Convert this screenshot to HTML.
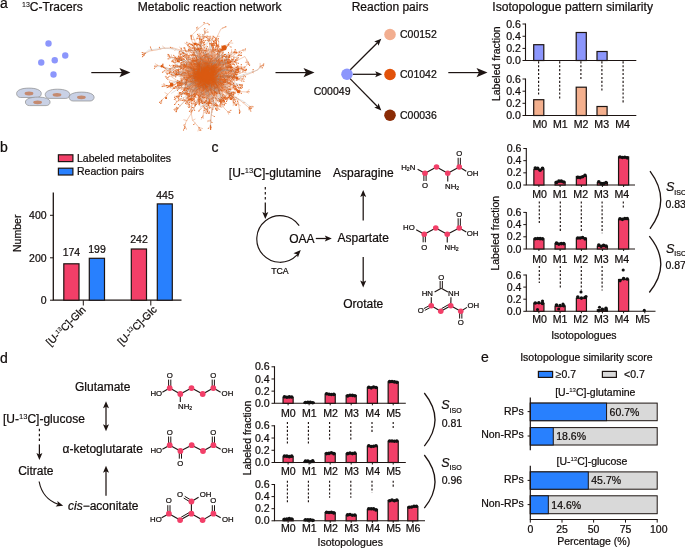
<!DOCTYPE html>
<html lang="en"><head><meta charset="utf-8"><title>Isotopologue similarity networking</title>
<style>html,body{margin:0;padding:0;background:#fff}svg{display:block}text{font-family:"Liberation Sans",Arial,Helvetica,sans-serif;fill:#120d0c;stroke:#120d0c;stroke-width:0.22px}</style></head><body>
<svg width="685" height="549" viewBox="0 0 685 549" fill="none" stroke="#1d1412" stroke-linecap="butt">
<rect x="0" y="0" width="685" height="549" fill="#fff" stroke="none"/>
<g id="panel-a">
<text x="0" y="8.2" font-size="14">a</text>
<text x="22" y="11" font-size="12"><tspan dy="-3.8" font-size="7" stroke-width="0.1">13</tspan><tspan dy="3.8">C-Tracers</tspan></text>
<text x="137.8" y="11" font-size="12.1">Metabolic reaction network</text>
<text x="351.7" y="10.5" font-size="12">Reaction pairs</text>
<text x="492.3" y="10.5" font-size="12.1">Isotopologue pattern similarity</text>
<circle cx="48.5" cy="43.5" r="3.2" fill="#8C96FC" stroke="none"/>
<circle cx="65.25" cy="55.5" r="3.2" fill="#8C96FC" stroke="none"/>
<circle cx="41.25" cy="62.5" r="3.2" fill="#8C96FC" stroke="none"/>
<circle cx="54.75" cy="60.25" r="3.2" fill="#8C96FC" stroke="none"/>
<circle cx="53.5" cy="74.5" r="3.2" fill="#8C96FC" stroke="none"/>
<path d="M16.6,93.55 C16.6,89.98 22.03,88.1 28.95,88.1 C35.87,88.1 41.3,89.98 41.3,93.55 C41.3,95.81 39.57,97.5 37.35,97.5 L20.55,97.5 C18.33,97.5 16.6,95.81 16.6,93.55 Z" fill="#C9D1E5" stroke="#8C8C8C" stroke-width="0.7"/>
<ellipse cx="29" cy="93.5" rx="4.4" ry="1.9" fill="#C48A70" stroke="none"/>
<path d="M45.2,94.54 C45.2,91.04 50.61,89.2 57.5,89.2 C64.39,89.2 69.8,91.04 69.8,94.54 C69.8,96.74 68.08,98.4 65.86,98.4 L49.14,98.4 C46.92,98.4 45.2,96.74 45.2,94.54 Z" fill="#C9D1E5" stroke="#8C8C8C" stroke-width="0.7"/>
<ellipse cx="57" cy="94.8" rx="4.4" ry="1.9" fill="#C48A70" stroke="none"/>
<path d="M69.1,97.26 C69.1,93.88 74.6,92.1 81.6,92.1 C88.6,92.1 94.1,93.88 94.1,97.26 C94.1,99.4 92.35,101 90.1,101 L73.1,101 C70.85,101 69.1,99.4 69.1,97.26 Z" fill="#C9D1E5" stroke="#8C8C8C" stroke-width="0.7"/>
<ellipse cx="81.4" cy="97.3" rx="4.4" ry="1.9" fill="#C48A70" stroke="none"/>
<path d="M25.4,102.03 C25.4,98.8 30.83,97.1 37.75,97.1 C44.67,97.1 50.1,98.8 50.1,102.03 C50.1,104.07 48.37,105.6 46.15,105.6 L29.35,105.6 C27.13,105.6 25.4,104.07 25.4,102.03 Z" fill="#C9D1E5" stroke="#8C8C8C" stroke-width="0.7"/>
<ellipse cx="37.6" cy="102.3" rx="4.4" ry="1.9" fill="#C48A70" stroke="none"/>
<line x1="91.3" y1="72.6" x2="122.2" y2="72.6" stroke-width="1.2"/>
<polygon points="130.4,72.6 119.4,77.2 121.9,72.6 119.4,68" fill="#1d1412" stroke="none"/>
<line x1="275.5" y1="72.6" x2="306.3" y2="72.6" stroke-width="1.2"/>
<polygon points="314.5,72.6 303.5,77.2 306,72.6 303.5,68" fill="#1d1412" stroke="none"/>
<line x1="448.3" y1="72.6" x2="479.3" y2="72.6" stroke-width="1.2"/>
<polygon points="487.5,72.6 476.5,77.2 479,72.6 476.5,68" fill="#1d1412" stroke="none"/>
<defs><radialGradient id="core" cx="0.5" cy="0.5" r="0.5"><stop offset="0" stop-color="#DE5C0E" stop-opacity="0.95"/><stop offset="0.45" stop-color="#DC5E12" stop-opacity="0.8"/><stop offset="0.8" stop-color="#D8662A" stop-opacity="0.35"/><stop offset="1" stop-color="#D8662A" stop-opacity="0"/></radialGradient></defs>
<ellipse cx="206" cy="75.5" rx="27" ry="25" fill="url(#core)" stroke="none"/>
<path d="M209.96,71.98L218.67,63.21M211.22,78.92L218.49,80.09M199.25,73.39L195.98,72.81M204.63,86.57L208.31,92.99M213.65,64.97L218.93,53.44M206.04,76.44L202.16,72.6M210.21,68.17L205.2,60.99M209.53,82.73L203.35,93.56M207.04,76.46L211.02,73.76M194.31,69.02L182.15,75.64M204.37,77.02L195.7,73.87M190.99,76.87L186.5,63.29M209.73,73.51L204.03,71.28M210.6,77.34L212.94,66.55M199.55,66.29L203.04,63.12M209.6,76.62L213.14,62.23M218.33,81.9L230.45,87.29M207.52,77.85L206.83,86.17M218.58,72.9L218.91,82.46M194.55,74.72L198.93,62.46M214.37,84.09L220.16,88.58M205,71.45L204.65,66M192.33,79.01L193.88,85.04M205.37,75.28L218.45,75.42M204.18,82.69L207.05,84.83M199.87,80.32L210.69,70.7M202.45,77.29L208.91,64.73M207.02,74.46L200.01,65.14M220.2,78.45L221.55,90.77M202.7,69.25L204.26,64.1M206.18,78.49L202.81,90.14M214.81,86.32L216.59,93.83M207.3,75.53L201.25,81.76M208.8,72.69L205.96,74.48M212.94,71.66L214.62,66.74M205.58,75.02L201.16,83.58M199.45,69.72L199.31,58.63M192.53,68.56L187.03,72.77M199.81,75.84L206.72,65.03M197.4,79.77L195.14,85.76M201.68,79.44L206.94,73.41M206.73,70.03L202.05,73.23M210.47,79.49L209.53,73.6M203.16,72.5L202.75,68.53M209.49,70.36L207.81,55.5M206.21,76.77L191.45,77.53M198.9,62.08L205.62,74.08M195.83,70.08L206.59,78.38M213.07,72.08L213.18,83.88M204.41,77.57L210.71,79.55M206.96,68.57L218.53,69.03M207.04,87.78L205.27,90.76M201.65,68.95L187.17,71.76M211.57,77.47L204.98,85.1M214.31,63.43L205.83,53.91M207.8,78.14L200.91,66.98M211.37,81.72L202.9,87.49M214.08,69.82L206.78,66.16M207.05,66.96L199.4,67.45M205.84,76.22L197.09,83.23M199.45,77.8L204.68,77.89M196.9,62.58L203.52,59.4M212.69,77.5L223.43,70.28M195.52,64.76L198.7,64.99M204.24,76.68L208.22,73.94M205,73.98L198.14,86.39M195.62,74.63L187.32,62.5M208.76,81.55L209.29,78.15M206.77,75.04L214.86,82.79M205.32,73.37L210.31,75M192.43,78.06L192.06,92.24M204.72,76.78L210.64,86.94M200.69,70.28L194.65,75.55M203.14,77.14L194.13,70.45M209.32,66.96L222.49,70.55M197.01,71.18L200.74,66.12M205.66,74.45L212.92,78.91M196.21,73.94L199.39,74.62M207.75,74.27L212.87,63.19M202.25,73.86L189.26,77.35M205.32,74.21L210.53,75.41M205.83,76.62L215.34,66.06M202.1,81.9L212.53,91M205.05,83.53L201.48,87.61M205.78,74.36L209.61,68.48M215.73,83.98L220.43,73.4M203.34,79.17L194.87,87M204.53,75.61L200.64,73.07M204.88,75.25L209.83,61.33M202.83,69.87L196.77,68.22M202.56,87.24L198.37,101.48M196.35,82.51L197.94,75.84M216.17,69.59L204.25,66.65M197.56,80.28L188.86,75.91M203.46,72.98L197.27,81.14M200.73,69.89L197.75,71.74M199.42,74.2L189.65,65.8M206.71,77.02L211.74,80.65M205.54,83.15L208.74,81.66M209.74,66.08L204.42,62.08M204.87,76.49L191.43,77.81M204,75.97L206.7,78.62M209.69,68.44L205.44,70.03M207.33,70.28L204.37,74.2M202.7,87.56L209.29,83.31M212.31,80.29L215.41,92.4M203.23,78.63L191.03,74.82M198.22,70.19L199.08,61.7M208.17,80.78L214.2,71.99M205.3,74.56L200.65,76.29M199.74,85.68L208.13,84.15M197.33,64.94L193.68,70.43M192.08,83.1L188.48,84.54M212.59,68.2L221.06,63.36M200,82.87L194.86,71.85M204.98,74.63L200.98,73.37M206.48,75.47L207.94,82.27M190.58,69.47L199.1,60.66M197.81,83.3L199.6,77.18M217.62,70.45L213.9,80.98M219.23,80.07L216.1,86.39M218.17,81.45L213.67,78.96M200.64,80.66L189.57,86.01M205.28,71.32L203.81,65.4M208.7,79.04L208.31,73.93M205.45,75.2L198.5,75.84M213.53,66.39L216.93,62.48M206.12,75.49L220.79,76.36M204.32,76.73L201.38,63.02M210.39,74.42L210.71,77.8M208.68,75.37L202.64,88.98M213.19,71.01L214.75,78.03M202.05,77.34L196.1,80.66M207.6,80.79L210.03,77.13M201.69,83.07L216.35,83.15M213.04,65.82L205.41,60.82M207.29,84.79L206.32,95.09M208.12,69.23L210.87,74.41M198.06,77.1L194.85,79.58M207.59,71.69L204.9,68.59M205.05,74.93L212.34,69.73M194.65,74.25L188.47,62.94M204.26,72.56L205.42,62.98M207.03,76.3L212.02,78.93M201.4,81.48L210.61,81.83M206.91,71.18L197.21,74.03M211.43,79.03L212.31,74.99M201.91,76.97L201.39,87.87M208.15,75.91L219.11,78.85M207.49,76.14L206.87,80.78M209.98,72.88L207.22,70.9M205.61,81.27L210.76,92.01M201.74,69.26L204.14,73.61M205.53,75.47L192.07,75.32M203.39,73.95L198.59,70.68M194.79,81.55L194.92,85.6M202.37,80.18L217.08,79.93M206.08,76.63L212.02,67.97M205.2,64.98L207.38,60.91M219.49,70.42L223.8,69.56M201.06,81.51L206.29,72.83M217.99,71.85L219.18,79.1M205.65,75.27L191.89,79.31M215.59,79.83L205.74,83.44M217.14,67.89L211.26,74.67M200.18,72.42L197.41,74.65M214.89,72.98L216.65,78.92M198.29,77.16L189.8,67.26M205.61,68.93L201.51,73.72M206.37,73.46L200.43,81.25M201.25,77.72L199.78,87.49M205.7,76.13L203.85,72.44M214.21,78.14L206.36,75.32M202.71,79.64L204.68,89.26M207.68,69.77L216.96,71.57M207.66,88.31L221.07,87.95M201.9,77.33L204.1,83.33M202.52,73.9L213.77,71.98M215.69,77.69L212.55,81.72M193.47,77.03L206.13,69.19M208.95,87.21L214.92,88.01M205.85,77.4L207.67,69.91M210.15,74.27L214.59,84.89M211.6,79.43L221.17,71.47M218.2,75.17L205.79,70.62M196.23,86.43L195.71,82.33M194.15,81.91L188,73.61M205.31,73.41L216.04,66.87M205.23,74.46L193.26,80.02M215.92,73.83L225.8,69.35M194.4,72.47L182.49,80.3M215.65,80.93L214.36,86.33M203.2,69.91L202.92,58.63M206.35,74.85L204.7,85.98M206.23,73.75L209.73,69.24M207.05,83.49L210.82,83.84M214.52,83.9L204.98,94.9M205.21,67.66L211.9,60.56M206.57,77.57L196.19,71.58M194.71,74.27L180.35,74.98M215.59,76.36L219.52,82.73M203.16,76.39L195.97,64.78M214.35,71.87L221.83,74.39M206.86,74.66L202.25,77.62M203.25,77.23L204.78,62.76M201.38,70.26L198.41,60.07M207.35,74.86L209.79,76.99M204.61,71.08L206.29,65.58M205.17,80.68L197.26,79.01M202.17,74.73L206.55,72.73M203.71,78.63L201.66,70.15M200.19,80.13L207.7,76.45M211.64,78.39L218.05,82.7M199.6,80.24L200.22,84.52M198.55,79.05L206.62,72.14M205.83,74.14L203.78,59.39M198.09,72.88L193.58,80.05M214.43,68.97L209.98,79.9M197.79,71.46L194.15,69.23M207.63,81.31L204.48,87.13M210.86,75.18L209.39,68.25M208.51,81.28L200.37,84.51M206.75,77.09L205.59,73.39M207.24,77.08L211.64,71.15M210.45,85.13L213.95,82.49M204.02,76.46L199.03,82.26M196.37,72.89L193.25,78.37M215.57,76.28L220.52,78.22M207.24,73.98L193.61,69.47M205.27,75.18L208.15,72.23M206.27,76.54L201.45,67.43M202.78,69.58L199.62,70.84M201.92,77.99L213.2,78.31M206.85,69.57L216.02,69.9M191.15,68.76L181.29,75.13M211.28,71.3L214.24,59.16M212.37,74.63L207.69,84.87M204.64,73.84L200.29,78.44M198.26,76.89L187.39,84.66M203.07,72.39L203.11,79.91M202.63,75.6L200.95,67.14M210.49,71.92L220.68,70.05M211.89,67.36L218.67,72.18M203.91,88.09L196.92,85.62M197.82,83.56L194.63,93.31M204.85,74.72L202.16,76.29M215.42,81.82L213.86,95.92M206.02,74.13L217.37,83.59M204.91,75.63L215.39,72.48M213.98,87.06L209.91,84.53M191.98,81.52L185.3,81.01M206.97,79.05L205.42,75.31M201.88,67.17L191.86,61.81M203.53,77.27L199.29,82.43M204.12,62.79L204.67,68.25M205.08,73.39L213.08,62.21M192.28,79.91L189.13,87.32M199.53,88.64L194.3,94.7M209.1,64.66L208.83,68.91M198,74.54L191.82,80.97M206.8,86.01L194.76,89.32M202.43,69.1L195.34,62.71M198.3,71.79L193,73.79M211.8,64.05L221,64.96M205.15,76.77L216.78,68.9" stroke="#8E8E8E" stroke-width="0.3" opacity="0.9"/>
<path d="M203.65,72.61L199.88,71.74M211.43,77.1L220.27,79.22M201.14,77.07L210.34,86.14M203.9,73.47L191.18,66.78M207.89,72.27L211.88,77.37M205.3,75.49L210.69,87.09M198.14,72.89L201.63,74.26M201.61,67.3L198.42,74.78M208.26,66.07L208.68,77.45M202.5,74.56L200.76,61.17M200.12,77.81L207.1,87.68M206.25,75.17L207.26,64.2M202.92,68.34L194.04,63.46M209.57,69.06L195.42,71.38M194.7,61.75L201.22,48.33M200.09,79.37L211,80.93M208.35,76.02L216.75,84.9M201.32,78.16L213.09,84.69M215.84,54.42L213.46,67.57M200.53,80.65L213.66,77.08M205.92,78.72L198.45,74.03M213.57,75.19L208.1,81.07M187.38,73.36L182.73,64.05M213.28,80.48L223.09,84.53M207.51,82.02L204.86,86.2M205.49,74.99L205.42,79.78M207.93,71.85L193.36,75.02M209.61,77.28L207.29,80.81M208.97,75.47L194.78,72.92M191.29,72.27L185.36,83.1M210.35,105.52L204.68,112.78M204.93,84.15L215.82,81.1M207.12,74.37L221.39,70.23M218.77,67.18L218.78,54.79M195.51,81.6L193.25,67.42M219.5,73.39L213.08,82.18M218.06,87.54L221.18,86.96M179.41,85.67L185.6,73.72M205.44,79.45L205.83,85.96M206.02,75.52L197.57,86.58M190.37,72.92L187.37,74.1M205.66,75L211.56,86.12M217.8,83.96L217.89,93.68M203.59,74.28L213.93,67.94M194.37,66.19L185.33,65.5M208.11,77.32L215.57,80.97M208.59,89.78L197.01,98.39M217.87,93.42L209.73,92.62M206,76.3L204.81,69.58M218.04,76.32L213.07,71.42M212.98,76.76L211.4,89.01M200.23,77.59L206.08,64.95M190.63,68.46L200.28,74.54M204.78,74.89L209.31,78.61M211.67,76.87L209.61,81.89M204.89,75L201.95,79.21M205.47,84.5L205.13,81.33M210.3,73.07L212.09,69.18M192.42,75.38L182.23,83.48M198.09,85.41L194.61,72.9M178.53,92.04L185.29,94.44M211.53,69.1L209.33,79.92M209.76,75.03L202.28,76.23M208.79,84.58L217.84,84.86M215.74,77.54L214.65,80.62M199.74,71.82L199.77,62.47M201.34,78.21L208.22,77.54M204.12,62.49L212.29,72.28M196.22,55.85L197.64,67.08M194.07,64.25L182.93,65M207.35,69.45L195.38,69.22M205.29,72.71L210.67,75.43M193.42,76.48L194.61,65.34M205.21,74.66L207.57,77.81M205.09,74.83L208.01,76M200.52,66.36L195.44,56.27M192,77.68L195.47,74.94M206.93,74.82L221.08,76.38M212.71,101.49L218.99,109.25M208.21,69.7L215.1,63.76M205.73,76.78L192.01,77.98M191.74,79.07L195.94,84.19M208.49,73.62L217.9,66.92M201.8,78.54L209.52,78.49M203.26,84.1L203.32,98.33M205.12,74.62L218.13,69.54M205.42,74.31L205.56,65.9M204.62,78.5L207.84,76.91M202.18,84.93L213.92,83.17M204.4,73.48L198.21,71.15M206.46,78.27L192.59,78.53M210.82,71.71L196.6,76.33M204.45,76.49L204.73,80.57M200.91,73.01L200.88,59.37M196.22,83.39L202.75,86.08M213.14,73.54L208.63,73.45M204.76,80.18L199.92,83.7M211.8,73.26L221,63.82M220.67,64.21L213.26,59.69M212.66,80.42L207.85,79.74M202.96,71.94L207.57,76.73M215.1,82.56L211.3,81.97M194.42,83.7L189.84,80.33M209.75,73.96L217.74,66.8M206.75,87.06L212.53,85.6M204.58,75.01L194.86,80.35M204.29,73.04L206.34,86.99M194.47,74.69L199.83,73.66M197.36,75.2L198.24,80.37M221.89,93.8L225.25,95.13M203.26,55.98L216.87,49.74M211.56,88.09L211.23,73.86M201.14,79.09L204.53,85.19M203.56,84.47L210.5,82.48M200.37,80.99L205.99,69.43M206.66,64.8L210.06,65.56M205.36,67.23L198.04,78.91M209.95,73.88L209.15,84.25M209.55,75.09L219.99,69.04M214.04,72.05L214.38,75.33M183.05,92.98L177.61,95.54M198.13,69.55L195.19,75.83M208.88,72.19L207.49,86.98M202.5,64.25L203.33,72.57M207.25,72.48L201.29,69.82M205.09,69.99L205.18,75.38M184.35,74.1L186.42,68.71M205.82,75.08L210.6,79.52M220.16,68.63L225.14,63.06M205.33,77.57L216.95,73.44M208.37,87.89L213.05,93.66M205.2,84.08L199.29,75.77M200.7,65.81L198.71,70.63M205.72,74.3L214.55,78.01M197.53,66.18L199.65,69.68M195.77,85.38L195.03,80.06M204.54,75.22L209.47,75.68M220.14,83.49L212.94,91.08M209.28,65.25L214.02,79.06M214.03,72.05L199.41,73.64M214.57,69.23L219.29,59.91M206.25,78.42L198.5,77.54M206.22,60.72L208.04,57.78M202.19,72.79L195.49,65.91M192.65,80.99L182.34,84.57M213.32,76.07L202.91,76.76M203.72,75.44L198.64,76.3M220.39,89.4L227.24,93.85M205.27,74.98L201.62,74.89M207.04,69.2L220.02,74.87M205.65,71.52L209.55,68.56M202.73,74.96L206.36,88.52M199.17,74.78L205.82,76.34M224.05,90.16L217.91,83.08M197.74,67.37L200.02,59.98M195.11,86.59L183.72,90.91M205.46,74.1L206.98,70.86M185.85,64.1L181.64,74.23M232.31,80.35L228.73,77.16M223.27,92.97L219.99,88.27M207.6,75.03L213.3,79.53M203.26,73.7L199.38,69.87M216.25,86.25L216.82,100.48M215.58,65.22L205.47,72.38M215.5,75.67L205.58,71.57M215.76,77.69L207.97,82.92M225.58,76.45L234.54,72.96M207.91,81.81L197.63,81.36M205.48,74.61L206.75,82.95M203.57,67.7L197.72,65.65M210.9,54.7L210.01,63.93M211.68,69.63L211.48,72.8M205.43,73.25L205.08,58.92M206.05,82.47L196.59,72.3M198.18,77.82L187.61,72.82M206.9,76.03L198.96,87.73M207.75,75.38L206.52,72.11M225.55,89.8L229.72,93.34M211.11,78.77L211.3,74.6M202.34,81.32L210.35,82.38M202.79,77.74L209.47,76.2M216.97,60.64L227.19,62.66M194.24,89.98L183.11,87.27M210.89,69.14L212.63,65.43M206.14,67.3L220.87,67.7M205.43,75L210.46,86.52M204.61,87.42L201.59,101.43M199.5,58.1L206.42,63.82M199.27,58.27L190.64,49.31M196.84,80.73L202.81,75.81M206.08,76.91L211.09,73.33M204.19,76.15L205.59,89.69M205.88,56.11L199.64,64.87M206.45,69.08L213.44,76.16M214.27,67.85L216.37,73.32M209.42,80.31L209.49,85.18M182.82,72.05L180.5,76.4M221.4,85.95L233.08,94.63M208.6,74.71L207.29,62.24M210.1,78.38L205.91,81.92M192.05,84.17L187.7,72.46M204.13,67.82L206.17,54.42M208.05,71.85L201.03,63.19M211,78.6L212.63,70.73M194.44,64.14L189.11,66.92M201.33,67.4L207.12,80.33M213.53,86.85L225.06,82.33M208.47,77.03L198.9,74.5M189.65,93.8L189.09,97.44M230.34,76.93L223.3,80.77M206.43,80.33L217.49,75.95M207.02,82.09L197.2,90.02M210.91,62.25L200.49,64.3M207.85,89.29L199.05,100.9M196.12,76.76L189.89,74.81M215.93,58.38L220.22,52.52M204.2,81.06L202.3,86.68M195.42,61.09L200.24,64.66M208.56,63.4L212.8,75.76M206.41,83.44L201.74,83.64M202.27,75.63L197.54,75.88M229.48,75.92L216.65,78.54M202.41,70.14L193.16,79.4M202.39,71.65L212.86,73.55M216.91,67.07L216.24,63.73M205,75.75L196.1,85.69M210.64,93.89L203.38,97.74M207.08,72.21L210.14,66.45M205.39,75.19L203.32,81.67M219.45,78.32L228.23,70.63M221.01,79.64L227.61,79.89M197.32,63.38L207.83,56.69M199.51,70L196.03,60.07M203.7,72.1L204.38,63.64M208.43,69.47L196.93,64.74M202.32,83.67L198.96,91M222.64,80.67L232.15,83.07M213.83,55.64L222.47,50.79M195.25,68.81L209.39,67.09M204.57,75.53L201.97,72.2M207.02,75.87L216.28,85.61M203.44,66.81L201.75,53.65M202.61,62.21L205.74,62.5M200.9,75.37L198.4,78.12M216.11,87.65L207.9,97.17M203.36,68.46L196.99,79.71M209.08,75.04L203.64,77.92M196.28,55.39L188.29,66.85M211.92,93.46L222.83,88.47M199.75,70.77L188.88,73.18M194.3,76.54L198.06,85.88M209.71,83.37L202.28,92.03M212.77,84.14L216.3,84.08M212.27,79.94L214.74,69.63M209.87,70.48L201.81,66.86M205.18,86.91L206.22,90.2M207.2,74L204.13,71.82M195.11,57.57L187.79,60.03M212.14,109.24L212.01,112.7M212.22,70.64L219.44,58.81M202.83,71.74L216.75,76.83M206.09,57.39L199.76,44.6M219.35,85L219.04,91.88M194.21,76.23L194.57,81.24M212.58,79.58L220.33,67.74M195.56,77.84L198.69,71.5M206.35,79.35L205.51,75.77M208.55,78.63L207.17,92.01M208.44,70.68L211.91,76.78M193.36,55.07L187.89,55.85M228.62,90.06L233.77,86.13M205.45,74.69L211.91,73.82M208.03,77.84L209.53,75.21M209.67,84.05L216.66,79.73M208.09,80.11L205.17,68.22M208.08,76.3L204.93,73.75M204.54,74.24L208.88,63.6M207.96,82.38L207.55,78.61M201.38,75.17L204.07,73.46M208.15,80.78L199.44,90.4M200.64,79.72L210.78,80.01M227.91,68.84L219.01,68.09M196.3,72.96L199.48,72.3M205.49,77.21L218.07,79.61M203.84,70.37L209.15,70.96M201.57,63.14L204.46,60.04M212.21,76.81L207.73,76.99M209.25,79.6L209.04,69.73M195.21,83.01L199.51,76.21M184.91,89.67L187.31,75.58M209.95,65.48L222.38,69.83M205.63,100.9L200.2,94.93M198.06,73.65L194.56,75.21M212.13,73.82L223.49,69.06M205.82,74.23L216.01,65.21M200.01,70.15L194.05,69.39M202.18,83.48L210.01,90.87M208.49,74.22L207.43,83.32M210.4,79.47L209.16,83.88M205.15,76.34L210.19,79.44M197.26,71.4L200.52,81.7M191.53,78.25L184.26,72.01M206.11,78.13L199.32,84.26M214.07,75.59L218.74,70.08M208.24,78.91L210.86,76.16M194.92,78.89L204.07,86.38M210.02,73.91L216.72,83.7M197.17,68.09L202.88,56.19M204.45,61.24L205.17,49.34M209.15,72.99L212.27,69.71M207.94,64.48L197.42,56.07M200.11,76.54L198.68,68.17M195.47,75.03L198.82,82.65M196.82,70.47L200.37,68.52M212.61,65.1L225.23,61.75M229.87,76.52L226.6,75.1M199.6,62.33L194.8,68.31M204.53,76.22L198.12,63.35M212.33,73.56L204.11,76.81M194.32,73.02L200.43,84.25M205.77,74.97L192.9,73.94M211.93,62.47L223.28,52.85M211.99,84.01L205.53,83.54M212.14,75.15L215.78,69.58M196.72,60.63L191.37,60.7M203.73,74.67L190.38,67.92M218.38,86.41L218.67,81.54M209.63,76.57L210.04,73.45M195.65,69.81L188.81,72.04M184.15,63.7L170.66,69.07M181.09,75.63L181.73,90.01M205.86,82.97L202.66,86.92M196.12,71.46L191.84,70.54M207.5,79.78L208.01,86.16M201.66,69.05L205.61,74.94M211.34,95.03L196.93,94.6M184.58,80.93L183.34,76.53M196.48,84.12L191.85,80.37M212.28,68.51L207.82,68.15M203.45,76.67L193.53,72.18M211.62,79.63L205.34,87.08M200.7,89.63L199.27,93.15M215.9,66.26L224.9,76.11M195.99,60.4L189.83,64.17M204.41,71.96L207.83,67.05M209.56,78.33L208.17,64.45M211.01,76.33L212.84,79.29M209.36,75.9L205.01,70.76M211.62,66L209.58,56.37M203.8,81.76L205.94,78.97M205.49,72.48L204.12,68.68M205.43,75.32L209.28,73.98M214.41,77.93L204.16,82.88M214.34,71.03L214.68,66.51M205.04,81.08L214.42,79.25M184.81,69.57L190.4,71.76M202.87,81.09L201.63,76.62M205.83,79.05L199.96,78.48M202.25,84.37L210.81,94.97M217.6,84.81L213.46,89.79M208.56,83.2L197.74,86.87M203.82,78.08L198.2,84.63M207.15,74.92L217.52,80.97M206.29,74.91L213.86,81.08M198.39,73.17L201.1,71.67M203.25,72.85L195.08,61.2M205.67,75.03L212.23,64.63M210.66,66.36L205.15,76.91M214.15,59.37L209.51,64.4M206.56,89.75L203.37,88.32M213.52,86.3L207.76,83.08M202.72,76.03L201.82,70.82M206.52,73.52L209.57,60.62M201.72,74.68L197.46,81.51M196.5,60.69L207.14,53.36M201.99,73.63L204.4,80.39M227.16,70.09L231.07,60.42M194.28,54.15L191.28,64.01M209.59,75.67L207.31,70.92M194.61,85.47L185.98,90.47M196.95,71.58L202.79,76.69M214.68,82.24L214.39,95.58M195.71,73.22L189.7,73.63M207.3,76.44L199.52,71.6M210.42,78.4L200.33,86.54M207.92,60.84L208.68,56.26M205.83,78.66L213.26,79.38M204.86,72.85L211.07,67.63M208.27,77.2L201.88,64.62M207.99,71.28L215.53,77.81M215.23,82.5L220.22,94.08M202.05,77.97L205.4,74.63M198.7,59.23L210.74,55.21M201.6,74.96L205.81,62.15M207.95,80.01L202.46,68.43M209.55,69.48L214.95,63.96M207.02,77.55L199.84,79.02M204,76.18L211.24,76.46M204.27,75.3L218.51,79.47M204.46,73.22L203.54,79.42M204.3,74.8L218.76,74.09M204.86,74.32L198.02,72.06M205.99,85.92L202.59,90.64M206.88,75.06L194.01,78.96M210.17,82.74L208.96,86.34M204.86,70.96L213.74,67.28M215.99,67.86L215.69,74.16M208.52,79.7L206.76,73.73M200.15,71.26L192.16,60.54M205,70.49L193.28,61.85M200.48,82.2L202.24,86.5M222.24,59.59L231.69,54.61M199.82,67.86L196.42,60.76M222.62,80.99L230.27,83.23M199.5,71.08L193.58,72.46M216.65,69.76L226.39,69M198.33,87.24L200.62,90.66M206.91,62.96L208.51,59.2M190.38,69.96L181.64,63.48M205.75,73.41L191.65,77.68M195.07,73.57L204.73,84.11M208.21,58.6L215.54,58.12M205.61,72.46L209.63,73.17M192.69,70.71L197.5,68.79M205.78,73.56L211.65,72.9M203.82,73.21L206.04,66.43M214.86,81.97L225.68,86.69M185.9,87.86L198.33,92.78M227.62,67.62L229.33,78.01M204.34,88.79L205.3,96.94M205.19,75.91L208.3,90.51M215.34,88.72L224.44,78.94M217.68,93.18L208.53,86.74M207.04,76.98L216.72,83.79M204.22,74.96L198.98,77.41M212.36,82.28L215.88,89.63M211.4,82.31L199.54,82.26M214.09,67.82L212.4,79.48M205.92,75.11L198.29,80.08M202.46,78.29L201.28,75.39M199.98,62.01L210.37,51.49M197.65,79.61L202.37,79.57M199.28,70.37L198.87,84.48M210.9,71.76L209.67,68.38M205.43,73.42L203.65,66.09M188.32,72.35L183.75,63.06M194.4,76.74L182.85,75.13M206.61,74.5L197.37,73.1M213.55,60.91L222.81,50.77M202.28,77.76L207.64,65.93M209.79,77.99L212.18,71.12M200.95,75.58L201.64,63.02M200.08,64.3L192.74,63.34M199.78,79.9L200.76,82.96M213.18,77.7L212.16,72.66M207.97,82.3L210.09,74.5M203.09,75.84L201.36,68.64M203.25,76.36L207.27,66.36M216.43,69.83L221.64,68.88M198.01,82.17L192.75,91.82M217.47,76.8L207.63,79.16M198.73,76.05L186.01,81.1M205.59,71.03L214.78,74.34M204.73,72.14L213.01,75.11M219.81,74.84L228.68,65.62M204.92,76.28L208.75,71.58M195.95,74.39L203.58,76.93M214.8,64.14L216.6,69.95M189.34,71.47L182.05,73.14M208.76,66L213.48,63.38M211.15,76.74L204.52,75.34M204.01,84.23L200.77,96.36M227.91,82.87L222.65,76.57M211.12,68.91L207.94,66.72M209.91,62.62L205.78,54.65M203.42,81.64L206.34,76.94M203.71,80.91L198.67,78.05M211.17,71.75L214.91,65.96M206.31,72.65L194.85,81.95M207.66,86.83L215.6,92.12M203.84,63.84L200.32,56.48M208.16,73.71L222.04,68.16M204.09,80L204.1,72.83M200.56,75.44L189.64,67.73M201.39,80.65L193.45,68.72M201.99,85.4L198.42,84M188.39,64.15L196.74,65.94M211.2,78.7L218.47,86.63M200.79,82.75L209.96,73.39M207.87,72.91L203.47,73.02M208.79,77.77L213.22,85.16M209.33,85.4L211.59,92.91M175.96,77L164.67,71.65M205.87,77.59L212.7,87.46M193.4,73.72L198.42,69.59M205.53,76L215.66,74.91M202.32,72.3L206.79,61.92M210.01,72.73L212.92,71.59M203.78,77.36L205.28,81.8M208.14,61.85L208.27,47.95M195.86,87.41L200.69,86.36M213.9,61.35L203.26,54.56M210.76,65.47L219.31,56.46M205.45,78.44L206.92,91.42M196.7,75.38L191.21,62.61M203.64,76.39L207,64.44M219.81,76.37L221.46,72.37M205.18,74.77L200.84,82.07M194.86,65.83L200.4,69.25M218.7,78.26L223.88,90.05M189.55,86.55L198.2,84.08M222.26,73.88L224.82,69.27M205.5,75.05L211.32,79.33M198.59,81.26L209.7,72.51M197.52,66.94L190.08,65.9M211.9,70.17L211.89,58.42M208.44,74.17L216.86,84.97M206,69.13L199.75,67.35M213.26,74.01L216.9,63.86M199.66,54.1L197.72,65.22M186.12,65.83L189.62,53.41M212.35,68.84L211.99,63.91M201.13,84.87L200.05,88.35M217.46,101.58L223.76,99.25M202.67,80.48L209.09,85.68M205.63,72.39L197.56,69.27M198.61,68.19L199.43,62.13M206.32,75.36L206.54,65.78M197.62,79.46L207.34,87.62M192.21,61.23L193.95,50.06M229.36,66.31L222.87,76.29M207.05,78.37L193.86,75.7M200.25,66.24L209.48,76.52M193.76,74.85L187.23,63.36M208.8,79.27L209.09,68.22M215.78,85.3L212.5,74.33M208.24,67.54L205.95,60.59M211.32,75.12L218.11,83.19M222.84,88.37L218.92,84.24M228.11,78.77L220.06,82.94M193.75,68.57L185.97,67.98M216.24,74.14L212.42,74.67M202.94,75.71L200.05,64.89M198.77,74.36L201.44,82.18M214.24,72.28L211.82,58.45M213.26,75.59L210.92,62.43M205.22,77.99L208.97,84.21M205.69,74.5L212.47,79.57M187.97,77.44L196.88,86.72M204.08,69.85L218.32,68.1M206.01,73.84L214.74,83.6M208.22,85.97L200.96,92.88M195.23,77.21L197.93,74.95M210.35,90.72L215.26,87.42M206.87,75.97L213.95,83.16M195.11,63.89L184.44,68.15M204.79,70.92L201.2,71.59M206.09,83.45L202.24,73.37M216.43,87.52L205.13,79.41M181.2,49.83L192.76,52.67M206.13,78.04L216.15,73.35M210.34,81.45L210.48,78.23M191.19,66.05L202.31,71.95M205.24,74.93L200.06,78.85M205.54,74.93L193.24,78.25M203.89,72.95L198.94,75.31M206.83,73.26L203.99,76.38M205.07,74.69L206.81,60.05M211.74,77.94L210.2,73.86M206.79,77.54L193.43,82.66M205.4,75.13L211.11,79M205.85,55.83L205.86,62.12M207.08,65.75L210.86,52.61M220.33,85.63L215.3,97.52M215.61,72.95L210.77,71.99M205.61,86.04L211.61,87.1M207.88,74.5L198.87,68.69M197.89,70.03L194.13,80.72M204.25,76.37L207.82,79.44M204.68,77.18L201.75,69.84M204.8,70.3L208.57,68.59M204.21,72.81L210.53,73.2M202.25,70.31L196.93,61.78M208.04,77.98L212.18,77.53M205.35,88.07L198.04,87M205.68,90.47L202.92,102.72M205.78,75.71L201.58,79.46M199.95,68.67L205.86,62.34M206.66,86.25L203.56,87.52M185.9,79.67L195.49,86.08M206.42,82L212.52,87.6M204.87,75.7L212.82,72.35M207.9,72.24L211.95,70.74M205.82,74.66L210.63,77.43M212.24,71.78L211.24,63.3M208.38,84.25L201.33,92.63M208.64,74.71L212.38,82.65M213.95,76.21L213.43,67.58M206.72,86.28L199.62,80.77M218.44,70.74L225.86,61.45M220,65.59L220.75,70.72M206.36,78.79L203.18,80.07M220.74,76.12L222.26,90.42M208.66,69.98L214.08,69.96M206.39,80.48L200.05,93.56M220.89,75.01L220.38,85.29M209.9,80.54L205.3,79.89M205.82,77.96L201.51,75.4M207.59,76.48L206.79,79.59M202.54,71.06L209.35,77.18M208.34,67.09L221.74,63.86M217.78,80.89L205.33,75M205.79,78.13L198.47,77.03M213.49,78.68L205.04,70.3M215.95,75.58L212.14,67.76M216.11,67.87L215.57,62.11M213.14,82.3L214.38,87.84M223.18,78.73L219.33,81.31M219.05,70.25L212.94,78.06M198.39,77.74L193.31,78.33M203.3,81.16L205.94,75.7M217.21,60.01L205.76,52.86M203.17,61L208.84,63.67M206.17,76.19L217.52,76.47M224.64,71.62L222.19,75.73M200.04,75.68L205.78,77.74M211.6,84.22L208.69,81.34M205.26,73.36L198.17,73.72M225.28,66.24L234.51,69.31M215.01,80.92L218.63,90.28M206.36,81.73L204.23,78.2M218.89,89.65L214.28,87.02M212.25,76.23L214.37,87.73M196.37,67.57L200.25,80.84M197.84,63.43L201.21,68.55M204.85,72.19L208.84,58.24M196.28,94.57L207.23,98.56M203.47,75.46L207.39,79.13M203.05,64.42L204.53,55.19M206.92,75.62L199.32,76.41M201.37,76.09L199.47,86.56M209.44,74.57L219.03,84.65M212.48,77.97L214.04,66.06M206.59,66.06L210.21,68.93M207.17,77.57L211.85,69.44M196.79,79.06L201.83,83.99M184.89,78.3L173.4,69.49M188.98,78.4L187.82,66.86M213.99,81.26L207.23,92.08M204.55,102.17L213.16,101.66M208.61,80.47L202.12,90.48M197.95,78.93L206.34,69.18M189,62.91L202.17,58.82M206.3,73.96L205.01,86.72M216.25,51.19L212.88,46.18M202.05,74.2L205.07,67.84M208.63,70.67L218.16,61.59M206.63,79.55L206.66,86.64M194.05,95.13L195.01,91.96M205.27,71.12L200.04,72.39M206.15,73.25L200.84,86.69M193.22,81.59L186.36,69.89M204.42,76.17L211.54,74.28M224.52,78.92L215.33,83.08M205.99,77.57L209.8,66.26M213.9,67.98L200.28,74.03M216.22,98.67L206.66,98.65M224.84,75L227.57,65.65M201.13,70.63L189.91,76.45M205.35,77.35L199.82,80.38M205.59,76L199.55,75.36M208.92,73.84L216.03,78.13M206.04,73.36L213.02,82.03M191.2,97.05L191.58,109.25M222.98,100.95L217.15,95.59M209.45,77.16L207.31,82.03M176.19,79.92L171.69,76.99M197,79L194.37,72.27M209.31,80.01L197.31,74.13M198.34,83.61L207.6,78.54M190.68,81.19L184.48,78.99M209.3,75.6L202.47,76.47M195.37,87.93L203.85,83.9M185.75,77.67L180.45,82.22M215.19,86.86L220.56,88.89M222.17,84.74L209.26,90.42M185.36,61.98L199.66,65.47M205.02,73.34L213.06,80.19M185.23,83.2L185.07,90.89M231.68,71.1L227.59,56.73M203.7,77.27L214.74,81.56M214.39,67.4L209.09,76.12M211.34,72.99L222.79,66.2M214.63,72.57L204.03,63.2M206.22,76.02L192.96,76.96M194.35,69.87L182.46,62.69M220.97,68.63L221.65,64.64M206.2,74.32L204.97,66.11M204.76,69.47L213.58,75.68M213.46,72.25L200.04,78.9M186.25,78.08L186.22,73.66M207.26,74.88L206.69,65.41M217.34,81.66L227.69,73.44M211.81,88.57L213.64,84.31M214.92,95.49L210.27,103.2M208.34,63.51L213.46,60.38M209.34,65.23L208.97,54.06M227.36,70.07L234.87,81.98M200.52,73.37L204.41,80.2M203.22,73.67L206.96,70.43M227.12,99.3L236.89,97.24M197.11,72.61L203.76,73.82M200.54,70.14L209.78,67.02M200.87,80.03L191.29,69.29M206.01,88.01L219.5,93.78M197.54,74.65L199.84,70.88M204.39,72.66L218.49,71.96M205.66,75.05L213.63,73.48M216.19,72.88L213.64,65.44M212.46,74.74L206.49,66.13M204.01,76.69L203.57,90.48M198.48,71.72L190.18,76.79M217.84,76.09L214.57,77.82M205.68,74.67L210.61,77.91M198.48,80.55L199.14,73.56M194.65,78.08L202.66,73.91M214.19,92.35L217.52,94.24M205.84,83.81L204.18,88.37M190.71,81.57L195.5,82.97M211.49,67.1L217.46,76.07M198.46,85.97L198.26,81.75M200.21,74.67L197.79,70.28M207.86,73.47L208.38,76.47M203.12,70.96L198.52,74.27M197.87,78.29L202.27,80.37M228.05,90.15L219.05,90.8M204.71,73.67L207.93,65.32M184.93,78.2L180.26,78.68M211.44,58.39L209.53,62.31M200.71,72.45L193.97,81.99M203.29,86.98L189.66,92.58M217.72,82.33L225.45,73.53M202.58,62.22L199.38,65.21M214.64,69.55L222.87,60.23M205.74,74.96L215.9,71.5M200.58,75.49L195.63,80.51M193.43,68.1L192.46,73.69M198.86,64.72L193.74,63.69M205.54,74.71L207.76,63.48M205.32,74.99L203.43,82.25M198.55,67.68L196.94,78.89M195.64,85.95L198.93,85.15M210.72,61.43L207.73,66.34M213.53,49.79L201.72,50.71M204.93,77.69L213.39,66.45M209.47,70.06L197.18,76.1M206.75,76.08L193.91,81.21M195.66,68.78L201.67,69.55M204.57,75.9L198.53,86.42M204.6,74.17L209.81,74.84M207.94,82L219.11,74.84M199.8,71.83L195.47,80.73M198.97,70.49L205.53,76.83M207.14,100.1L207.68,113.37M202.94,75.31L216.92,80.29M202.08,76.24L214.62,84.31M205.66,75.1L202.88,78.1M204.71,74.96L202.79,68.79M205.72,75.77L197.24,86.32M202.96,85.86L206.81,84.75M213.45,81.44L202.79,79.27M199.5,83.92L207.22,81.78M188.25,86.3L185.67,82.08M202.54,77.75L214.15,79.87M197.29,59.92L188.46,61.47M207.64,78.78L203.93,68.7M202.37,72.5L197.32,72.2M200.47,73.46L195.88,73.95M200.65,68.59L197.39,65.82M201.33,47.12L204.85,42M197.3,56.35L203.4,49.2M212.42,70.26L219.39,71.41M202.37,72.14L204.77,75.89M227.65,75.87L229.12,79.75M233.65,75.61L236.68,77.69M233.65,75.61L235.56,74.25M233.65,75.61L235.5,77.73M218.87,90.03L219.41,93.27M218.87,90.03L218.67,92.53M218.87,90.03L221.24,90.81M218.87,90.03L219.51,93.08M190.88,84.07L188.41,85.77L186.35,87.95M186.35,87.95L183.53,90.19M186.35,87.95L185.65,90.35M186.35,87.95L186.35,90.32M187.41,63.88L185.06,62.02L182.32,60.8L179.64,59.46M179.64,59.46L178.38,57.44M179.64,59.46L178.38,56.33M179.64,59.46L177.29,56.96M179.64,59.46L176.67,58.43M220.75,69.88L223.03,70.52M218.17,71.41L220.75,69.88L222.93,67.82M222.93,67.82L223.33,64.87M222.93,67.82L223.54,64.79M179,73.43L178.19,70.34M193.46,75.97L190.5,75.52L187.52,75.9L184.54,75.54L181.61,74.92L179,73.43M179,73.43L178.81,71.33M179,73.43L176.71,73.13M214.83,54.14L216.82,53.17M216.03,51.39L218.58,51.58M213.6,56.88L214.83,54.14L216.03,51.39M216.03,51.39L218.74,49.6M216.03,51.39L215.24,49.28M223.08,77.34L226,76.79M220.55,75.72L223.08,77.34L225.42,79.21M225.42,79.21L227.28,79.78M225.42,79.21L225.43,82.03M190.17,80.55L187.71,82.27L184.88,83.27L181.96,83.94L179.05,84.69M179.05,84.69L176.97,82.8M179.05,84.69L177.38,87.39M220.62,63.71L219.11,61.01M222.74,61.59L225.47,60.1M222.74,61.59L224.38,60.75M188.81,81.35L185.57,80.43M185.91,82.1L185.86,84.85M179.93,82.03L177.31,81.8M179.93,82.03L177.7,83.8M179.93,82.03L176.38,83.19M179.93,82.03L177.28,82.43M209.25,102.38L211.72,103.37M208.87,105.35L206.32,106.23M208.71,96.42L208.75,99.42L209.25,102.38L208.87,105.35M208.87,105.35L208.16,107.38M208.87,105.35L210.14,107.32M216.58,61.45L217.35,58.14M216.58,61.45L218.66,59.56M214.31,57.04L213.86,54.07L213.69,51.08L213.64,48.08M213.64,48.08L211.31,45.54M213.64,48.08L213.22,45.81M206.73,95.04L206.69,98.04L206.44,101.03M206.44,101.03L206.63,103.97M206.44,101.03L208.08,104.1M219.36,58.44L222.59,57.89M219.66,52.46L222.21,50.43M218.22,61.22L219.36,58.44L219.68,55.46L219.66,52.46M219.66,52.46L218.79,50.34M219.66,52.46L221.73,50.53M219.66,52.46L220.21,49.51M219.66,52.46L218.32,50.15M180.23,80.82L177.88,84.25M177.81,82.6L177.52,85.01M175.22,84.1L173.82,87.43M182.99,79.64L180.23,80.82L177.81,82.6L175.22,84.1L172.59,85.56L169.67,86.24M169.67,86.24L167.28,87.39M169.67,86.24L166.84,87.71M169.67,86.24L166.67,85.47M182.26,82.18L178.46,84.3M182.26,82.18L181.68,79.92M182.26,82.18L181.11,79.69M182.26,82.18L179.77,81.71M210.69,50.02L208.45,49.28M208.9,41.24L207.15,40.21M212.07,55.83L211.67,52.85L210.69,50.02L209.81,47.15L209.58,44.16L208.9,41.24M208.9,41.24L206.96,39.31M208.9,41.24L207.86,38.36M208.9,41.24L209.57,39.37M220.59,70.01L223.33,68.78L225.61,66.83M225.61,66.83L228.08,67.41M225.61,66.83L229.05,67.78M223.02,94.82L221.68,97.5M220.95,89.23L222.29,91.91L223.02,94.82M223.02,94.82L226.32,96.64M223.02,94.82L222.02,97.79M195.09,93.71L190.83,94.44M195.09,93.71L195.43,96.04M195.09,93.71L194.54,96.5M195.09,93.71L194.45,96.37M195.09,93.71L193.44,96.96M200.18,60.81L197.76,59.35M200.59,63.78L200.18,60.81L200.72,57.86M200.72,57.86L200.99,55.99M200.72,57.86L203.31,55.61M200.72,57.86L198.98,55.81M218.69,79.66L220.59,76.76M221.68,79.51L223.2,81.03M224.61,80.17L227.85,77.05M227.61,80.2L231.19,78.2M215.71,79.25L218.69,79.66L221.68,79.51L224.61,80.17L227.61,80.2L230.51,80.97M230.51,80.97L233.47,83.24M230.51,80.97L232.28,83.35M230.51,80.97L232.18,81.71M190.88,88.19L187.52,87.23M187.67,93.2L188.4,96.68M187.67,93.2L185.65,94.41M187.67,93.2L184.21,93.3M216.58,67.06L219.05,65.37L221.32,63.4L224.06,62.19L227.04,61.81M227.04,61.81L228.35,59.42M227.04,61.81L230.29,61.73M227.04,61.81L229.14,64.01M227.04,61.81L230.06,61.28M183.2,70.08L179.62,70.66M180.68,68.45L181.35,64.64M174.26,62.22L171.47,61.76M174.26,62.22L172,61.16M210.57,60.68L212.23,59.07M212,58.04L211.43,55.94M214.49,52.58L212.36,50.25M209.8,63.58L210.57,60.68L212,58.04L213.21,55.29L214.49,52.58M214.49,52.58L215.89,49.4M214.49,52.58L213.38,49.18M222.45,98.43L220.88,102.24M222.45,98.43L224.8,100.9M222.45,98.43L223.39,100.38M222.45,98.43L223.5,100.74M222.45,98.43L225.56,99.11M233.31,76.75L234.87,75.49M233.31,76.75L236.71,75.7M233.31,76.75L234.83,75.54M233.31,76.75L235.04,77.71M196.69,60.3L193.61,60.56M199.63,65.43L198.58,62.62L196.69,60.3M196.69,60.3L196.36,57.45M196.69,60.3L196.11,58.33M196.69,60.3L194.8,58.84M199.52,99.18L202.04,101.03M199.52,99.18L198.99,101.78M199.52,99.18L198.75,101.65M199.52,99.18L200.23,102.3M199.52,99.18L197.94,101.52M211.86,92.98L214.93,94.17M209.45,84.39L210.06,87.32L210.55,90.28L211.86,92.98L213.56,95.45L215.32,97.88M215.32,97.88L217.63,100.81M215.32,97.88L218.87,98.69M215.32,97.88L216.52,101.22M215.32,97.88L218.03,100.52M238.94,79.01L240.91,77.46M227.02,78.16L229.98,78.62L232.96,79.01L235.95,78.77L238.94,79.01L241.94,78.99M241.94,78.99L243.89,81.35M241.94,78.99L243.88,78.43M241.94,78.99L243.77,76.82M241.94,78.99L244.6,79.41M230.53,73.01L231.76,74.7M221.56,73.35L224.56,73.35L227.56,73.44L230.53,73.01M230.53,73.01L232.74,72.97M230.53,73.01L231.61,71.19M230.53,73.01L233.55,71.54M218.53,64.95L219.23,62.53M220.31,62.54L222.63,62.19M222.52,57.02L225.21,54.28M216.14,66.77L218.53,64.95L220.31,62.54L221.78,59.92L222.52,57.02M222.52,57.02L224.16,55.08M222.52,57.02L224.71,56.21M222.52,57.02L222.91,54.93M222.52,57.02L225.1,54.38M225.17,63.11L227.08,66.26M222.27,63.86L225.17,63.11L228.1,62.43M228.1,62.43L230.65,62.13M228.1,62.43L230.53,62.46M231.15,75.4L233.52,77.55M225.22,76.09L228.21,76.04L231.15,75.4L234,74.48M234,74.48L235.45,71.26M234,74.48L237.26,73.94M234,74.48L237.16,74.04M190.72,59.53L186.52,59.1M187.11,54.76L184,54.81M192.4,62.02L190.72,59.53L188.75,57.27L187.11,54.76M187.11,54.76L185.98,51.45M187.11,54.76L184.75,53.27M187.11,54.76L183.72,53.48M187.11,54.76L188.11,52.36M222.98,76.51L224.32,78.47M225.72,75.31L229.74,76.56M228.71,74.99L232.32,77.45M231.64,75.62L234.1,78.7M234.38,76.85L236.79,80.15M234.38,76.85L237.2,76.8M234.38,76.85L234.87,78.86M234.38,76.85L237.42,77.31M193.75,90.48L193.5,94.77M188.61,93.58L187.77,96.08M188.61,93.58L187.82,97.14M188.61,93.58L186.79,93.16M188.61,93.58L186.36,93.92M188.61,93.58L185.53,95.18M191.87,95.97L194.16,98.32M190.73,98.75L191.98,101.53M190.73,98.75L188.89,99.67M190.73,98.75L191.32,102.03M190.73,98.75L189.55,102.22M194.44,88.92L194.27,92.07M191.47,89.34L190.01,91.21M185.76,91.14L183.94,94.56M183.24,92.77L180.51,92.67M183.24,92.77L181.97,94.91M183.24,92.77L179.78,92.58M214.4,90.69L215.84,93.61M214.4,90.69L215.51,92.14M214.4,90.69L214.45,93.37M214.4,90.69L216.54,93.36M205.43,90.95L207.81,93.64M205.67,93.94L202.7,97.14M208.94,98.89L210.95,101.08M208.94,98.89L209.09,102.43M187.43,86.19L187.24,89.8M184.96,87.89L183.09,88.98M184.96,87.89L183.2,89M184.96,87.89L184.61,90.12M184.96,87.89L184.17,89.61M210.75,88.08L208.38,91.09M210.52,85.09L210.75,88.08L211.58,90.97L212.21,93.9M212.21,93.9L214.85,95.14M212.21,93.9L213.98,95.62M230.32,60.6L233.24,60.04M230.32,60.6L233.21,58.97M191.61,68.59L190.35,66.25M185.87,66.84L183.2,68.45M194.3,69.91L191.61,68.59L188.76,67.65L185.87,66.84M185.87,66.84L184.22,67.71M185.87,66.84L183.94,66.01M185.87,66.84L183.26,68.72M185.87,66.84L184.21,64.17M224.55,63.78L227.34,62.69L230.33,62.43M230.33,62.43L233.09,60.46M230.33,62.43L233.15,64.53M222.13,87.57L226.13,87.13M228.5,93.77L231.12,93.98M219.42,86.27L222.13,87.57L224.67,89.16L226.68,91.39L228.5,93.77L229.54,96.59M229.54,96.59L230.02,99.22M229.54,96.59L232.39,98.76M228.52,89.16L230.62,87.22M231.52,88.97L233.63,87.19M221.3,84.32L223.15,86.68L225.63,88.37L228.52,89.16L231.52,88.97L234.51,89.03M234.51,89.03L237.79,87.47M234.51,89.03L237.01,90.05M234.51,89.03L236.64,90.11M234.51,89.03L236.54,89.94M183.86,59.2L185.15,56.43M191.18,64.29L188.68,62.63L185.98,61.32L183.86,59.2M183.86,59.2L180.25,58.14M183.86,59.2L181.74,56.85M183.86,59.2L181.86,57.98M183.86,59.2L180.29,59M192.04,92.07L189.36,94.74M191.33,94.99L189.68,96.55M192.89,89.2L192.04,92.07L191.33,94.99L191.03,97.97M191.03,97.97L191.97,100.16M191.03,97.97L191.87,100.32M191.03,97.97L188.91,100.6M191.03,97.97L189.34,101.12M194.67,61.06L192.83,58.83M194.67,61.06L194.52,58.35M226.46,56.17L228.4,57.24M214.07,63.87L216.12,61.69L218.25,59.58L220.72,57.87L223.52,56.81L226.46,56.17M226.46,56.17L227.75,53.96M226.46,56.17L229.56,55.97M195.61,88.16L195.8,90.23M197.87,86.18L195.61,88.16L193.55,90.34L192.1,92.96L190.8,95.67M190.8,95.67L192.36,98.76M190.8,95.67L192,97.79M224.85,97.49L227.55,97.66M224.85,97.49L226.63,98.71M224.85,97.49L226.82,98.13M195.67,91.29L196.45,94.73M194.27,93.95L192.38,95.16M199.26,86.51L197.67,89.06L195.67,91.29L194.27,93.95M194.27,93.95L191.62,96.06M194.27,93.95L191.13,95.63M199.59,88.63L195.99,90.44M199.22,91.6L202.7,93.97M200.29,85.71L199.59,88.63L199.22,91.6L199.16,94.6L199.29,97.6M199.29,97.6L199.13,100.12M199.29,97.6L201,100.74M199.29,97.6L198.02,99.65M199.29,97.6L200.98,99M222.46,71.8L224.24,70.28M216.52,72.67L219.48,72.17L222.46,71.8L225.46,71.79L228.39,72.42M228.39,72.42L229.8,71.26M228.39,72.42L231.59,71.37M220.27,99.43L221.02,102.72M220.27,99.43L219.37,101.07M220.27,99.43L221.2,101.26M196.6,66.91L194.46,64.8L193.13,62.11L191.89,59.38L189.81,57.22M189.81,57.22L186.57,55.25M189.81,57.22L188.95,55.54M189.81,57.22L187.86,57.13M191.95,69.1L189.28,67.74L186.67,66.26M186.67,66.26L184.25,64.7M186.67,66.26L183.58,64.63M186.67,66.26L186.48,64.03M185.01,82.58L183.9,84.31M182.35,83.96L178.79,83M190.84,81.3L187.86,81.64L185.01,82.58L182.35,83.96M182.35,83.96L179.86,86.06M182.35,83.96L179.41,83.83M182.35,83.96L180.26,84.42M182.35,83.96L179.39,85.86M193.1,83.02L191.07,81.44M188.12,86.36L185.81,84.49M182.35,87.79L181.16,85.75M182.35,87.79L178.9,87.55M182.35,87.79L180.75,90.19M204.9,47.71L204.65,44.38M208.97,39.76L212.83,40.26M208.97,39.76L210.07,36.24M208.97,39.76L208.92,37.22M208.97,39.76L210.32,37.93M199.41,54.99L195.56,55.29M200.52,57.78L199.41,54.99L198.86,52.04M198.86,52.04L200.34,48.61M198.86,52.04L200.65,49.8M198.86,52.04L197.19,49.75M236.21,67.79L239.19,68.25M225.62,72.81L228.6,72.42L231.43,71.41L233.77,69.54L236.21,67.79M236.21,67.79L237.33,65.92M236.21,67.79L239.54,66.92M236.21,67.79L237.98,66.75M236.21,67.79L238.42,65.79M195.48,55.56L192.96,54.94M192.49,50.39L190.09,49.5M196.88,58.21L195.48,55.56L194.25,52.82L192.49,50.39L190.62,48.04M190.62,48.04L187.91,45.4M190.62,48.04L191.3,44.72M190.62,48.04L189.22,46.46M190.67,90.78L188.47,90.93M193.36,85.5L191.62,87.94L190.67,90.78L189.38,93.49M189.38,93.49L188.97,95.52M189.38,93.49L186.81,94.57M189.38,93.49L187.09,94.12M233.33,92.9L235.82,93.05M233.33,92.9L233.22,94.82M197.63,91.98L198.4,95.2M193.97,96.65L189.59,96.3M199.63,89.75L197.63,91.98L196.16,94.6L193.97,96.65L192,98.91M192,98.91L189.79,98.88M192,98.91L188.32,99.08M192,98.91L188.71,98.71M192,98.91L190.1,99.21M199.97,66.22L198.56,63.57L197.8,60.67L196.76,57.85L194.84,55.55M194.84,55.55L194.24,53.55M194.84,55.55L191.38,55.73M194.84,55.55L193.8,52.67M194.84,55.55L192.8,54.42M225.4,63.14L228.38,61.27M225.4,63.14L228.16,63.05M218.09,59.15L221.75,59.82M222.87,55.66L225.8,57.29M222.87,55.66L226.32,57.07M225.53,86.45L224.8,89.62M227.17,88.96L225.88,92.66M227.17,88.96L226.35,91.01M227.17,88.96L229.48,91.81M227.17,88.96L228.86,89.78M196.52,90.37L199.15,93.59M197.12,87.43L196.52,90.37L196.77,93.36M196.77,93.36L198.8,95.89M196.77,93.36L195.14,95.92M207.74,97.53L204.59,97.83M206.42,100.22L208.21,104.11M206.42,100.22L204.33,102.32M206.42,100.22L203.92,101.71M206.42,100.22L204.18,102.61M206.42,100.22L204.75,103.02M229.41,86.02L230.78,89.83M237.58,89.68L238.59,91.47M226.68,84.76L229.41,86.02L232.15,87.24L234.7,88.81L237.58,89.68M237.58,89.68L239.57,91.63M237.58,89.68L239.31,88.23M237.58,89.68L238.82,92.1M212.14,96.98L210.8,100.05M214.55,105.57L212.9,109.13M215.6,108.38L219.87,109.52M215.6,108.38L217.17,109.9M215.6,108.38L216.65,110.11M215.6,108.38L216.75,110.37M184.88,88.83L183.15,90.1M184.88,88.83L184.15,90.8M184.88,88.83L184.82,91.33M222.51,61.52L222.39,57.12M225.2,60.19L228.58,60.99M225.2,60.19L227.47,61.34M225.2,60.19L228.13,60.19M225.2,60.19L228.78,58.93M225.2,60.19L227.31,60.03M193.84,53.99L190.82,54.69M196.08,55.99L193.84,53.99L191.26,52.45L188.44,51.44L185.61,50.45M185.61,50.45L183.22,50.76M185.61,50.45L184.83,47.9M185.61,50.45L183.39,48.12M185.61,50.45L184.06,47.66M224.98,80.16L225.79,82.18M222.12,79.27L224.98,80.16L227.98,80.38L230.97,80.28M230.97,80.28L233.82,79.22M230.97,80.28L234.01,79.93M230.97,80.28L232.62,78.36M230.97,80.28L233.47,78.04M195.89,93.83L198.32,95.75M198.56,88.49L196.97,91.03L195.89,93.83L194.66,96.57L193.17,99.18M193.17,99.18L192.82,101.02M193.17,99.18L190.33,99.57M189.84,67.31L187.3,68.16M184.04,66.05L182.89,69.1M195.35,69.67L192.65,68.37L189.84,67.31L187.03,66.29L184.04,66.05M184.04,66.05L181.07,64.41M184.04,66.05L181.26,68.31M184.04,66.05L180.68,66.75M184.04,66.05L180.45,65.96M191.49,76.81L189.09,78.61L186.61,80.28M186.61,80.28L185.64,82.41M186.61,80.28L186.63,82.88M200.4,54.04L196.96,53M202.04,56.56L200.4,54.04L199.55,51.17M199.55,51.17L198.77,48.31M199.55,51.17L198.56,48.61M199.55,51.17L196.81,49.44M199.55,51.17L199.04,48.8M218.53,47.79L216.06,45.87M217.02,56.6L217.58,53.65L217.64,50.65L218.53,47.79L218.6,44.79L218.71,41.79M218.71,41.79L216.45,38.85M218.71,41.79L218.19,38.49M190.95,76.56L189.23,77.96M188.23,77.84L184.53,77.31M193.92,76.14L190.95,76.56L188.23,77.84M188.23,77.84L187.18,80.45M188.23,77.84L185.33,79.39M188.23,77.84L186.3,77.37M188.23,77.84L186.84,79.23M191.36,85.6L187.57,86.81M193.2,83.23L191.36,85.6L189.12,87.59M189.12,87.59L187.36,88.62M189.12,87.59L188.56,89.57M188.75,61.81L188.01,57.58M186.04,60.51L182.96,62.21M177.16,59.1L175.25,60.02M177.16,59.1L175.25,60.39M177.16,59.1L175.12,57.05M177.16,59.1L173.45,59.45M177.16,59.1L175.03,58.31M185.44,66.9L183.35,64.75L180.83,63.11L178.13,61.81M178.13,61.81L174.7,62.68M178.13,61.81L175.26,61.89M178.13,61.81L174.95,60.28M178.13,61.81L177.55,59.91M216.84,84.91L216.83,89M214.9,82.62L216.84,84.91L218.06,87.65M218.06,87.65L220.2,89.72M218.06,87.65L218.38,89.47M218.2,63.49L216.81,60.32M219.24,60.68L221.99,60.6M221.86,55.28L222.92,52.65M221.86,55.28L221.88,52.55M221.86,55.28L224.55,54.59M226.83,75.75L229.25,74.05M220.88,75.19L223.88,75.2L226.83,75.75M226.83,75.75L229.3,77.07M226.83,75.75L228.82,73.92M217.19,58.14L217.61,53.75M219.23,55.94L222.43,55.65M219.23,55.94L218.78,54.07M180.87,66.93L180.17,62.74M175.49,64.36L173.62,65.5M183.82,67.45L180.87,66.93L178.02,65.97L175.49,64.36L173.46,62.15M173.46,62.15L172.11,60.73M173.46,62.15L172.75,60.13M173.46,62.15L174.1,59.34M222.15,64.35L225.41,65.11M224.34,62.3L226.43,62.88M219.54,65.83L222.15,64.35L224.34,62.3L226.17,59.92M226.17,59.92L229.2,59.42M226.17,59.92L225.91,57.95M226.17,59.92L226,56.13M193,103.49L195.16,105.96M195.29,94.86L194.07,97.6L193.7,100.57L193,103.49L191.88,106.27L190.99,109.14M190.99,109.14L189.43,111.17M190.99,109.14L191.5,111.91M222.49,81.75L225.05,84.86M228.22,83.41L229.45,85.23M228.22,83.41L230.58,84.88M228.22,83.41L231.65,84.38M228.22,83.41L230.19,81.84M228.22,83.41L230.66,84.93M185.81,73.14L182.91,73.31M191.35,75.22L188.41,74.64L185.81,73.14M185.81,73.14L184.12,71.98M185.81,73.14L183.75,72.14M232.13,67.27L234.73,68.62M235.12,67.07L238.4,69.31M226.48,69.26L229.24,68.08L232.13,67.27L235.12,67.07L238.12,66.98L241.12,67.06M241.12,67.06L242.84,68.92M241.12,67.06L244.86,66.96M211.94,91.58L213.23,94.29L213.57,97.27M213.57,97.27L211.29,99.57M213.57,97.27L213.63,100.72M213.45,52.73L212.79,49.64M215.65,47.19L218.02,45.58M215.65,47.19L217,44.87M215.65,47.19L216.33,43.54M202.85,97.05L206.44,98.17M202.11,99.96L201.6,101.91M202.11,99.96L201.54,103.13M202.11,99.96L202.43,103.35M215.21,65.14L218.9,65.42M212.52,66.46L215.21,65.14L217.77,63.57L220.08,61.66M220.08,61.66L221.75,60.48M220.08,61.66L222.85,61.94M220.08,61.66L222.33,60.66M208.33,94.77L206.78,96.68M208.52,91.77L208.33,94.77L208.8,97.73L209.59,100.62M209.59,100.62L208.47,103.9M209.59,100.62L210.67,103.64M206.46,50.11L207.23,46.53M206.46,50.11L205.52,48.41M206.46,50.11L206.57,48.19M220.14,65.45L218.72,61.28M225.91,63.95L227.98,61.87M228.79,63.11L231.38,64.74M217.73,67.23L220.14,65.45L222.94,64.36L225.91,63.95L228.79,63.11L231.37,61.58M231.37,61.58L232.38,59.45M231.37,61.58L233.68,59.73M231.37,61.58L234.83,61.58M197.16,64.02L193.85,63.87M195.96,61.27L193.55,60.66M198.94,66.44L197.16,64.02L195.96,61.27M195.96,61.27L193.46,59.48M195.96,61.27L194.04,60.84M201.03,59.58L200.81,56.59L200.42,53.62M200.42,53.62L199.3,50.6M200.42,53.62L201.53,52.08M230.33,65.46L229.93,62.22M224.85,67.89L227.57,66.64L230.33,65.46L232.99,64.07L235.33,62.2M235.33,62.2L238.31,63.14M235.33,62.2L236.81,61.12M225.03,70.63L226.74,73.64M228.02,70.31L231.22,72.21M233.89,71.11L237.55,68.99M236.49,72.6L239.28,72.6M236.49,72.6L238.4,71.9M236.49,72.6L239.3,72.07M236.49,72.6L238.99,71.4M183.42,55.31L181.31,56.76M180.6,54.28L179.37,51.14M180.6,54.28L178.52,55.71M180.6,54.28L179.21,52.81M180.6,54.28L178.46,53.89M213.57,91.97L215.33,94.4L217.29,96.67L219.2,98.98L220.79,101.53M220.79,101.53L221,104.93M220.79,101.53L222.77,104.43M220.79,101.53L223.08,102.46M176.5,71.97L175.82,69.52M176.5,71.97L173.69,72.65M176.5,71.97L175.5,69.99M176.5,71.97L174.79,73.37M220.02,93.79L220.42,98.27M224.43,97.78L225.66,99.33M224.43,97.78L226.28,99.34M202.91,51.99L204.25,47.74M203.49,46.07L206.35,43.25M203.71,43.08L201.52,39.62M204.88,57.62L203.59,54.91L202.91,51.99L202.79,48.99L203.49,46.07L203.71,43.08M203.71,43.08L201.14,41.07M203.71,43.08L205.22,40.41M223.28,64.44L222.88,62.46M225.07,62.03L224.47,59.79M226.77,59.56L226.62,55.27M229.08,57.65L229.51,55.45M229.08,57.65L229.48,54.43M229.08,57.65L230.04,56.07M229.08,57.65L229.12,55.11M228.36,70.82L232.11,69.81M228.36,70.82L231.7,70.06M228.36,70.82L230.32,70.84M222.95,75.66L225.94,75.95L228.86,76.65L231.86,76.65L234.85,76.89M234.85,76.89L236.83,78.12M234.85,76.89L236.63,77.24M225.67,66.9L229.59,67.92M228.67,66.8L230.1,62.84M222.81,67.81L225.67,66.9L228.67,66.8M228.67,66.8L230.61,68.05M228.67,66.8L230.29,64.41M211.46,91.81L209.09,94.1M212.46,97.73L209.57,100.07M213.07,103.68L211.1,106.06M210.89,88.86L211.46,91.81L211.95,94.77L212.46,97.73L212.94,100.69L213.07,103.68M213.07,103.68L213.28,105.63M213.07,103.68L214.83,106.65M213.07,103.68L215.89,105.58M212.05,55.5L212.61,52.56L213.27,49.63M213.27,49.63L211.43,46.96M213.27,49.63L213.36,47.68M218,52.85L216.83,50.26M219.08,50.05L221.34,49.46M211.96,59.39L213.81,57.03L216.24,55.28L218,52.85L219.08,50.05M219.08,50.05L220.9,49.33M219.08,50.05L220.01,48.25M197.81,57.59L200.41,55.23M196.83,51.68L198.9,49.08M196.83,51.68L194.41,49.63M196.83,51.68L198.85,49.48M196.83,51.68L199.38,49.26M200.7,97.94L198.81,99.84M201.2,100.9L203.48,101.29M201.78,89.01L201.4,91.99L200.87,94.94L200.7,97.94L201.2,100.9M201.2,100.9L204.37,102.38M201.2,100.9L201.42,103.32M201.2,100.9L202.75,103.22M220.87,60.45L221.56,56.29M226.81,59.59L229.52,60.87M213.08,64.53L215.31,62.53L217.93,61.07L220.87,60.45L223.84,60.03L226.81,59.59M226.81,59.59L228.64,56.36M226.81,59.59L229.57,57.24M226.81,59.59L228.58,60.26M221.4,84.93L224.02,86.39L226.88,87.3M226.88,87.3L229.69,89.27M226.88,87.3L229.2,86.45M226.88,87.3L230.08,89.24M226.88,87.3L229.76,86.48M204.95,55.42L203.21,52.65M205.44,52.46L208.51,50.37M205.44,52.46L205.58,50.65M205.44,52.46L204.06,51.17M181.54,85.45L178,84.91M178.57,85.91L177.81,88.6M178.57,85.91L175.63,86.52M178.57,85.91L176.14,86.6M207.38,57.17L206.28,54.54M206.6,60.06L207.38,57.17L207.5,54.17L206.84,51.24M206.84,51.24L205.15,49.49M206.84,51.24L204.64,50.4M206.84,51.24L207.79,49.24M197,52.19L193.96,52.52M195.27,49.74L192.73,50.15M192.23,44.62L189.1,43.35M192.23,44.62L188.93,43.45M192.23,44.62L188.45,44.65M219.17,82.32L222.58,80.24M222.06,83.13L223.88,81.7M216.39,81.19L219.17,82.32L222.06,83.13M222.06,83.13L223.59,84.71M222.06,83.13L224.25,82.76M222.06,83.13L223.86,85.78M222.06,83.13L225.03,81.81M224.48,80.21L227.18,79.14M227.15,81.57L226.91,83.88M221.85,78.76L224.48,80.21L227.15,81.57M227.15,81.57L227.91,84.57M227.15,81.57L230.08,83.17M227.15,81.57L228.83,82.38M181.53,68.36L178.24,70.55M190.04,70.62L187.04,70.62L184.15,69.83L181.53,68.36M181.53,68.36L178.21,66.9M181.53,68.36L179.84,66.14M181.53,68.36L178.21,69.41M232.61,74.22L236,72.83M232.61,74.22L234.82,75.18M232.61,74.22L235.25,71.58M232.61,74.22L233.66,72.62M234.26,72.2L236.83,71.63M234.26,72.2L236.93,74.73M180.89,67.26L180.08,69.59M175.16,65.53L172.89,66.55M183.89,67.3L180.89,67.26L178.08,66.22L175.16,65.53M175.16,65.53L172.86,67.05M175.16,65.53L171.36,65.62M220.19,80.7L219.06,83.07M218.04,78.61L220.19,80.7L222.91,81.97M222.91,81.97L225.63,82.85M222.91,81.97L225.78,82.55M222.91,81.97L225.36,80.99M222.91,81.97L223.32,84.54M181.97,73.95L179.68,74.91M178.99,74.28L175.6,76.75M184.95,74.29L181.97,73.95L178.99,74.28L176.22,75.45L173.23,75.7M173.23,75.7L171.35,73.78M173.23,75.7L171.72,74.61M209.35,51.57L211.93,51.03M211.55,46L214.51,45.29M211.55,46L211.27,43.07M211.55,46L214.62,44.02M182.1,75.28L179.88,71.78M187.75,77.3L184.93,76.29L182.1,75.28L179.21,74.48M179.21,74.48L176.34,74.15M179.21,74.48L177.97,70.9M179.21,74.48L175.5,74.53M234.22,71.83L236.87,69.32M234.22,71.83L236.18,74.4M216.37,60.98L214.75,57.32M217.18,49.13L218.93,46.19M217.18,49.13L218.35,46.61M217.18,49.13L216.64,45.69M217.18,49.13L215.39,47.77M231.5,77.13L233.29,75.13M222.61,76.29L225.5,77.1L228.5,77.1L231.5,77.13M231.5,77.13L232.61,78.88M231.5,77.13L234.54,75.64M231.5,77.13L234.98,75.99M219.29,76.52L222.29,76.52L225.12,77.51L228.12,77.56M228.12,77.56L230.31,76.01M228.12,77.56L231.58,77.07M193.49,66.9L191.07,67.58M191.49,64.67L192.29,61.47M195.09,69.44L193.49,66.9L191.49,64.67M191.49,64.67L189.98,62.77M191.49,64.67L190.07,61.26M228.99,82.05L231.61,83.51L233.63,85.73M233.63,85.73L236.23,88.5M233.63,85.73L233.37,88.2M233.63,85.73L235.94,86.65M233.63,85.73L235.61,88.26M233.66,84.35L235.13,86.12M236.65,84.52L238.61,86.65M239.6,85.05L242.3,85.19M239.6,85.05L242.12,85.16M239.6,85.05L242.25,87.45M239.6,85.05L242.75,84.33M209.51,101.61L211.25,103.65M209.72,92.65L209.64,95.65L209.93,98.64L209.51,101.61M209.51,101.61L208.58,103.49M209.51,101.61L209.14,103.58M209.51,101.61L207.72,103.91M225.73,63.95L228.02,65.12M228.46,62.71L229.34,59.3M231.38,62.03L234.51,64.68M223.02,65.25L225.73,63.95L228.46,62.71L231.38,62.03L234.36,61.65M234.36,61.65L236.76,62.8M234.36,61.65L235.74,60.16M234.36,61.65L236.54,60.18M234.36,61.65L236.48,64.03M201.81,53.73L204.62,51.22M201.09,50.82L198.23,49.14M202.16,56.71L201.81,53.73L201.09,50.82M201.09,50.82L199.55,47.85M201.09,50.82L201.76,48.32M201.09,50.82L201.06,48.08M189.13,96.1L189.32,99.24M189.13,96.1L188.98,99.27M189.13,96.1L187.08,95.63M209.84,96.81L213.51,97.69M211.21,99.48L209.96,103.41M215.59,103.44L217.99,105.63M215.59,103.44L215.64,105.46M215.59,103.44L217.56,104.49M193.87,96.21L195.93,97.28M193.87,99.21L190.68,100.55M194.45,93.27L193.87,96.21L193.87,99.21M193.87,99.21L192.51,100.6M193.87,99.21L195.51,100.39M193.87,99.21L194.63,101.13M193.87,99.21L194.21,101.71M199.32,38.89L197.18,38.54M198.68,35.96L200.91,34.26M201.26,47.61L200.33,44.76L200.2,41.76L199.32,38.89L198.68,35.96M198.68,35.96L197.51,34.35M198.68,35.96L199.12,33.61M179.63,59.2L179.4,56.98M179.63,59.2L176.89,57.18M179.63,59.2L180.17,55.94M179.63,59.2L178.38,55.98M233.6,59.49L233.94,57.42M235.66,57.3L237.58,57.94M238.12,55.59L239.25,52.36M238.12,55.59L240.44,53.81M238.12,55.59L240.91,55.59M238.12,55.59L240.31,53.9M238.12,55.59L241.36,55.14M186.94,101.2L183.33,98.99M191.37,97.19L189.35,99.41L186.94,101.2M186.94,101.2L186.93,104.09M186.94,101.2L185.05,100.78M186.94,101.2L184.02,100.77M186.94,101.2L183.9,100.06M201.22,44.09L204.11,42.36M201.22,44.09L202.91,42.04M201.22,44.09L201.34,41.81M201.22,44.09L202.98,41.02M206.96,93.36L207.28,96.35L208.21,99.2L208.44,102.19M208.44,102.19L206.57,103.62M208.44,102.19L211.59,103.92M208.44,102.19L208.52,105.28M208.44,102.19L206.47,105.17M178.07,96.98L174.41,97.14M182.8,93.31L180.35,95.04L178.07,96.98M178.07,96.98L174.81,96.08M178.07,96.98L175.5,98.7M196.67,102.39L193.27,103.71M193.69,107.58L194.63,110.23M192.45,110.32L190.35,110.88M192.45,110.32L191.02,111.98M192.45,110.32L191.36,111.93M195.74,48.39L192.26,48.23M197.7,54.06L196.65,51.25L195.74,48.39L193.93,46.01M193.93,46.01L195.05,42.82M193.93,46.01L194.03,43.25M193.93,46.01L191.87,45.26M231.29,95.64L231.56,99.31M231.29,95.64L233.82,96.42M231.29,95.64L232.81,96.95M219.58,51.64L221.17,50.66M219.58,51.64L222.97,50.06M219.58,51.64L219.99,49.25M170.67,71.32L170.02,68.38M167.81,70.43L165.89,72.1M175.96,74.16L173.3,72.77L170.67,71.32L167.81,70.43L164.81,70.34M164.81,70.34L162.76,72.21M164.81,70.34L162.25,72.07M194.86,50.96L198.07,48.9M194.86,50.96L196.32,49.61M194.86,50.96L194.24,48.86M194.86,50.96L196.24,48.99M194.86,50.96L194.66,49.07M195.24,50.68L190.88,51.11M196.39,53.45L195.24,50.68L193.62,48.15L192.8,45.27M192.8,45.27L191.08,44.26M192.8,45.27L193.06,42.54M211.67,53.64L212.21,50.68L212.64,47.72L213.5,44.84L213.84,41.86M213.84,41.86L215.39,38.72M213.84,41.86L212.95,39.88M213.84,41.86L215.18,40.4M213.84,41.86L212.06,39.44M221.79,88.35L223.96,90.42L226.29,92.31L229.05,93.49M229.05,93.49L231.53,93.57M229.05,93.49L232.27,94.9M229.05,93.49L230.6,95.49M229.05,93.49L229.96,95.05M227.07,44.83L231.01,46.92M222.45,52.39L223.58,49.61L224.94,46.94L227.07,44.83L229.35,42.87M229.35,42.87L232.83,43.16M229.35,42.87L231.24,40.77M219.92,51.32L217.33,49.64M219.92,51.32L221.15,49.3M219.92,51.32L221.05,49.57M230.08,62.72L231.52,58.9M227.42,64.11L230.08,62.72L232.66,61.2L235.31,59.78M235.31,59.78L237.19,59.02M235.31,59.78L238.3,57.74M235.31,59.78L237.85,60.29M219.33,101L223.14,100.54M220.62,103.7L218.2,106.08M220.62,103.7L219.8,106.01M220.62,103.7L223.7,104.25M220.62,103.7L220.84,106.79M216.39,44.61L213.91,41.05M214.75,50.32L215.98,47.59L216.39,44.61L216.34,41.61M216.34,41.61L216.14,39.72M216.34,41.61L218.27,38.66M216.34,41.61L216.12,38M216.34,41.61L215.44,39.6M171.97,68.35L169.64,65.26M166.09,69.02L164.11,66.86M166.09,69.02L163.36,67.23M166.09,69.02L163.87,67.83M166.09,69.02L163.8,67.57M222.95,90.14L221.77,92.01M226.49,94.97L224.64,97.79M228.31,97.36L232.51,98.44M221.52,87.51L222.95,90.14L224.61,92.64L226.49,94.97L228.31,97.36M228.31,97.36L231.09,97.98M228.31,97.36L231.47,98.39M176.56,69.98L173.57,71.39M182.01,72.42L179.15,71.5L176.56,69.98L174.5,67.8M174.5,67.8L172.83,64.88M174.5,67.8L173.65,65.34M178.52,75.83L176.23,73.45M170.32,72.3L167.56,73.96M170.32,72.3L169.84,70.45M170.32,72.3L166.79,73.67M170.32,72.3L167.57,71.35M184.44,59.69L181.95,59.51M184.44,59.69L182.24,56.6M184.44,59.69L181.34,60.41M172.51,83.19L170.4,83.28M172.51,83.19L170.65,83.57M172.51,83.19L170.42,83.06M172.51,83.19L169.45,82.05M210.24,44.67L213.19,43.96M211.59,42L209.79,40.34M211.98,39.02L212.28,35.95M211.98,39.02L213.41,36.2M211.98,39.02L214.07,37.24M211.98,39.02L214.81,37.24M177.61,67.28L173.96,68.25M177.61,67.28L175.5,66.22M189.29,99.6L186.53,98.16M187.85,102.23L188.44,103.97M187.85,102.23L185.7,102.64M187.85,102.23L185.49,103.35M187.85,102.23L187.94,104.05M176.63,87.71L174.56,88.35M176.63,87.71L174,88.19M176.63,87.71L173.31,87.89M203.25,105.99L205.8,109.32M203.25,105.99L204.29,108.01M203.25,105.99L201.14,109.04M216.05,102.41L214.66,104.86M215.17,99.54L216.05,102.41L216.53,105.37M216.53,105.37L218.39,107.03M216.53,105.37L215.75,108.9M216.53,105.37L217.3,108.66M228.67,91.51L229.33,95.75M231.55,92.36L235.02,90.82M225.85,90.49L228.67,91.51L231.55,92.36M231.55,92.36L235.01,92.97M231.55,92.36L232.27,94.06M231.55,92.36L233.96,92.6M240.07,73.35L240.62,70.73M234.32,74.76L237.31,74.52L240.07,73.35L242.73,71.96M242.73,71.96L244.94,70.44M242.73,71.96L246,72.54M242.73,71.96L243.03,69.33M226.59,67.6L227.43,65.1M223.68,68.33L226.59,67.6L229.41,66.58M229.41,66.58L232.11,67.15M229.41,66.58L230.3,64.23M229.41,66.58L231.97,67.34M229.41,66.58L232.01,64.93M233.79,82.47L234.91,85.66M236.57,83.58L237.88,86.46M239.45,84.42L241.97,86.25M239.45,84.42L242.12,84.8M239.45,84.42L240.44,87.61M181.31,73.8L179.16,76.62M178.38,74.45L176.5,74.31M178.38,74.45L176.26,75.23M178.38,74.45L175.9,73.96M178.38,74.45L174.84,75.21M230.96,95.41L230.48,99.46M230.96,95.41L232.91,97.2M230.96,95.41L233.62,94.72M230.96,95.41L231.33,98.05M230.96,95.41L232.77,96.98M191.28,50.44L187.71,50.78M191.28,50.44L188.84,50.44M191.28,50.44L189.33,48.23M191.28,50.44L188.37,49.39M183.57,52.22L181.27,53.63M181.57,49.99L181.31,48.15M181.57,49.99L179.71,47.02M183.56,53.21L180.27,54.76M188,57.24L185.8,55.2L183.56,53.21M183.56,53.21L180.94,53M183.56,53.21L180.8,51.1M172.63,83.65L172.43,85.73M170.32,85.56L168.56,86.78M170.32,85.56L170.17,87.81M170.32,85.56L166.93,85.7M170.32,85.56L170.1,87.56M217.67,46.12L215.54,42.96M217.15,52.09L217.48,49.11L217.67,46.12M217.67,46.12L218.75,44.51M217.67,46.12L216.71,44.32M217.67,46.12L218.34,44.15M217.67,46.12L216.64,43.67M235.58,86.72L234.88,89.58M227.46,83.01L230.36,83.8L233.06,85.09L235.58,86.72L238.43,87.67M238.43,87.67L240.08,91.06M238.43,87.67L240.5,88.09M238.43,87.67L241.07,88.52M238.43,87.67L241.78,88M205.9,108.67L204.15,110.38M205.9,108.67L205.32,111.15M205.9,108.67L207.32,110.94M189.38,50.09L189.89,47.26M193.08,54.81L191.2,52.47L189.38,50.09L188.34,47.27L187.24,44.48M187.24,44.48L186.85,42.18M187.24,44.48L184.78,43.13M178.02,72.18L175.04,71.81L172.1,72.41M172.1,72.41L169.46,72.26M172.1,72.41L169.49,71.12M200.45,48.83L197.39,48.04M200.05,45.85L198.58,44.06M200.11,42.85L203.64,40.2M200.11,42.85L199.7,40.4M200.11,42.85L199.73,39.53M179.06,80.99L176.07,81.18L173.07,81.2L170.2,80.31L167.38,79.29M167.38,79.29L165.18,77.04M167.38,79.29L165.91,76.32M207.86,102.43L209.77,104.21M207.58,108.4L209.58,111.98M207.5,111.4L204.89,112.71M207.5,111.4L209.01,113.58M207.5,111.4L208.68,113.49M207.5,111.4L206.29,113.33M207.5,111.4L209.86,113.1M220.43,96.96L224.4,96.98M222.17,99.41L224.87,98.45M224.39,101.42L224.34,104.14M224.39,101.42L225.06,103.13M224.39,101.42L225.89,103.56M199.13,52.18L201.69,50.48M198.08,49.37L194.2,47.8M197.69,46.39L196.17,44.74M197.69,46.39L196.63,43.28M184.02,71.13L181.05,71.57L178.26,72.69M178.26,72.69L175.62,72.31M178.26,72.69L176.3,73.69M225.18,95.95L225.4,98.32M227.06,98.29L231.09,99.1M222.76,94.17L225.18,95.95L227.06,98.29M227.06,98.29L227.28,100.14M227.06,98.29L226.51,101.45M227.06,98.29L227.1,100.93M180.73,82.9L177.73,80.41M186.63,82.32L183.72,83.05L180.73,82.9M180.73,82.9L179.08,83.72M180.73,82.9L177.85,82.56M180.73,82.9L178.72,84.06M185.83,57.73L184.65,55.4M191.2,60.37L188.61,58.86L185.83,57.73L183.26,56.19M183.26,56.19L181.01,54.04M183.26,56.19L182.85,52.5M183.26,56.19L180.32,57.35M230.77,94.32L228.38,97.43M233.35,99.66L233.88,102.28M233.35,99.66L235.64,101.2M233.35,99.66L232.92,103.02M228.82,55.93L228.5,52.41M231.14,54.03L234.43,53.76M233.77,52.59L236.14,52.7M233.77,52.59L236.33,52.61M233.77,52.59L235.19,49.53M233.77,52.59L236.26,52.44M233.77,52.59L236.86,52.83M180.51,60.29L177.91,58.8L175.3,57.33M175.3,57.33L172.12,57.65M175.3,57.33L173.73,55.34M227.28,92.53L227.04,94.74M224.62,91.14L227.28,92.53L230.15,93.39M230.15,93.39L233.85,93.05M230.15,93.39L233.27,91.57M234.55,86.97L237.3,85.44M236.2,89.47L235.7,92.1M229.8,83.41L232.43,84.85L234.55,86.97L236.2,89.47L238.07,91.82M238.07,91.82L241.35,93.29M238.07,91.82L238.27,94.75M238.07,91.82L239.65,92.69M233.69,102.25L237.27,103.42M226.44,92.74L228.27,95.12L230.32,97.31L231.82,99.91L233.69,102.25M233.69,102.25L236.5,104.61M233.69,102.25L233.17,105.72M233.69,102.25L235.59,105.09M233.69,102.25L235.24,105.47M219.4,99.65L223.41,97.77M219.4,99.65L221.64,99.59M219.4,99.65L219.88,101.56M219.4,99.65L220.34,101.89M230.55,66.53L232.56,69.42M235.69,69.62L235.4,73.31M235.69,69.62L237.63,69.52M235.69,69.62L238.02,70.63M235.69,69.62L237.3,70.72M235.69,69.62L238,68.77M202.02,93.36L200.56,95.98L200.06,98.93L199.23,101.82M199.23,101.82L199.27,103.99M199.23,101.82L199.8,103.71M199.23,101.82L199.51,103.68M199.23,101.82L198.9,104.75M226.25,91.86L228.15,94.18L230.59,95.92L233.29,97.24M233.29,97.24L234.06,99.65M233.29,97.24L235.2,99.14M233.29,97.24L235.07,99.81M179.27,96.17L176.61,96.42M179.27,96.17L178.72,98.22M179.27,96.17L178.14,98.39M179.27,96.17L176.65,96.15M179.27,96.17L177.39,97.16M200.67,46.24L197.99,43.96M201.3,40.28L204.82,37.76M200.79,49.24L200.67,46.24L201.06,43.27L201.3,40.28M201.3,40.28L199.37,38.31M201.3,40.28L200.58,36.55M201.3,40.28L203.71,37.88M201.3,40.28L199.76,37.06M183.9,97.39L182.64,100.34M181.15,98.59L181.05,100.73M181.15,98.59L178.34,100.01M181.15,98.59L178.67,100.24M186.41,58.74L186.66,55.92M189.76,63.69L188.3,61.08L186.41,58.74M186.41,58.74L185.53,55.52M186.41,58.74L183.66,56.46M188.39,88.92L185.71,87.93M187.24,91.69L185.39,92.63M190.35,86.65L188.39,88.92L187.24,91.69M187.24,91.69L185.02,94.38M187.24,91.69L184.96,93.44M187.24,91.69L185.99,94.56M187.24,91.69L187.8,93.89M197.05,48.98L195.4,47.37M196.64,46L198.41,44.14M196.64,46L196.35,43.58M176.91,101.42L174.59,104.61M187.83,97.15L185.53,99.07L182.78,100.27L179.8,100.62L176.91,101.42M176.91,101.42L175.13,104.57M176.91,101.42L174.33,99.14M175.09,75.04L171.19,73.47M172.27,76.08L169.64,73.13M178.01,74.37L175.09,75.04L172.27,76.08L169.28,76.25M169.28,76.25L166.41,78.28M169.28,76.25L167.98,77.67M238.26,69.32L240.2,70.09M241.07,68.28L241.28,64.55M232.42,70.62L235.39,70.19L238.26,69.32L241.07,68.28L244.04,67.86M244.04,67.86L246.58,65.57M244.04,67.86L246.23,69.83M196.72,49.7L195.04,47.21L193.8,44.48L192.3,41.88L191.39,39.02M191.39,39.02L191.05,35.71M191.39,39.02L191.1,35.26M191.39,39.02L191.61,36.31M191.39,39.02L191.01,36.11M200.48,95.54L198.71,97.96L197.12,100.51L195.28,102.87M195.28,102.87L194.6,105.86M195.28,102.87L191.67,103.29M195.28,102.87L194.68,104.62M195.28,102.87L195.36,105.73M226.41,66.96L227.29,63.61M229.41,67.12L231.15,66.09M229.41,67.12L230.88,65.7M229.41,67.12L231.4,66.89M220.71,51.78L223.04,49.89L225.25,47.86L227.67,46.09M227.67,46.09L228.78,43.11M227.67,46.09L228.74,44.39M227.67,46.09L229.43,44.03M232.03,73.46L233.71,70.78M229.04,73.37L232.03,73.46L234.99,72.96M234.99,72.96L236.69,70.6M234.99,72.96L237.28,72.59M234.99,72.96L236.65,70.42M193.2,96.28L191.79,98.93L190.56,101.66L189.47,104.46M189.47,104.46L189.4,106.99M189.47,104.46L187.46,106.36M189.47,104.46L188.76,107.3M189.47,104.46L190.53,106.99M197.94,102.69L195.61,104.83M199.64,93.91L198.77,96.78L198.06,99.69L197.94,102.69M197.94,102.69L199.49,105.7M197.94,102.69L196.31,104.39M179.43,61.4L177.3,60.76M183.08,66.08L180.92,64L179.43,61.4M179.43,61.4L178.39,59.03M179.43,61.4L177.18,59.7M179.43,61.4L177.09,60.81M179.43,61.4L176.5,59.9M211.46,45.7L209.44,43.84M211.46,45.7L211.59,42.28M211.46,45.7L212.03,43.66M211.46,45.7L214.14,43.21M211.46,45.7L212.84,43.66M222.35,49.28L224.22,46.19M222.35,49.28L221.88,45.92M222.35,49.28L222.44,46.49M182.08,85.66L177.7,85.69M180.33,88.09L176.7,88.6M186.65,81.77L184.39,83.74L182.08,85.66L180.33,88.09M180.33,88.09L177.48,90.15M180.33,88.09L178.01,89.33M235.54,69.67L238.69,70.6M238.08,68.08L241.65,68.94M238.08,68.08L241.61,68.24M186.46,90.5L186.3,93.87M184.29,92.57L182.43,91.52M181.8,94.24L178.03,93.78M181.8,94.24L179.67,93.43M181.8,94.24L178.44,95.23M181.8,94.24L181.45,96.49M226.84,56.17L229.06,54.14L231.42,52.29M231.42,52.29L231.65,49.49M231.42,52.29L234.75,51.73M202.91,50.31L201.7,47.56L199.79,45.25M199.79,45.25L197.15,43.54M199.79,45.25L196.23,44.79M199.79,45.25L198.85,42.16M200.26,109.26L198.96,110.91M200.26,109.26L198.91,111.07M212.15,51.47L214.38,50.09M212.5,57.42L211.99,54.46L212.15,51.47L212.7,48.52L212.5,45.52M212.5,45.52L212.89,43.33M212.5,45.52L210.82,43.6M212.5,45.52L210.8,43.23M212.5,45.52L213.38,43.43M184.16,61.79L181.1,63.37M181.59,60.24L177.48,61.29M186.8,63.21L184.16,61.79L181.59,60.24M181.59,60.24L179.08,57.5M181.59,60.24L178.36,61.23M181.59,60.24L180.65,56.6M181.59,60.24L180.91,57.13M230.39,69.75L233.59,71.87M227.39,69.81L230.39,69.75L233.39,69.89L236.38,69.69M236.38,69.69L238.54,68.35M236.38,69.69L238.89,71.51M236.38,69.69L238.21,69.53M236.38,69.69L238.74,70.86M207.32,96.79L206.08,99.52L205.52,102.47M205.52,102.47L202.7,103.61M205.52,102.47L205.74,105.14M194.54,48.24L192.07,47.76M194.54,48.24L193.45,46.59M194.54,48.24L192.59,45.35M181.97,65.31L181.74,67.78M179.23,66.52L177.15,65.92M179.23,66.52L176.13,65.83M179.23,66.52L178.25,69.58M222.37,95.37L225.99,97.81M221.12,92.64L222.37,95.37L224.02,97.87M224.02,97.87L224.19,100.94M224.02,97.87L222.88,101.4M224.02,97.87L224.39,101.26M220.32,93.95L222.64,96.33M219.52,91.06L220.32,93.95L221.04,96.86L221.22,99.85M221.22,99.85L222.76,101.32M221.22,99.85L220.89,101.69M221.22,99.85L223.29,101.12M221.22,99.85L218.49,102.34M232.89,80.62L235.89,80.65L238.74,79.72M238.74,79.72L241.83,80.92M238.74,79.72L239.83,77.81M212.71,99.56L214.23,102.15L216.35,104.27M216.35,104.27L217.62,105.86M216.35,104.27L219.13,106.54M186,55L180.4,50L172.8,47.8L164,48.2L156.4,50L149.8,51L145.5,53.2M185.93,54.94L183.43,56.5M164.89,48.16L162.6,46.19M160.18,49.1L159.36,47.3M152.02,50.66L150.86,48.01M145.5,53.2L142.2,52.48M145.5,53.2L143.05,53.08M145.5,53.2L144.05,55.24M145.5,53.2L144.08,54.49M199,52L195.7,43.4L192.4,34.7L199,28.1L204.5,23.7L207.7,23.3M197.68,48.56L199.3,47.12M194.28,39.66L192.27,39.53M196.82,30.28L196.81,27.65M198.14,28.96L197.61,26.63M204.03,24.08L204.05,22.44M207.7,23.3L209.65,24.64M207.7,23.3L209.13,24.79M196,40L198,35.8L204.5,36.8M199.64,36.05L200.17,38.98M204.5,36.8L207.99,36.38M204.5,36.8L207.37,37.44M204.5,36.8L206.67,37.58M204.5,36.8L207.53,35.55M201,50L200,42L203,38L205,33M200.44,45.52L197.61,44.75M200.54,46.28L203.44,45.14M202.86,38.18L202.87,34.79M204.96,33.09L204.5,31.22M205,33L207.93,31.95M205,33L203.76,29.72M211,52L214.3,43.4L217.6,35.8L220.8,29.2L222.6,28.1M214.27,43.49L213.43,41.42M217.4,36.27L219.25,36.34M214.75,42.36L216.46,42.23M222.6,28.1L225.36,26.95M222.6,28.1L225.86,26.79M216,55L221,50L224.1,47.8M220.53,50.47L219.51,48.04M224.1,47.8L225.09,45.31M224.1,47.8L226.27,47.25M224.1,47.8L226.59,47.06M232,78L242.7,76.2L251.4,72.9L258,69.6L260.2,66.3M233.13,77.81L233.55,74.98M252.96,72.12L253.12,69.5M260.2,66.3L262.41,65.55M260.2,66.3L263.6,65.63M260.2,66.3L260.12,63.32M228,66L236,60.9L244.9,56.5L248,62M228.52,65.67L227.83,62.95M232.65,63.03L235.07,65.17M228.19,65.88L228.41,63.7M237.34,60.24L236.79,58.32M246.81,59.9L246.08,62.26M248,62L249.79,64.55M248,62L248.27,64.15M248,62L246.74,64.61M248,62L249.55,65.25M230,58L238,52L243,50M232.27,56.3L234.69,56.78M236.72,52.96L235.89,50.91M231.41,56.94L230.7,54.13M239.52,51.39L241.64,52.79M242.45,50.22L243.9,51.29M243,50L245.42,48.93M243,50L245.55,50.71M226,92L234,95.8L242.7,102.4L249.2,107.9M229.82,93.82L229.4,95.67M231.87,94.79L234.84,94.04M238.36,99.11L237.56,101.67M243.06,102.7L244.87,102.51M249.2,107.9L250.82,111.04M249.2,107.9L249.22,110.24M249.2,107.9L251.2,108.31M249.2,107.9L251.08,108.61M236,98L238.3,102.4L239.4,110M238.36,102.84L236.52,105.25M238.6,104.46L240.29,105.53M239.4,110L239.4,113.23M239.4,110L240.72,111.59M239.4,110L239.69,112.58M239.4,110L240.03,112.46M230,84L238.3,91.5L247,92M231.02,84.92L233.7,83.87M237.59,90.86L237.39,92.68M238.32,91.5L239.75,90.15M247,92L249.11,89.44M247,92L248.96,91.68M247,92L248.22,93.33M211,98L212,106.8L211,117.7L210.4,125.3M211.27,114.77L214.27,116.39M210.82,119.96L207.63,120.69M210.75,120.84L211.94,122.45M210.75,120.84L207.46,121.66M210.4,125.3L210.97,127.26M210.4,125.3L210.52,128.46M210.4,125.3L210.56,128.96M200,96L196.8,102.4L191.3,113.3L185.9,122L184.8,126.4M198.09,99.83L199.49,101.56M194.31,107.33L192.57,107.56M186.81,120.53L183.83,119.73M185.4,124L183.99,125.09M184.8,126.4L186.36,128.43M184.8,126.4L184.54,128.18M184.8,126.4L186.47,129.59M184.8,126.4L183.57,129.95M191.3,113.3L192.4,119.9L199,127.5M192.73,120.28L195.03,119.15M195.01,122.9L193.83,124.52M199,127.5L202.58,128.53M199,127.5L199.93,130.2M199,127.5L197.98,131.07M199,127.5L200.8,129.99M180,72L172.8,69.6L161.8,66.3L157.5,65.3M173.5,69.83L170.98,71.11M178.08,71.36L177.08,69.41M176.58,70.86L175.49,72.03M163.02,66.67L162.91,64.08M170.8,69L168.97,70.36M157.5,65.3L154.87,66.33M157.5,65.3L155.22,63.69M183,82L175,87.1L168.4,93.7L161.8,100.2M181.3,83.08L180.7,85.22M173.69,88.41L170.55,87.8M166.91,95.17L166.4,98.22M167.81,94.28L164.89,92.63M161.8,100.2L160.7,103.18M161.8,100.2L160.61,102.07M161.8,100.2L159.49,102.16M161.8,100.2L161.56,103.58M176,84L171.7,84.9L165,86M166.36,85.78L163.96,84.01M165,86L162.91,86.61M165,86L162.17,86.56M165,86L161.91,84.88M190,96L183.7,102.4L177.1,109M187.11,98.94L187.87,100.72M187.75,98.29L185.6,97.25M180.27,105.83L178.43,104.56M177.1,109L173.53,109.5M177.1,109L174.73,110.01M177.1,109L175.97,110.9M177.1,109L176.15,111.72M220,100L224,108L228,112M223.08,106.15L221.57,107.74M222.34,104.68L224.36,105.01M220.93,101.86L219.78,104.21M227.95,111.95L230.87,110.34M228,112L228.64,114.3M228,112L229.82,112.14M205,100L204,110L203,116M204.43,105.69L201.12,106.36M204.21,107.87L206.66,109.32M203,116L203.45,118.35M203,116L201.84,117.41M203,116L201.31,119.31M184,62L176,58L170,57M183.73,61.86L181.48,62.52M171.91,57.32L171.36,54.74M170,57L168.06,54.49M170,57L168.24,54.13M170,57L168.91,54.97M170,57L168.06,55.91M226,70L236,68L243,70M229.42,69.32L231.12,70.58M241.76,69.65L243.32,68.22M243,70L246.42,69.17M243,70L246.45,70.6M243,70L245.46,70.64M176.01,49.77L174.48,50.39M172.08,48.9L170.48,47.14M173.17,49L172.04,47.24M151.32,49.75L150.43,47.1M144.25,53.92L142.43,57.24M144.25,53.92L142.32,54.43M144.25,53.92L142.48,54.51M144.25,53.92L142.71,56.48M201.03,42.79L202.48,41.57M205.23,32.11L204.8,28.5M205.23,32.11L207.63,29.47M243.78,74.43L245.46,76.76M252.08,71.9L253.63,72.95M259.92,67.77L262.33,67.81M261.51,66.09L263.51,63.95M261.51,66.09L263.78,64.02M227.81,91.82L230.61,91.01M230.01,93.84L229,96.85M249.53,106.15L248.73,109.29M250.17,106.68L252.96,106.71M250.17,106.68L251.97,106.14M250.17,106.68L250.13,108.91M250.17,106.68L251.93,107.71M212.7,107.92L209.51,107.9M210.67,125.92L210.14,128.67M210.67,125.92L208.25,128.28M210.67,125.92L211.06,128.39M210.67,125.92L210.66,129.3M163.67,67.29L163.41,64.72M162.6,66.89L162.37,64.87M169.83,69.62L167.98,70.21M156.74,66.62L154.39,68.21M156.74,66.62L154.48,65.75M178.14,108.05L176.72,107.37M177.99,108.22L174.78,108.52M177.99,108.22L176.3,111.26M177.99,108.22L175.82,108.2M180.89,59.92L177.66,60.96M170.88,57.9L168.75,59.42M169.73,57.72L168.07,58.73M169.73,57.72L167.29,56.03" stroke="#DA5B12" stroke-width="0.36" opacity="0.85" stroke-linecap="round"/>
<path d="M196.99,55.74L204.27,59.3M189.49,79.43L182.81,77.12M204.85,92.05L209.13,94.56M201.47,52.2L211.78,55.11M209.36,57.6L210.64,61.33M181.78,86.41L171.1,93.55M218.32,90.48L211.97,89.63M210.99,95.87L220.24,100.79M213.62,58.91L226.15,64.43M213.92,60.6L206.09,65.55M216.04,92.22L205.4,83.6M183,70.92L171.97,75.4M186.8,67.27L192.85,69.69M186.83,62.25L180.79,65.16M208.37,56.01L203.29,53.24M204.46,96.2L198.26,88.65M207.37,57.46L197.34,57.59M189.19,87.5L190.98,91.12M195.41,88.02L196.93,85.42M226.62,65.83L225.81,54.56M212.78,60.62L222.27,54.18M206.31,57.72L210.68,57.46M218.32,86.54L217.72,79.08M211.15,95.26L202.45,105.72M187.48,86.15L185.15,82.84M199.75,58.18L195.34,51.14M196.55,56.32L187.38,59.44M223.98,62.29L223.38,48.52M202.28,93.77L199.25,91.47M222.73,82.63L217.85,77.77M227,79.85L227.21,83.43M239.32,79.14L243.68,75.36M235.6,77.39L234.29,71.41M217.26,87.78L221.53,91.82M183.96,85.95L189.4,78.34M193.7,60.45L198.69,59.11M223.96,71.93L223.69,76.33M197.09,59.24L207.43,62.46M187.94,82.74L183.87,82.13M226.1,62.93L226.67,53.33M210.32,91.26L207.03,91.21M222.95,63.33L208.53,62.35M211.88,93.98L210.05,84.12M201.68,60.42L200.05,71.83M180.01,60.01L174.04,69.41M220.56,67.66L224.17,65.97M225.03,76.49L227.37,81.39M226.36,75.44L224.23,78.23M198.23,49.66L185.49,51.06M188.12,90.66L189.11,87.35M208.46,94.56L210.29,84.22M193.04,88.25L201.27,86.67M221.97,74.02L224.72,75.22L227.65,75.87L230.65,75.77L233.65,75.61M215.39,85.15L217,87.68L218.87,90.03M218.71,66.02L220.62,63.71L222.74,61.59M191.49,79.98L188.81,81.35L185.91,82.1L182.92,82.28L179.93,82.03M212.01,65.24L214.02,63.01L216.58,61.45M190.64,84.69L187.64,84.75L184.79,83.79L182.26,82.18M197.07,88.05L196.09,90.88L195.09,93.71M194.94,83.78L192.84,85.92L190.88,88.19L189.6,90.91L187.67,93.2M186,71.15L183.2,70.08L180.68,68.45L178.44,66.45L176.62,64.07L174.26,62.22M213.9,86.26L215.4,88.86L217.45,91.06L219.45,93.29L220.62,96.05L222.45,98.43M227.44,77.61L230.31,76.75L233.31,76.75M201.41,93.49L200.44,96.33L199.52,99.18M220,76.91L222.98,76.51L225.72,75.31L228.71,74.99L231.64,75.62L234.38,76.85M195.97,88.47L193.75,90.48L191.17,92.01L188.61,93.58M195.31,87.9L193.48,90.27L192.21,92.99L191.87,95.97L190.73,98.75M197.12,87.58L194.44,88.92L191.47,89.34L188.66,90.38L185.76,91.14L183.24,92.77M210.51,86.21L212.11,88.75L214.4,90.69M203.74,85.22L204.83,88.02L205.43,90.95L205.67,93.94L206.92,96.67L208.94,98.89M195.1,81.53L192.46,82.95L189.82,84.38L187.43,86.19L184.96,87.89M222.25,64.41L224.79,62.8L227.69,62.05L230.32,60.6M198.53,65.65L196.54,63.41L194.67,61.06M217.08,88.48L218.65,91.04L220.85,93.08L222.58,95.53L224.85,97.49M215.65,88.41L216.58,91.26L217.71,94.04L219.26,96.61L220.27,99.43M195.68,81.49L193.1,83.02L190.67,84.78L188.12,86.36L185.33,87.46L182.35,87.79M203,53.32L203.49,50.36L204.9,47.71L206.65,45.27L207.6,42.43L208.97,39.76M220.85,84.69L223.34,86.36L226.1,87.54L228.53,89.3L230.95,91.06L233.33,92.9M221.05,67.18L222.94,64.85L225.4,63.14M211.75,65.53L213.78,63.33L216.01,61.32L218.09,59.15L220.19,57.01L222.87,55.66M223.36,84.37L225.53,86.45L227.17,88.96M208.06,91.61L208.35,94.59L207.74,97.53L206.42,100.22M211.44,94.06L212.14,96.98L213.46,99.67L214.16,102.59L214.55,105.57L215.6,108.38M191.68,83.01L189.18,84.67L187.17,86.9L184.88,88.83M220.1,63.3L222.51,61.52L225.2,60.19M190.98,63.81L188.75,61.81L186.04,60.51L183.06,60.21L180.11,59.67L177.16,59.1M216.42,65.91L218.2,63.49L219.24,60.68L220.56,57.99L221.86,55.28M215.01,60.2L217.19,58.14L219.23,55.94M219.52,81.31L222.49,81.75L225.27,82.86L228.22,83.41M212.07,58.54L212.47,55.57L213.45,52.73L214.87,50.09L215.65,47.19M202.49,91.07L202.6,94.06L202.85,97.05L202.11,99.96M205.01,55.94L205.69,53.01L206.46,50.11M222.04,70.87L225.03,70.63L228.02,70.31L231.02,70.25L233.89,71.11L236.49,72.6M192.27,63.2L190.56,60.74L188.39,58.66L185.89,57.01L183.42,55.31L180.6,54.28M185.36,73.33L182.44,72.64L179.45,72.52L176.5,71.97M218,91.57L220.02,93.79L221.95,96.09L224.43,97.78M220.92,66.29L223.28,64.44L225.07,62.03L226.77,59.56L229.08,57.65M219.77,69.41L222.73,68.96L225.69,69.43L228.36,70.82M198.41,63.55L198.03,60.58L197.81,57.59L197.16,54.66L196.83,51.68M204.63,58.4L204.95,55.42L205.44,52.46M187.07,83.2L184.2,84.08L181.54,85.45L178.57,85.91M201.18,56.37L199.45,53.93L197,52.19L195.27,49.74L194.06,46.99L192.23,44.62M218.43,77.31L221.43,77.36L224.42,77.61L227.38,77.11L230.11,75.88L232.61,74.22M219.91,71.45L222.65,70.23L225.62,69.81L228.59,70.24L231.43,71.2L234.26,72.2M209.2,57.55L209.08,54.56L209.35,51.57L210.28,48.72L211.55,46M222.44,70.52L225.42,70.18L228.37,70.72L231.22,71.66L234.22,71.83M214.88,63.58L216.37,60.98L217.09,58.07L217.46,55.09L217.64,52.1L217.18,49.13M230.66,84.3L233.66,84.35L236.65,84.52L239.6,85.05M193.39,91.93L191.49,94.25L189.13,96.1M208.41,94.17L209.84,96.81L211.21,99.48L213.06,101.84L215.59,103.44M186.87,64.45L184.25,62.98L181.74,61.34L179.63,59.2M231.48,61.61L233.6,59.49L235.66,57.3L238.12,55.59M200.13,49.96L200.97,47.08L201.22,44.09M197.01,99.41L196.67,102.39L195.36,105.09L193.69,107.58L192.45,110.32M227.46,91.12L229.03,93.67L231.29,95.64M218.46,57.52L218.8,54.54L219.58,51.64M195.93,56.83L195.09,53.95L194.86,50.96M219.18,57.26L219.75,54.32L219.92,51.32M218.18,98.23L219.33,101L220.62,103.7M177.88,67.6L174.88,67.62L171.97,68.35L169.09,69.19L166.09,69.02M181.52,75.99L178.52,75.83L175.6,75.15L172.93,73.79L170.32,72.3M188.45,64.1L186.69,61.67L184.44,59.69M181.09,80.6L178.23,81.53L175.27,82.01L172.51,83.19M208.62,50.43L209.67,47.62L210.24,44.67L211.59,42L211.98,39.02M183.52,67.81L180.6,67.11L177.61,67.28M193.65,95.48L191.4,97.47L189.29,99.6L187.85,102.23M182.15,85.41L179.29,86.32L176.63,87.71M203.28,99.99L203.23,102.99L203.25,105.99M231.09,81.16L233.79,82.47L236.57,83.58L239.45,84.42M184.31,73.9L181.31,73.8L178.38,74.45M225.54,92.84L228.3,94.03L230.96,95.41M194.64,55.39L193.14,52.79L191.28,50.44M186.22,53.63L183.57,52.22L181.57,49.99M178.05,81.26L175.14,82.01L172.63,83.65L170.32,85.56M205.5,102.7L205.46,105.7L205.9,108.67M201.76,51.52L200.45,48.83L200.05,45.85L200.11,42.85M208.15,99.44L207.86,102.43L207.97,105.43L207.58,108.4L207.5,111.4M219.01,94.32L220.43,96.96L222.17,99.41L224.39,101.42M199.98,55.06L199.13,52.18L198.08,49.37L197.69,46.39M228.06,89.04L229.8,91.48L230.77,94.32L232.47,96.8L233.35,99.66M225.17,60.66L226.77,58.12L228.82,55.93L231.14,54.03L233.77,52.59M215.32,95.25L217.32,97.48L219.4,99.65M224.62,65.88L227.62,65.92L230.55,66.53L233.16,68.02L235.69,69.62M183.9,92.39L181.75,94.48L179.27,96.17M188.75,93.98L186.58,96.05L183.9,97.39L181.15,98.59M197.92,51.85L197.05,48.98L196.64,46M223.52,67.77L226.41,66.96L229.41,67.12M211.68,51.69L211.71,48.69L211.46,45.7M218.25,53.63L220.08,51.25L222.35,49.28M230.18,72.37L232.83,70.96L235.54,69.67L238.08,68.08M188.83,88.66L186.46,90.5L184.29,92.57L181.8,94.24M201.88,97.42L201.49,100.4L200.81,103.32L200.84,106.32L200.26,109.26M197.28,53.53L196.22,50.72L194.54,48.24M187.9,64.68L184.9,64.66L181.97,65.31L179.23,66.52M185.52,53.64L180.26,51.35L174.21,49.1L162.79,48.03L157.4,48.96L148.5,50.12L144.25,53.92M201.07,48.82L201.03,41.46L201.54,38.43L205.23,32.11M230.94,78.87L241.55,75.1L250.26,72.49L257.75,70.07L261.51,66.09M227.06,91.13L232.98,96.57L243.16,101.02L250.17,106.68M212.3,98.02L213.07,106.12L210.89,116.94L210.67,125.92M180.44,73.33L173.7,71.08L161.83,66.59L156.74,66.62M189.12,94.88L183.29,102.04L177.99,108.22M184.51,61.02L177.46,58.89L169.73,57.72" stroke="#8E8E8E" stroke-width="0.28" opacity="0.9"/>
<g fill="#DD590F" stroke="none">
<circle cx="229.12" cy="79.75" r="0.5"/>
<circle cx="235.56" cy="74.25" r="0.5"/>
<circle cx="219.41" cy="93.27" r="0.5"/>
<circle cx="221.24" cy="90.81" r="0.5"/>
<circle cx="183.53" cy="90.19" r="0.5"/>
<circle cx="186.35" cy="90.32" r="0.5"/>
<circle cx="178.38" cy="56.33" r="0.5"/>
<circle cx="176.67" cy="58.43" r="0.5"/>
<circle cx="223.33" cy="64.87" r="0.5"/>
<circle cx="178.19" cy="70.34" r="0.5"/>
<circle cx="176.71" cy="73.13" r="0.5"/>
<circle cx="218.58" cy="51.58" r="0.5"/>
<circle cx="215.24" cy="49.28" r="0.5"/>
<circle cx="227.28" cy="79.78" r="0.5"/>
<circle cx="176.97" cy="82.8" r="0.5"/>
<circle cx="219.11" cy="61.01" r="0.5"/>
<circle cx="224.38" cy="60.75" r="0.5"/>
<circle cx="185.86" cy="84.85" r="0.5"/>
<circle cx="177.7" cy="83.8" r="0.5"/>
<circle cx="177.28" cy="82.43" r="0.5"/>
<circle cx="206.32" cy="106.23" r="0.5"/>
<circle cx="210.14" cy="107.32" r="0.5"/>
<circle cx="218.66" cy="59.56" r="0.5"/>
<circle cx="213.22" cy="45.81" r="0.5"/>
<circle cx="208.08" cy="104.1" r="0.5"/>
<circle cx="222.21" cy="50.43" r="0.5"/>
<circle cx="221.73" cy="50.53" r="0.5"/>
<circle cx="218.32" cy="50.15" r="0.5"/>
<circle cx="177.52" cy="85.01" r="0.5"/>
<circle cx="167.28" cy="87.39" r="0.5"/>
<circle cx="166.67" cy="85.47" r="0.5"/>
<circle cx="181.68" cy="79.92" r="0.5"/>
<circle cx="179.77" cy="81.71" r="0.5"/>
<circle cx="207.15" cy="40.21" r="0.5"/>
<circle cx="207.86" cy="38.36" r="0.5"/>
<circle cx="228.08" cy="67.41" r="0.5"/>
<circle cx="221.68" cy="97.5" r="0.5"/>
<circle cx="222.02" cy="97.79" r="0.5"/>
<circle cx="195.43" cy="96.04" r="0.5"/>
<circle cx="194.45" cy="96.37" r="0.5"/>
<circle cx="197.76" cy="59.35" r="0.5"/>
<circle cx="203.31" cy="55.61" r="0.5"/>
<circle cx="220.59" cy="76.76" r="0.5"/>
<circle cx="227.85" cy="77.05" r="0.5"/>
<circle cx="233.47" cy="83.24" r="0.5"/>
<circle cx="232.18" cy="81.71" r="0.5"/>
<circle cx="188.4" cy="96.68" r="0.5"/>
<circle cx="184.21" cy="93.3" r="0.5"/>
<circle cx="230.29" cy="61.73" r="0.5"/>
<circle cx="230.06" cy="61.28" r="0.5"/>
<circle cx="181.35" cy="64.64" r="0.5"/>
<circle cx="172" cy="61.16" r="0.5"/>
<circle cx="211.43" cy="55.94" r="0.5"/>
<circle cx="215.89" cy="49.4" r="0.5"/>
<circle cx="220.88" cy="102.24" r="0.5"/>
<circle cx="223.39" cy="100.38" r="0.5"/>
<circle cx="225.56" cy="99.11" r="0.5"/>
<circle cx="236.71" cy="75.7" r="0.5"/>
<circle cx="235.04" cy="77.71" r="0.5"/>
<circle cx="196.36" cy="57.45" r="0.5"/>
<circle cx="194.8" cy="58.84" r="0.5"/>
<circle cx="198.99" cy="101.78" r="0.5"/>
<circle cx="200.23" cy="102.3" r="0.5"/>
<circle cx="214.93" cy="94.17" r="0.5"/>
<circle cx="218.87" cy="98.69" r="0.5"/>
<circle cx="218.03" cy="100.52" r="0.5"/>
<circle cx="243.89" cy="81.35" r="0.5"/>
<circle cx="243.77" cy="76.82" r="0.5"/>
<circle cx="231.76" cy="74.7" r="0.5"/>
<circle cx="231.61" cy="71.19" r="0.5"/>
<circle cx="219.23" cy="62.53" r="0.5"/>
<circle cx="225.21" cy="54.28" r="0.5"/>
<circle cx="224.71" cy="56.21" r="0.5"/>
<circle cx="225.1" cy="54.38" r="0.5"/>
<circle cx="230.65" cy="62.13" r="0.5"/>
<circle cx="233.52" cy="77.55" r="0.5"/>
<circle cx="237.26" cy="73.94" r="0.5"/>
<circle cx="186.52" cy="59.1" r="0.5"/>
<circle cx="185.98" cy="51.45" r="0.5"/>
<circle cx="183.72" cy="53.48" r="0.5"/>
<circle cx="224.32" cy="78.47" r="0.5"/>
<circle cx="232.32" cy="77.45" r="0.5"/>
<circle cx="236.79" cy="80.15" r="0.5"/>
<circle cx="234.87" cy="78.86" r="0.5"/>
<circle cx="193.5" cy="94.77" r="0.5"/>
<circle cx="187.82" cy="97.14" r="0.5"/>
<circle cx="186.36" cy="93.92" r="0.5"/>
<circle cx="194.16" cy="98.32" r="0.5"/>
<circle cx="188.89" cy="99.67" r="0.5"/>
<circle cx="189.55" cy="102.22" r="0.5"/>
<circle cx="190.01" cy="91.21" r="0.5"/>
<circle cx="180.51" cy="92.67" r="0.5"/>
<circle cx="179.78" cy="92.58" r="0.5"/>
<circle cx="215.51" cy="92.14" r="0.5"/>
<circle cx="216.54" cy="93.36" r="0.5"/>
<circle cx="202.7" cy="97.14" r="0.5"/>
<circle cx="209.09" cy="102.43" r="0.5"/>
<circle cx="183.09" cy="88.98" r="0.5"/>
<circle cx="184.61" cy="90.12" r="0.5"/>
<circle cx="208.38" cy="91.09" r="0.5"/>
<circle cx="213.98" cy="95.62" r="0.5"/>
<circle cx="233.21" cy="58.97" r="0.5"/>
<circle cx="183.2" cy="68.45" r="0.5"/>
<circle cx="183.94" cy="66.01" r="0.5"/>
<circle cx="184.21" cy="64.17" r="0.5"/>
<circle cx="233.15" cy="64.53" r="0.5"/>
<circle cx="231.12" cy="93.98" r="0.5"/>
<circle cx="232.39" cy="98.76" r="0.5"/>
<circle cx="233.63" cy="87.19" r="0.5"/>
<circle cx="237.01" cy="90.05" r="0.5"/>
<circle cx="236.54" cy="89.94" r="0.5"/>
<circle cx="180.25" cy="58.14" r="0.5"/>
<circle cx="181.86" cy="57.98" r="0.5"/>
<circle cx="189.36" cy="94.74" r="0.5"/>
<circle cx="191.97" cy="100.16" r="0.5"/>
<circle cx="188.91" cy="100.6" r="0.5"/>
<circle cx="192.83" cy="58.83" r="0.5"/>
<circle cx="228.4" cy="57.24" r="0.5"/>
<circle cx="229.56" cy="55.97" r="0.5"/>
<circle cx="192.36" cy="98.76" r="0.5"/>
<circle cx="227.55" cy="97.66" r="0.5"/>
<circle cx="226.82" cy="98.13" r="0.5"/>
<circle cx="192.38" cy="95.16" r="0.5"/>
<circle cx="191.13" cy="95.63" r="0.5"/>
<circle cx="202.7" cy="93.97" r="0.5"/>
<circle cx="201" cy="100.74" r="0.5"/>
<circle cx="200.98" cy="99" r="0.5"/>
<circle cx="229.8" cy="71.26" r="0.5"/>
<circle cx="221.02" cy="102.72" r="0.5"/>
<circle cx="221.2" cy="101.26" r="0.5"/>
<circle cx="188.95" cy="55.54" r="0.5"/>
<circle cx="184.25" cy="64.7" r="0.5"/>
<circle cx="186.48" cy="64.03" r="0.5"/>
<circle cx="178.79" cy="83" r="0.5"/>
<circle cx="179.41" cy="83.83" r="0.5"/>
<circle cx="179.39" cy="85.86" r="0.5"/>
<circle cx="185.81" cy="84.49" r="0.5"/>
<circle cx="178.9" cy="87.55" r="0.5"/>
<circle cx="204.65" cy="44.38" r="0.5"/>
<circle cx="210.07" cy="36.24" r="0.5"/>
<circle cx="210.32" cy="37.93" r="0.5"/>
<circle cx="200.34" cy="48.61" r="0.5"/>
<circle cx="197.19" cy="49.75" r="0.5"/>
<circle cx="237.33" cy="65.92" r="0.5"/>
<circle cx="237.98" cy="66.75" r="0.5"/>
<circle cx="192.96" cy="54.94" r="0.5"/>
<circle cx="187.91" cy="45.4" r="0.5"/>
<circle cx="189.22" cy="46.46" r="0.5"/>
<circle cx="188.97" cy="95.52" r="0.5"/>
<circle cx="187.09" cy="94.12" r="0.5"/>
<circle cx="233.22" cy="94.82" r="0.5"/>
<circle cx="189.59" cy="96.3" r="0.5"/>
<circle cx="188.32" cy="99.08" r="0.5"/>
<circle cx="190.1" cy="99.21" r="0.5"/>
<circle cx="191.38" cy="55.73" r="0.5"/>
<circle cx="192.8" cy="54.42" r="0.5"/>
<circle cx="228.16" cy="63.05" r="0.5"/>
<circle cx="225.8" cy="57.29" r="0.5"/>
<circle cx="224.8" cy="89.62" r="0.5"/>
<circle cx="226.35" cy="91.01" r="0.5"/>
<circle cx="228.86" cy="89.78" r="0.5"/>
<circle cx="198.8" cy="95.89" r="0.5"/>
<circle cx="204.59" cy="97.83" r="0.5"/>
<circle cx="204.33" cy="102.32" r="0.5"/>
<circle cx="204.18" cy="102.61" r="0.5"/>
<circle cx="230.78" cy="89.83" r="0.5"/>
<circle cx="239.57" cy="91.63" r="0.5"/>
<circle cx="238.82" cy="92.1" r="0.5"/>
<circle cx="212.9" cy="109.13" r="0.5"/>
<circle cx="217.17" cy="109.9" r="0.5"/>
<circle cx="216.75" cy="110.37" r="0.5"/>
<circle cx="184.15" cy="90.8" r="0.5"/>
<circle cx="222.39" cy="57.12" r="0.5"/>
<circle cx="227.47" cy="61.34" r="0.5"/>
<circle cx="228.78" cy="58.93" r="0.5"/>
<circle cx="190.82" cy="54.69" r="0.5"/>
<circle cx="184.83" cy="47.9" r="0.5"/>
<circle cx="184.06" cy="47.66" r="0.5"/>
<circle cx="233.82" cy="79.22" r="0.5"/>
<circle cx="232.62" cy="78.36" r="0.5"/>
<circle cx="198.32" cy="95.75" r="0.5"/>
<circle cx="190.33" cy="99.57" r="0.5"/>
<circle cx="182.89" cy="69.1" r="0.5"/>
<circle cx="181.26" cy="68.31" r="0.5"/>
<circle cx="180.45" cy="65.96" r="0.5"/>
<circle cx="186.63" cy="82.88" r="0.5"/>
<circle cx="198.77" cy="48.31" r="0.5"/>
<circle cx="196.81" cy="49.44" r="0.5"/>
<circle cx="216.06" cy="45.87" r="0.5"/>
<circle cx="218.19" cy="38.49" r="0.5"/>
<circle cx="184.53" cy="77.31" r="0.5"/>
<circle cx="185.33" cy="79.39" r="0.5"/>
<circle cx="186.84" cy="79.23" r="0.5"/>
<circle cx="187.36" cy="88.62" r="0.5"/>
<circle cx="188.01" cy="57.58" r="0.5"/>
<circle cx="175.25" cy="60.02" r="0.5"/>
<circle cx="175.12" cy="57.05" r="0.5"/>
<circle cx="175.03" cy="58.31" r="0.5"/>
<circle cx="175.26" cy="61.89" r="0.5"/>
<circle cx="177.55" cy="59.91" r="0.5"/>
<circle cx="220.2" cy="89.72" r="0.5"/>
<circle cx="216.81" cy="60.32" r="0.5"/>
<circle cx="222.92" cy="52.65" r="0.5"/>
<circle cx="224.55" cy="54.59" r="0.5"/>
<circle cx="229.3" cy="77.07" r="0.5"/>
<circle cx="217.61" cy="53.75" r="0.5"/>
<circle cx="218.78" cy="54.07" r="0.5"/>
<circle cx="173.62" cy="65.5" r="0.5"/>
<circle cx="172.75" cy="60.13" r="0.5"/>
<circle cx="225.41" cy="65.11" r="0.5"/>
<circle cx="229.2" cy="59.42" r="0.5"/>
<circle cx="226" cy="56.13" r="0.5"/>
<circle cx="189.43" cy="111.17" r="0.5"/>
<circle cx="225.05" cy="84.86" r="0.5"/>
<circle cx="230.58" cy="84.88" r="0.5"/>
<circle cx="230.19" cy="81.84" r="0.5"/>
<circle cx="182.91" cy="73.31" r="0.5"/>
<circle cx="183.75" cy="72.14" r="0.5"/>
<circle cx="238.4" cy="69.31" r="0.5"/>
<circle cx="244.86" cy="66.96" r="0.5"/>
<circle cx="213.63" cy="100.72" r="0.5"/>
<circle cx="218.02" cy="45.58" r="0.5"/>
<circle cx="216.33" cy="43.54" r="0.5"/>
<circle cx="201.6" cy="101.91" r="0.5"/>
<circle cx="202.43" cy="103.35" r="0.5"/>
<circle cx="221.75" cy="60.48" r="0.5"/>
<circle cx="222.33" cy="60.66" r="0.5"/>
<circle cx="208.47" cy="103.9" r="0.5"/>
<circle cx="207.23" cy="46.53" r="0.5"/>
<circle cx="206.57" cy="48.19" r="0.5"/>
<circle cx="227.98" cy="61.87" r="0.5"/>
<circle cx="232.38" cy="59.45" r="0.5"/>
<circle cx="234.83" cy="61.58" r="0.5"/>
<circle cx="193.55" cy="60.66" r="0.5"/>
<circle cx="194.04" cy="60.84" r="0.5"/>
<circle cx="201.53" cy="52.08" r="0.5"/>
<circle cx="238.31" cy="63.14" r="0.5"/>
<circle cx="226.74" cy="73.64" r="0.5"/>
<circle cx="237.55" cy="68.99" r="0.5"/>
<circle cx="238.4" cy="71.9" r="0.5"/>
<circle cx="238.99" cy="71.4" r="0.5"/>
<circle cx="179.37" cy="51.14" r="0.5"/>
<circle cx="179.21" cy="52.81" r="0.5"/>
<circle cx="221" cy="104.93" r="0.5"/>
<circle cx="223.08" cy="102.46" r="0.5"/>
<circle cx="173.69" cy="72.65" r="0.5"/>
<circle cx="174.79" cy="73.37" r="0.5"/>
<circle cx="225.66" cy="99.33" r="0.5"/>
<circle cx="204.25" cy="47.74" r="0.5"/>
<circle cx="201.52" cy="39.62" r="0.5"/>
<circle cx="205.22" cy="40.41" r="0.5"/>
<circle cx="224.47" cy="59.79" r="0.5"/>
<circle cx="229.51" cy="55.45" r="0.5"/>
<circle cx="230.04" cy="56.07" r="0.5"/>
<circle cx="232.11" cy="69.81" r="0.5"/>
<circle cx="230.32" cy="70.84" r="0.5"/>
<circle cx="236.63" cy="77.24" r="0.5"/>
<circle cx="230.1" cy="62.84" r="0.5"/>
<circle cx="230.29" cy="64.41" r="0.5"/>
<circle cx="209.57" cy="100.07" r="0.5"/>
<circle cx="213.28" cy="105.63" r="0.5"/>
<circle cx="215.89" cy="105.58" r="0.5"/>
<circle cx="213.36" cy="47.68" r="0.5"/>
<circle cx="221.34" cy="49.46" r="0.5"/>
<circle cx="220.01" cy="48.25" r="0.5"/>
<circle cx="198.9" cy="49.08" r="0.5"/>
<circle cx="198.85" cy="49.48" r="0.5"/>
<circle cx="198.81" cy="99.84" r="0.5"/>
<circle cx="204.37" cy="102.38" r="0.5"/>
<circle cx="202.75" cy="103.22" r="0.5"/>
<circle cx="229.52" cy="60.87" r="0.5"/>
<circle cx="229.57" cy="57.24" r="0.5"/>
<circle cx="229.69" cy="89.27" r="0.5"/>
<circle cx="230.08" cy="89.24" r="0.5"/>
<circle cx="203.21" cy="52.65" r="0.5"/>
<circle cx="205.58" cy="50.65" r="0.5"/>
<circle cx="178" cy="84.91" r="0.5"/>
<circle cx="175.63" cy="86.52" r="0.5"/>
<circle cx="206.28" cy="54.54" r="0.5"/>
<circle cx="204.64" cy="50.4" r="0.5"/>
<circle cx="193.96" cy="52.52" r="0.5"/>
<circle cx="189.1" cy="43.35" r="0.5"/>
<circle cx="188.45" cy="44.65" r="0.5"/>
<circle cx="223.88" cy="81.7" r="0.5"/>
<circle cx="224.25" cy="82.76" r="0.5"/>
<circle cx="225.03" cy="81.81" r="0.5"/>
<circle cx="226.91" cy="83.88" r="0.5"/>
<circle cx="230.08" cy="83.17" r="0.5"/>
<circle cx="178.24" cy="70.55" r="0.5"/>
<circle cx="179.84" cy="66.14" r="0.5"/>
<circle cx="236" cy="72.83" r="0.5"/>
<circle cx="235.25" cy="71.58" r="0.5"/>
<circle cx="236.83" cy="71.63" r="0.5"/>
<circle cx="180.08" cy="69.59" r="0.5"/>
<circle cx="172.86" cy="67.05" r="0.5"/>
<circle cx="219.06" cy="83.07" r="0.5"/>
<circle cx="225.78" cy="82.55" r="0.5"/>
<circle cx="223.32" cy="84.54" r="0.5"/>
<circle cx="175.6" cy="76.75" r="0.5"/>
<circle cx="171.72" cy="74.61" r="0.5"/>
<circle cx="214.51" cy="45.29" r="0.5"/>
<circle cx="214.62" cy="44.02" r="0.5"/>
<circle cx="176.34" cy="74.15" r="0.5"/>
<circle cx="175.5" cy="74.53" r="0.5"/>
<circle cx="236.18" cy="74.4" r="0.5"/>
<circle cx="218.93" cy="46.19" r="0.5"/>
<circle cx="216.64" cy="45.69" r="0.5"/>
<circle cx="233.29" cy="75.13" r="0.5"/>
<circle cx="234.54" cy="75.64" r="0.5"/>
<circle cx="230.31" cy="76.01" r="0.5"/>
<circle cx="191.07" cy="67.58" r="0.5"/>
<circle cx="189.98" cy="62.77" r="0.5"/>
<circle cx="236.23" cy="88.5" r="0.5"/>
<circle cx="235.94" cy="86.65" r="0.5"/>
<circle cx="235.13" cy="86.12" r="0.5"/>
<circle cx="242.3" cy="85.19" r="0.5"/>
<circle cx="242.25" cy="87.45" r="0.5"/>
<circle cx="211.25" cy="103.65" r="0.5"/>
<circle cx="209.14" cy="103.58" r="0.5"/>
<circle cx="228.02" cy="65.12" r="0.5"/>
<circle cx="234.51" cy="64.68" r="0.5"/>
<circle cx="235.74" cy="60.16" r="0.5"/>
<circle cx="236.48" cy="64.03" r="0.5"/>
<circle cx="198.23" cy="49.14" r="0.5"/>
<circle cx="201.76" cy="48.32" r="0.5"/>
<circle cx="189.32" cy="99.24" r="0.5"/>
<circle cx="187.08" cy="95.63" r="0.5"/>
<circle cx="209.96" cy="103.41" r="0.5"/>
<circle cx="215.64" cy="105.46" r="0.5"/>
<circle cx="195.93" cy="97.28" r="0.5"/>
<circle cx="192.51" cy="100.6" r="0.5"/>
<circle cx="194.63" cy="101.13" r="0.5"/>
<circle cx="197.18" cy="38.54" r="0.5"/>
<circle cx="197.51" cy="34.35" r="0.5"/>
<circle cx="179.4" cy="56.98" r="0.5"/>
<circle cx="180.17" cy="55.94" r="0.5"/>
<circle cx="233.94" cy="57.42" r="0.5"/>
<circle cx="239.25" cy="52.36" r="0.5"/>
<circle cx="240.91" cy="55.59" r="0.5"/>
<circle cx="241.36" cy="55.14" r="0.5"/>
<circle cx="186.93" cy="104.09" r="0.5"/>
<circle cx="184.02" cy="100.77" r="0.5"/>
<circle cx="204.11" cy="42.36" r="0.5"/>
<circle cx="201.34" cy="41.81" r="0.5"/>
<circle cx="206.57" cy="103.62" r="0.5"/>
<circle cx="208.52" cy="105.28" r="0.5"/>
<circle cx="174.41" cy="97.14" r="0.5"/>
<circle cx="175.5" cy="98.7" r="0.5"/>
<circle cx="194.63" cy="110.23" r="0.5"/>
<circle cx="191.02" cy="111.98" r="0.5"/>
<circle cx="192.26" cy="48.23" r="0.5"/>
<circle cx="194.03" cy="43.25" r="0.5"/>
<circle cx="231.56" cy="99.31" r="0.5"/>
<circle cx="232.81" cy="96.95" r="0.5"/>
<circle cx="222.97" cy="50.06" r="0.5"/>
<circle cx="170.02" cy="68.38" r="0.5"/>
<circle cx="162.76" cy="72.21" r="0.5"/>
<circle cx="198.07" cy="48.9" r="0.5"/>
<circle cx="194.24" cy="48.86" r="0.5"/>
<circle cx="194.66" cy="49.07" r="0.5"/>
<circle cx="191.08" cy="44.26" r="0.5"/>
<circle cx="215.39" cy="38.72" r="0.5"/>
<circle cx="215.18" cy="40.4" r="0.5"/>
<circle cx="231.53" cy="93.57" r="0.5"/>
<circle cx="230.6" cy="95.49" r="0.5"/>
<circle cx="231.01" cy="46.92" r="0.5"/>
<circle cx="231.24" cy="40.77" r="0.5"/>
<circle cx="221.15" cy="49.3" r="0.5"/>
<circle cx="231.52" cy="58.9" r="0.5"/>
<circle cx="238.3" cy="57.74" r="0.5"/>
<circle cx="223.14" cy="100.54" r="0.5"/>
<circle cx="219.8" cy="106.01" r="0.5"/>
<circle cx="220.84" cy="106.79" r="0.5"/>
<circle cx="216.14" cy="39.72" r="0.5"/>
<circle cx="216.12" cy="38" r="0.5"/>
<circle cx="169.64" cy="65.26" r="0.5"/>
<circle cx="163.36" cy="67.23" r="0.5"/>
<circle cx="163.8" cy="67.57" r="0.5"/>
<circle cx="224.64" cy="97.79" r="0.5"/>
<circle cx="231.09" cy="97.98" r="0.5"/>
<circle cx="173.57" cy="71.39" r="0.5"/>
<circle cx="173.65" cy="65.34" r="0.5"/>
<circle cx="167.56" cy="73.96" r="0.5"/>
<circle cx="166.79" cy="73.67" r="0.5"/>
<circle cx="181.95" cy="59.51" r="0.5"/>
<circle cx="181.34" cy="60.41" r="0.5"/>
<circle cx="170.65" cy="83.57" r="0.5"/>
<circle cx="169.45" cy="82.05" r="0.5"/>
<circle cx="209.79" cy="40.34" r="0.5"/>
<circle cx="213.41" cy="36.2" r="0.5"/>
<circle cx="214.81" cy="37.24" r="0.5"/>
<circle cx="175.5" cy="66.22" r="0.5"/>
<circle cx="188.44" cy="103.97" r="0.5"/>
<circle cx="185.49" cy="103.35" r="0.5"/>
<circle cx="174.56" cy="88.35" r="0.5"/>
<circle cx="173.31" cy="87.89" r="0.5"/>
<circle cx="204.29" cy="108.01" r="0.5"/>
<circle cx="214.66" cy="104.86" r="0.5"/>
<circle cx="215.75" cy="108.9" r="0.5"/>
<circle cx="229.33" cy="95.75" r="0.5"/>
<circle cx="235.01" cy="92.97" r="0.5"/>
<circle cx="233.96" cy="92.6" r="0.5"/>
<circle cx="244.94" cy="70.44" r="0.5"/>
<circle cx="243.03" cy="69.33" r="0.5"/>
<circle cx="232.11" cy="67.15" r="0.5"/>
<circle cx="231.97" cy="67.34" r="0.5"/>
<circle cx="234.91" cy="85.66" r="0.5"/>
<circle cx="241.97" cy="86.25" r="0.5"/>
<circle cx="240.44" cy="87.61" r="0.5"/>
<circle cx="176.5" cy="74.31" r="0.5"/>
<circle cx="175.9" cy="73.96" r="0.5"/>
<circle cx="230.48" cy="99.46" r="0.5"/>
<circle cx="233.62" cy="94.72" r="0.5"/>
<circle cx="232.77" cy="96.98" r="0.5"/>
<circle cx="188.84" cy="50.44" r="0.5"/>
<circle cx="188.37" cy="49.39" r="0.5"/>
<circle cx="181.31" cy="48.15" r="0.5"/>
<circle cx="180.27" cy="54.76" r="0.5"/>
<circle cx="180.8" cy="51.1" r="0.5"/>
<circle cx="168.56" cy="86.78" r="0.5"/>
<circle cx="166.93" cy="85.7" r="0.5"/>
<circle cx="215.54" cy="42.96" r="0.5"/>
<circle cx="216.71" cy="44.32" r="0.5"/>
<circle cx="216.64" cy="43.67" r="0.5"/>
<circle cx="240.08" cy="91.06" r="0.5"/>
<circle cx="241.07" cy="88.52" r="0.5"/>
<circle cx="204.15" cy="110.38" r="0.5"/>
<circle cx="207.32" cy="110.94" r="0.5"/>
<circle cx="186.85" cy="42.18" r="0.5"/>
<circle cx="169.46" cy="72.26" r="0.5"/>
<circle cx="197.39" cy="48.04" r="0.5"/>
<circle cx="203.64" cy="40.2" r="0.5"/>
<circle cx="199.73" cy="39.53" r="0.5"/>
<circle cx="165.91" cy="76.32" r="0.5"/>
<circle cx="209.58" cy="111.98" r="0.5"/>
<circle cx="209.01" cy="113.58" r="0.5"/>
<circle cx="206.29" cy="113.33" r="0.5"/>
<circle cx="224.4" cy="96.98" r="0.5"/>
<circle cx="224.34" cy="104.14" r="0.5"/>
<circle cx="225.89" cy="103.56" r="0.5"/>
<circle cx="194.2" cy="47.8" r="0.5"/>
<circle cx="196.63" cy="43.28" r="0.5"/>
<circle cx="176.3" cy="73.69" r="0.5"/>
<circle cx="231.09" cy="99.1" r="0.5"/>
<circle cx="226.51" cy="101.45" r="0.5"/>
<circle cx="177.73" cy="80.41" r="0.5"/>
<circle cx="177.85" cy="82.56" r="0.5"/>
<circle cx="184.65" cy="55.4" r="0.5"/>
<circle cx="182.85" cy="52.5" r="0.5"/>
<circle cx="228.38" cy="97.43" r="0.5"/>
<circle cx="235.64" cy="101.2" r="0.5"/>
<circle cx="228.5" cy="52.41" r="0.5"/>
<circle cx="236.14" cy="52.7" r="0.5"/>
<circle cx="235.19" cy="49.53" r="0.5"/>
<circle cx="236.86" cy="52.83" r="0.5"/>
<circle cx="173.73" cy="55.34" r="0.5"/>
<circle cx="233.85" cy="93.05" r="0.5"/>
<circle cx="237.3" cy="85.44" r="0.5"/>
<circle cx="241.35" cy="93.29" r="0.5"/>
<circle cx="239.65" cy="92.69" r="0.5"/>
<circle cx="236.5" cy="104.61" r="0.5"/>
<circle cx="235.59" cy="105.09" r="0.5"/>
<circle cx="223.41" cy="97.77" r="0.5"/>
<circle cx="219.88" cy="101.56" r="0.5"/>
<circle cx="232.56" cy="69.42" r="0.5"/>
<circle cx="237.63" cy="69.52" r="0.5"/>
<circle cx="237.3" cy="70.72" r="0.5"/>
<circle cx="199.27" cy="103.99" r="0.5"/>
<circle cx="199.51" cy="103.68" r="0.5"/>
<circle cx="234.06" cy="99.65" r="0.5"/>
<circle cx="235.07" cy="99.81" r="0.5"/>
<circle cx="178.72" cy="98.22" r="0.5"/>
<circle cx="176.65" cy="96.15" r="0.5"/>
<circle cx="197.99" cy="43.96" r="0.5"/>
<circle cx="199.37" cy="38.31" r="0.5"/>
<circle cx="203.71" cy="37.88" r="0.5"/>
<circle cx="182.64" cy="100.34" r="0.5"/>
<circle cx="178.34" cy="100.01" r="0.5"/>
<circle cx="186.66" cy="55.92" r="0.5"/>
<circle cx="183.66" cy="56.46" r="0.5"/>
<circle cx="185.39" cy="92.63" r="0.5"/>
<circle cx="184.96" cy="93.44" r="0.5"/>
<circle cx="187.8" cy="93.89" r="0.5"/>
<circle cx="198.41" cy="44.14" r="0.5"/>
<circle cx="174.59" cy="104.61" r="0.5"/>
<circle cx="174.33" cy="99.14" r="0.5"/>
<circle cx="169.64" cy="73.13" r="0.5"/>
<circle cx="167.98" cy="77.67" r="0.5"/>
<circle cx="241.28" cy="64.55" r="0.5"/>
<circle cx="246.23" cy="69.83" r="0.5"/>
<circle cx="191.1" cy="35.26" r="0.5"/>
<circle cx="191.01" cy="36.11" r="0.5"/>
<circle cx="191.67" cy="103.29" r="0.5"/>
<circle cx="195.36" cy="105.73" r="0.5"/>
<circle cx="231.15" cy="66.09" r="0.5"/>
<circle cx="231.4" cy="66.89" r="0.5"/>
<circle cx="228.74" cy="44.39" r="0.5"/>
<circle cx="233.71" cy="70.78" r="0.5"/>
<circle cx="237.28" cy="72.59" r="0.5"/>
<circle cx="189.4" cy="106.99" r="0.5"/>
<circle cx="188.76" cy="107.3" r="0.5"/>
<circle cx="195.61" cy="104.83" r="0.5"/>
<circle cx="196.31" cy="104.39" r="0.5"/>
<circle cx="178.39" cy="59.03" r="0.5"/>
<circle cx="177.09" cy="60.81" r="0.5"/>
<circle cx="209.44" cy="43.84" r="0.5"/>
<circle cx="212.03" cy="43.66" r="0.5"/>
<circle cx="212.84" cy="43.66" r="0.5"/>
<circle cx="221.88" cy="45.92" r="0.5"/>
<circle cx="177.7" cy="85.69" r="0.5"/>
<circle cx="177.48" cy="90.15" r="0.5"/>
<circle cx="238.69" cy="70.6" r="0.5"/>
<circle cx="241.61" cy="68.24" r="0.5"/>
<circle cx="182.43" cy="91.52" r="0.5"/>
<circle cx="179.67" cy="93.43" r="0.5"/>
<circle cx="181.45" cy="96.49" r="0.5"/>
<circle cx="234.75" cy="51.73" r="0.5"/>
<circle cx="196.23" cy="44.79" r="0.5"/>
<circle cx="198.96" cy="110.91" r="0.5"/>
<circle cx="214.38" cy="50.09" r="0.5"/>
<circle cx="210.82" cy="43.6" r="0.5"/>
<circle cx="213.38" cy="43.43" r="0.5"/>
<circle cx="177.48" cy="61.29" r="0.5"/>
<circle cx="178.36" cy="61.23" r="0.5"/>
<circle cx="180.91" cy="57.13" r="0.5"/>
<circle cx="238.54" cy="68.35" r="0.5"/>
<circle cx="238.21" cy="69.53" r="0.5"/>
<circle cx="202.7" cy="103.61" r="0.5"/>
<circle cx="192.07" cy="47.76" r="0.5"/>
<circle cx="192.59" cy="45.35" r="0.5"/>
<circle cx="177.15" cy="65.92" r="0.5"/>
<circle cx="178.25" cy="69.58" r="0.5"/>
<circle cx="224.19" cy="100.94" r="0.5"/>
<circle cx="224.39" cy="101.26" r="0.5"/>
<circle cx="222.76" cy="101.32" r="0.5"/>
<circle cx="223.29" cy="101.12" r="0.5"/>
<circle cx="241.83" cy="80.92" r="0.5"/>
<circle cx="217.62" cy="105.86" r="0.5"/>
<circle cx="183.43" cy="56.5" r="0.5"/>
<circle cx="159.36" cy="47.3" r="0.5"/>
<circle cx="142.2" cy="52.48" r="0.5"/>
<circle cx="144.05" cy="55.24" r="0.5"/>
<circle cx="199.3" cy="47.12" r="0.5"/>
<circle cx="196.81" cy="27.65" r="0.5"/>
<circle cx="204.05" cy="22.44" r="0.5"/>
<circle cx="209.13" cy="24.79" r="0.5"/>
<circle cx="207.99" cy="36.38" r="0.5"/>
<circle cx="206.67" cy="37.58" r="0.5"/>
<circle cx="197.61" cy="44.75" r="0.5"/>
<circle cx="202.87" cy="34.79" r="0.5"/>
<circle cx="207.93" cy="31.95" r="0.5"/>
<circle cx="213.43" cy="41.42" r="0.5"/>
<circle cx="216.46" cy="42.23" r="0.5"/>
<circle cx="225.86" cy="26.79" r="0.5"/>
<circle cx="225.09" cy="45.31" r="0.5"/>
<circle cx="226.59" cy="47.06" r="0.5"/>
<circle cx="253.12" cy="69.5" r="0.5"/>
<circle cx="263.6" cy="65.63" r="0.5"/>
<circle cx="227.83" cy="62.95" r="0.5"/>
<circle cx="228.41" cy="63.7" r="0.5"/>
<circle cx="246.08" cy="62.26" r="0.5"/>
<circle cx="248.27" cy="64.15" r="0.5"/>
<circle cx="249.55" cy="65.25" r="0.5"/>
<circle cx="235.89" cy="50.91" r="0.5"/>
<circle cx="241.64" cy="52.79" r="0.5"/>
<circle cx="245.42" cy="48.93" r="0.5"/>
<circle cx="229.4" cy="95.67" r="0.5"/>
<circle cx="237.56" cy="101.67" r="0.5"/>
<circle cx="250.82" cy="111.04" r="0.5"/>
<circle cx="251.2" cy="108.31" r="0.5"/>
<circle cx="236.52" cy="105.25" r="0.5"/>
<circle cx="239.4" cy="113.23" r="0.5"/>
<circle cx="239.69" cy="112.58" r="0.5"/>
<circle cx="233.7" cy="83.87" r="0.5"/>
<circle cx="239.75" cy="90.15" r="0.5"/>
<circle cx="248.96" cy="91.68" r="0.5"/>
<circle cx="214.27" cy="116.39" r="0.5"/>
<circle cx="211.94" cy="122.45" r="0.5"/>
<circle cx="210.97" cy="127.26" r="0.5"/>
<circle cx="210.56" cy="128.96" r="0.5"/>
<circle cx="192.57" cy="107.56" r="0.5"/>
<circle cx="183.99" cy="125.09" r="0.5"/>
<circle cx="184.54" cy="128.18" r="0.5"/>
<circle cx="183.57" cy="129.95" r="0.5"/>
<circle cx="193.83" cy="124.52" r="0.5"/>
<circle cx="199.93" cy="130.2" r="0.5"/>
<circle cx="200.8" cy="129.99" r="0.5"/>
<circle cx="177.08" cy="69.41" r="0.5"/>
<circle cx="162.91" cy="64.08" r="0.5"/>
<circle cx="154.87" cy="66.33" r="0.5"/>
<circle cx="180.7" cy="85.22" r="0.5"/>
<circle cx="166.4" cy="98.22" r="0.5"/>
<circle cx="160.7" cy="103.18" r="0.5"/>
<circle cx="159.49" cy="102.16" r="0.5"/>
<circle cx="163.96" cy="84.01" r="0.5"/>
<circle cx="162.17" cy="86.56" r="0.5"/>
<circle cx="187.87" cy="100.72" r="0.5"/>
<circle cx="178.43" cy="104.56" r="0.5"/>
<circle cx="174.73" cy="110.01" r="0.5"/>
<circle cx="176.15" cy="111.72" r="0.5"/>
<circle cx="224.36" cy="105.01" r="0.5"/>
<circle cx="230.87" cy="110.34" r="0.5"/>
<circle cx="229.82" cy="112.14" r="0.5"/>
<circle cx="206.66" cy="109.32" r="0.5"/>
<circle cx="201.84" cy="117.41" r="0.5"/>
<circle cx="181.48" cy="62.52" r="0.5"/>
<circle cx="168.06" cy="54.49" r="0.5"/>
<circle cx="168.91" cy="54.97" r="0.5"/>
<circle cx="231.12" cy="70.58" r="0.5"/>
<circle cx="246.42" cy="69.17" r="0.5"/>
<circle cx="245.46" cy="70.64" r="0.5"/>
<circle cx="170.48" cy="47.14" r="0.5"/>
<circle cx="150.43" cy="47.1" r="0.5"/>
<circle cx="142.32" cy="54.43" r="0.5"/>
<circle cx="142.71" cy="56.48" r="0.5"/>
<circle cx="204.8" cy="28.5" r="0.5"/>
<circle cx="245.46" cy="76.76" r="0.5"/>
<circle cx="262.33" cy="67.81" r="0.5"/>
<circle cx="263.78" cy="64.02" r="0.5"/>
<circle cx="229" cy="96.85" r="0.5"/>
<circle cx="252.96" cy="106.71" r="0.5"/>
<circle cx="250.13" cy="108.91" r="0.5"/>
<circle cx="209.51" cy="107.9" r="0.5"/>
<circle cx="208.25" cy="128.28" r="0.5"/>
<circle cx="210.66" cy="129.3" r="0.5"/>
<circle cx="162.37" cy="64.87" r="0.5"/>
<circle cx="154.39" cy="68.21" r="0.5"/>
<circle cx="176.72" cy="107.37" r="0.5"/>
<circle cx="176.3" cy="111.26" r="0.5"/>
<circle cx="177.66" cy="60.96" r="0.5"/>
<circle cx="168.07" cy="58.73" r="0.5"/>
<circle cx="224.1" cy="47.8" r="2.6"/>
<circle cx="171.7" cy="84.9" r="1.9"/>
<circle cx="238.3" cy="91.5" r="1.5"/>
<circle cx="237.2" cy="78.4" r="1.3"/>
<circle cx="230.7" cy="67.4" r="1.2"/>
<circle cx="161.8" cy="66.3" r="1.2"/>
<circle cx="195" cy="44" r="1.2"/>
<circle cx="166" cy="98" r="1"/>
</g>
<circle cx="347" cy="74.25" r="5.8" fill="#8C96FC" stroke="none"/>
<circle cx="390" cy="34.5" r="5.8" fill="#F2AE90" stroke="none"/>
<circle cx="390" cy="74.5" r="5.8" fill="#E2520A" stroke="none"/>
<circle cx="390" cy="115.25" r="5.8" fill="#8A2B05" stroke="none"/>
<line x1="350.3" y1="69.7" x2="377.62" y2="42.47" stroke-width="1.25"/>
<polygon points="381.3,38.8 378.46,45.87 377.4,42.68 374.22,41.62" fill="#1d1412" stroke="none"/>
<line x1="353" y1="74.3" x2="377" y2="74.3" stroke-width="1.25"/>
<polygon points="382.2,74.3 375.2,77.3 376.7,74.3 375.2,71.3" fill="#1d1412" stroke="none"/>
<line x1="350.3" y1="78.9" x2="377.65" y2="106.69" stroke-width="1.25"/>
<polygon points="381.3,110.4 374.25,107.52 377.44,106.48 378.53,103.31" fill="#1d1412" stroke="none"/>
<text x="400" y="38.3" font-size="10.5">C00152</text>
<text x="400" y="78.3" font-size="10.5">C01042</text>
<text x="400" y="119" font-size="10.5">C00036</text>
<text x="313.7" y="94.8" font-size="10.5">C00049</text>
<path d="M525.5,23.5V60.5H636.3" stroke-width="1.1"/>
<line x1="522.5" y1="24" x2="525.5" y2="24" stroke-width="1"/>
<text x="520.9" y="27.6" font-size="10.6" text-anchor="end">0.6</text>
<line x1="522.5" y1="36.25" x2="525.5" y2="36.25" stroke-width="1"/>
<text x="520.9" y="39.85" font-size="10.6" text-anchor="end">0.4</text>
<line x1="522.5" y1="48.4" x2="525.5" y2="48.4" stroke-width="1"/>
<text x="520.9" y="52" font-size="10.6" text-anchor="end">0.2</text>
<line x1="522.5" y1="60.5" x2="525.5" y2="60.5" stroke-width="1"/>
<text x="520.9" y="64.1" font-size="10.6" text-anchor="end">0.0</text>
<path d="M525.5,78.5V115.5H636.3" stroke-width="1.1"/>
<line x1="522.5" y1="79" x2="525.5" y2="79" stroke-width="1"/>
<text x="520.9" y="82.6" font-size="10.6" text-anchor="end">0.6</text>
<line x1="522.5" y1="91.2" x2="525.5" y2="91.2" stroke-width="1"/>
<text x="520.9" y="94.8" font-size="10.6" text-anchor="end">0.4</text>
<line x1="522.5" y1="103.3" x2="525.5" y2="103.3" stroke-width="1"/>
<text x="520.9" y="106.9" font-size="10.6" text-anchor="end">0.2</text>
<line x1="522.5" y1="115.5" x2="525.5" y2="115.5" stroke-width="1"/>
<text x="520.9" y="119.1" font-size="10.6" text-anchor="end">0.0</text>
<rect x="533.7" y="44.7" width="10.1" height="15.8" fill="#8C96FC" stroke-width="1.2"/>
<rect x="576.2" y="32.5" width="10.1" height="28" fill="#8C96FC" stroke-width="1.2"/>
<rect x="597" y="51.5" width="10.1" height="9" fill="#8C96FC" stroke-width="1.2"/>
<rect x="533.7" y="99.7" width="10.1" height="15.8" fill="#F4B08E" stroke-width="1.2"/>
<rect x="576.2" y="87.2" width="10.1" height="28.3" fill="#F4B08E" stroke-width="1.2"/>
<rect x="597" y="106.5" width="10.1" height="9" fill="#F4B08E" stroke-width="1.2"/>
<line x1="538.6" y1="61.3" x2="538.6" y2="94.5" stroke-width="1.15" stroke-dasharray="2.1 1.8"/>
<line x1="559.7" y1="61.3" x2="559.7" y2="98.7" stroke-width="1.15" stroke-dasharray="2.1 1.8"/>
<line x1="580.9" y1="61.3" x2="580.9" y2="79.7" stroke-width="1.15" stroke-dasharray="2.1 1.8"/>
<line x1="601.9" y1="61.3" x2="601.9" y2="90.5" stroke-width="1.15" stroke-dasharray="2.1 1.8"/>
<line x1="623.1" y1="61.3" x2="623.1" y2="103.7" stroke-width="1.15" stroke-dasharray="2.1 1.8"/>
<text x="539.8" y="127.5" font-size="10.6" text-anchor="middle">M0</text>
<text x="560.3" y="127.5" font-size="10.6" text-anchor="middle">M1</text>
<text x="581" y="127.5" font-size="10.6" text-anchor="middle">M2</text>
<text x="601.7" y="127.5" font-size="10.6" text-anchor="middle">M3</text>
<text x="622.6" y="127.5" font-size="10.6" text-anchor="middle">M4</text>
<text x="0" y="0" font-size="10.5" text-anchor="middle" transform="translate(500,63.7) rotate(-90)">Labeled fraction</text>
</g>
<g id="panel-b">
<text x="0" y="152" font-size="14">b</text>
<rect x="58.4" y="154.8" width="14.5" height="6.8" fill="#F23F68" stroke-width="1.2"/>
<rect x="58.4" y="168.2" width="14.5" height="6.8" fill="#2880FE" stroke-width="1.2"/>
<text x="77" y="162" font-size="10.5">Labeled metabolites</text>
<text x="77" y="174.6" font-size="10.5">Reaction pairs</text>
<path d="M53.3,192.5V300.2H181.5" stroke-width="1.3"/>
<line x1="50" y1="215.3" x2="53.3" y2="215.3" stroke-width="1"/>
<text x="46.6" y="219" font-size="10.5" text-anchor="end">400</text>
<line x1="50" y1="257.8" x2="53.3" y2="257.8" stroke-width="1"/>
<text x="46.6" y="261.5" font-size="10.5" text-anchor="end">200</text>
<line x1="50" y1="300.2" x2="53.3" y2="300.2" stroke-width="1"/>
<text x="46.6" y="303.9" font-size="10.5" text-anchor="end">0</text>
<line x1="83.3" y1="300.2" x2="83.3" y2="305.5" stroke-width="1"/>
<line x1="150.8" y1="300.2" x2="150.8" y2="305.5" stroke-width="1"/>
<rect x="63.8" y="263.8" width="15.2" height="36.4" fill="#F23F68" stroke-width="1.2"/>
<rect x="89.3" y="258.3" width="15.2" height="41.9" fill="#2880FE" stroke-width="1.2"/>
<rect x="131.3" y="249" width="15.2" height="51.2" fill="#F23F68" stroke-width="1.2"/>
<rect x="157.3" y="203.9" width="15" height="96.3" fill="#2880FE" stroke-width="1.2"/>
<text x="71.4" y="255.7" font-size="10.5" text-anchor="middle">174</text>
<text x="97" y="253.4" font-size="10.5" text-anchor="middle">199</text>
<text x="139" y="242.6" font-size="10.5" text-anchor="middle">242</text>
<text x="165" y="199" font-size="10.5" text-anchor="middle">445</text>
<text x="0" y="0" font-size="10.5" text-anchor="middle" transform="translate(21.3,233.3) rotate(-90)">Number</text>
<text x="0" y="0" font-size="10.5" text-anchor="end" transform="translate(86.4,310.5) rotate(-45)">[U-<tspan dy="-3.6" font-size="6" stroke-width="0.1">13</tspan><tspan dy="3.6">C]-Gln</tspan></text>
<text x="0" y="0" font-size="10.5" text-anchor="end" transform="translate(157.5,310.3) rotate(-45)">[U-<tspan dy="-3.6" font-size="6" stroke-width="0.1">13</tspan><tspan dy="3.6">C]-Glc</tspan></text>
</g>
<g id="panel-c">
<text x="211.5" y="152" font-size="14">c</text>
<text x="228.8" y="177" font-size="12">[U-<tspan dy="-3.6" font-size="7.6" stroke-width="0.1">13</tspan><tspan dy="3.6">C]-glutamine</tspan></text>
<text x="333" y="177" font-size="12">Asparagine</text>
<text x="337.5" y="242" font-size="12">Aspartate</text>
<text x="343.2" y="308" font-size="12">Orotate</text>
<text x="289.2" y="242.5" font-size="12">OAA</text>
<text x="271.2" y="273.7" font-size="8.75">TCA</text>
<line x1="265.3" y1="187" x2="265.3" y2="201" stroke-width="1.2" stroke-dasharray="2.5 2.5"/>
<line x1="265.3" y1="202.6" x2="265.3" y2="213.8" stroke-width="1.25"/>
<polygon points="265.3,219 262.3,212 265.3,213.5 268.3,212" fill="#1d1412" stroke="none"/>
<line x1="315.8" y1="238.5" x2="326.6" y2="238.5" stroke-width="1.25"/>
<polygon points="331.8,238.5 324.8,241.5 326.3,238.5 324.8,235.5" fill="#1d1412" stroke="none"/>
<line x1="363.2" y1="220.5" x2="363.2" y2="195.2" stroke-width="1.25"/>
<polygon points="363.2,190 366.2,197 363.2,195.5 360.2,197" fill="#1d1412" stroke="none"/>
<line x1="363.2" y1="257" x2="363.2" y2="282.3" stroke-width="1.25"/>
<polygon points="363.2,287.5 360.2,280.5 363.2,282 366.2,280.5" fill="#1d1412" stroke="none"/>
<path d="M299.19,225.64 A23.3,23.3 0 1 0 296.86,255.19" stroke-width="1.15"/>
<polygon points="300.8,250 297.89,257.48 296.7,254.24 293.43,253.17" fill="#1d1412" stroke="none"/>
<line x1="425" y1="173.25" x2="436.5" y2="167" stroke-width="1.1"/>
<line x1="436.5" y1="167" x2="447.75" y2="173.25" stroke-width="1.1"/>
<line x1="447.75" y1="173.25" x2="459.25" y2="167" stroke-width="1.1"/>
<line x1="417.6" y1="169.2" x2="425" y2="173.25" stroke-width="1.1"/>
<line x1="423.9" y1="173.25" x2="423.9" y2="181" stroke-width="1"/>
<line x1="426.1" y1="173.25" x2="426.1" y2="181" stroke-width="1"/>
<line x1="447.75" y1="173.25" x2="447.75" y2="181.6" stroke-width="1.1"/>
<line x1="460.35" y1="167" x2="460.35" y2="157.8" stroke-width="1"/>
<line x1="458.15" y1="167" x2="458.15" y2="157.8" stroke-width="1"/>
<line x1="459.25" y1="167" x2="466.3" y2="171.2" stroke-width="1.1"/>
<circle cx="425" cy="173.25" r="2.8" fill="#F23F68" stroke="none"/>
<circle cx="436.5" cy="167" r="2.8" fill="#F23F68" stroke="none"/>
<circle cx="447.75" cy="173.25" r="2.8" fill="#F23F68" stroke="none"/>
<circle cx="459.25" cy="167" r="2.8" fill="#F23F68" stroke="none"/>
<text x="401.2" y="169.5" font-size="7.8">H<tspan dy="1.6" font-size="5.2">2</tspan><tspan dy="-1.6">N</tspan></text>
<text x="425" y="188.3" font-size="7.8" text-anchor="middle">O</text>
<text x="445" y="188.8" font-size="7.8">NH<tspan dy="1.6" font-size="5.2">2</tspan></text>
<text x="459.25" y="156.3" font-size="7.8" text-anchor="middle">O</text>
<text x="466.7" y="176.3" font-size="7.8">OH</text>
<line x1="424.25" y1="234.25" x2="435.75" y2="228" stroke-width="1.1"/>
<line x1="435.75" y1="228" x2="447.25" y2="234.25" stroke-width="1.1"/>
<line x1="447.25" y1="234.25" x2="459.25" y2="228" stroke-width="1.1"/>
<line x1="416.2" y1="229.8" x2="424.25" y2="234.25" stroke-width="1.1"/>
<line x1="423.15" y1="234.25" x2="423.15" y2="242.3" stroke-width="1"/>
<line x1="425.35" y1="234.25" x2="425.35" y2="242.3" stroke-width="1"/>
<line x1="447.25" y1="234.25" x2="447.25" y2="242.6" stroke-width="1.1"/>
<line x1="460.35" y1="228" x2="460.35" y2="218.3" stroke-width="1"/>
<line x1="458.15" y1="228" x2="458.15" y2="218.3" stroke-width="1"/>
<line x1="459.25" y1="228" x2="466.3" y2="232" stroke-width="1.1"/>
<circle cx="424.25" cy="234.25" r="2.8" fill="#F23F68" stroke="none"/>
<circle cx="435.75" cy="228" r="2.8" fill="#F23F68" stroke="none"/>
<circle cx="447.25" cy="234.25" r="2.8" fill="#F23F68" stroke="none"/>
<circle cx="459.25" cy="228" r="2.8" fill="#F23F68" stroke="none"/>
<text x="403" y="230" font-size="7.8">HO</text>
<text x="424.25" y="249.5" font-size="7.8" text-anchor="middle">O</text>
<text x="444.6" y="249.6" font-size="7.8">NH<tspan dy="1.6" font-size="5.2">2</tspan></text>
<text x="459.25" y="216.6" font-size="7.8" text-anchor="middle">O</text>
<text x="466.7" y="236.3" font-size="7.8">OH</text>
<line x1="442.35" y1="288.2" x2="442.35" y2="281" stroke-width="1"/>
<line x1="440.15" y1="288.2" x2="440.15" y2="281" stroke-width="1"/>
<line x1="441.25" y1="288.2" x2="434.6" y2="292" stroke-width="1.1"/>
<line x1="441.25" y1="288.2" x2="447.9" y2="292" stroke-width="1.1"/>
<line x1="431.3" y1="297.2" x2="431.25" y2="305.75" stroke-width="1.1"/>
<line x1="451" y1="297.2" x2="450.75" y2="305.75" stroke-width="1.1"/>
<line x1="431.25" y1="305.75" x2="440.75" y2="311.25" stroke-width="1.1"/>
<line x1="440.75" y1="311.25" x2="450.75" y2="305.75" stroke-width="1.1"/>
<line x1="441.6" y1="308.6" x2="449.6" y2="304" stroke-width="1"/>
<line x1="450.75" y1="305.75" x2="460.75" y2="311.25" stroke-width="1.1"/>
<line x1="430.78" y1="304.87" x2="423.83" y2="308.62" stroke-width="1"/>
<line x1="431.72" y1="306.63" x2="424.77" y2="310.38" stroke-width="1"/>
<line x1="460.75" y1="311.25" x2="467" y2="307.4" stroke-width="1.1"/>
<line x1="459.65" y1="311.25" x2="459.65" y2="318.6" stroke-width="1"/>
<line x1="461.85" y1="311.25" x2="461.85" y2="318.6" stroke-width="1"/>
<circle cx="431.25" cy="305.75" r="2.8" fill="#F23F68" stroke="none"/>
<circle cx="440.75" cy="311.25" r="2.8" fill="#F23F68" stroke="none"/>
<circle cx="450.75" cy="305.75" r="2.8" fill="#F23F68" stroke="none"/>
<circle cx="460.75" cy="311.25" r="2.8" fill="#F23F68" stroke="none"/>
<text x="441.25" y="279.8" font-size="7.8" text-anchor="middle">O</text>
<text x="421.7" y="296.3" font-size="7.8">HN</text>
<text x="448" y="296.3" font-size="7.8">NH</text>
<text x="420.7" y="313.4" font-size="7.8" text-anchor="middle">O</text>
<text x="467.5" y="308" font-size="7.8">OH</text>
<text x="460.75" y="325" font-size="7.8" text-anchor="middle">O</text>
<path d="M526.3,148V185H635" stroke-width="1.1"/>
<line x1="523.3" y1="148.5" x2="526.3" y2="148.5" stroke-width="1"/>
<text x="521.5" y="152.1" font-size="10.6" text-anchor="end">0.6</text>
<line x1="523.3" y1="160.67" x2="526.3" y2="160.67" stroke-width="1"/>
<text x="521.5" y="164.27" font-size="10.6" text-anchor="end">0.4</text>
<line x1="523.3" y1="172.83" x2="526.3" y2="172.83" stroke-width="1"/>
<text x="521.5" y="176.43" font-size="10.6" text-anchor="end">0.2</text>
<line x1="523.3" y1="185" x2="526.3" y2="185" stroke-width="1"/>
<text x="521.5" y="188.6" font-size="10.6" text-anchor="end">0.0</text>
<rect x="533.85" y="169.5" width="10.1" height="15.5" fill="#F23F68" stroke-width="1.2"/>
<rect x="555.05" y="182" width="10.1" height="3" fill="#F23F68" stroke-width="1.2"/>
<rect x="576.35" y="176.5" width="10.1" height="8.5" fill="#F23F68" stroke-width="1.2"/>
<rect x="597.35" y="182.6" width="10.1" height="2.4" fill="#F23F68" stroke-width="1.2"/>
<rect x="618.55" y="157" width="10.1" height="28" fill="#F23F68" stroke-width="1.2"/>
<circle cx="535.3" cy="168.03" r="1.8" fill="#111" stroke="none"/>
<circle cx="537.7" cy="168.3" r="1.8" fill="#111" stroke="none"/>
<circle cx="540.1" cy="170.25" r="1.8" fill="#111" stroke="none"/>
<circle cx="542.5" cy="168.35" r="1.8" fill="#111" stroke="none"/>
<circle cx="556.5" cy="182.39" r="1.8" fill="#111" stroke="none"/>
<circle cx="558.9" cy="181.02" r="1.8" fill="#111" stroke="none"/>
<circle cx="561.3" cy="181" r="1.8" fill="#111" stroke="none"/>
<circle cx="563.7" cy="181.96" r="1.8" fill="#111" stroke="none"/>
<circle cx="577.8" cy="177.38" r="1.8" fill="#111" stroke="none"/>
<circle cx="580.2" cy="177.59" r="1.8" fill="#111" stroke="none"/>
<circle cx="582.6" cy="176.8" r="1.8" fill="#111" stroke="none"/>
<circle cx="585" cy="175.3" r="1.8" fill="#111" stroke="none"/>
<circle cx="598.8" cy="181.71" r="1.8" fill="#111" stroke="none"/>
<circle cx="601.2" cy="183.61" r="1.8" fill="#111" stroke="none"/>
<circle cx="603.6" cy="183.63" r="1.8" fill="#111" stroke="none"/>
<circle cx="606" cy="182.59" r="1.8" fill="#111" stroke="none"/>
<circle cx="620" cy="157.06" r="1.8" fill="#111" stroke="none"/>
<circle cx="622.4" cy="157.56" r="1.8" fill="#111" stroke="none"/>
<circle cx="624.8" cy="157.19" r="1.8" fill="#111" stroke="none"/>
<circle cx="627.2" cy="157.86" r="1.8" fill="#111" stroke="none"/>
<line x1="538.9" y1="185" x2="538.9" y2="187" stroke-width="1"/>
<text x="539.5" y="198.3" font-size="10.6" text-anchor="middle">M0</text>
<line x1="560.1" y1="185" x2="560.1" y2="187" stroke-width="1"/>
<text x="560" y="198.3" font-size="10.6" text-anchor="middle">M1</text>
<line x1="581.4" y1="185" x2="581.4" y2="187" stroke-width="1"/>
<text x="580.7" y="198.3" font-size="10.6" text-anchor="middle">M2</text>
<line x1="602.4" y1="185" x2="602.4" y2="187" stroke-width="1"/>
<text x="601.3" y="198.3" font-size="10.6" text-anchor="middle">M3</text>
<line x1="623.6" y1="185" x2="623.6" y2="187" stroke-width="1"/>
<text x="621.9" y="198.3" font-size="10.6" text-anchor="middle">M4</text>
<path d="M526.3,211.9V249H635" stroke-width="1.1"/>
<line x1="523.3" y1="212.4" x2="526.3" y2="212.4" stroke-width="1"/>
<text x="521.5" y="216" font-size="10.6" text-anchor="end">0.6</text>
<line x1="523.3" y1="224.6" x2="526.3" y2="224.6" stroke-width="1"/>
<text x="521.5" y="228.2" font-size="10.6" text-anchor="end">0.4</text>
<line x1="523.3" y1="236.8" x2="526.3" y2="236.8" stroke-width="1"/>
<text x="521.5" y="240.4" font-size="10.6" text-anchor="end">0.2</text>
<line x1="523.3" y1="249" x2="526.3" y2="249" stroke-width="1"/>
<text x="521.5" y="252.6" font-size="10.6" text-anchor="end">0.0</text>
<rect x="533.85" y="239" width="10.1" height="10" fill="#F23F68" stroke-width="1.2"/>
<rect x="555.05" y="244" width="10.1" height="5" fill="#F23F68" stroke-width="1.2"/>
<rect x="576.35" y="238.2" width="10.1" height="10.8" fill="#F23F68" stroke-width="1.2"/>
<rect x="597.35" y="246.2" width="10.1" height="2.8" fill="#F23F68" stroke-width="1.2"/>
<rect x="618.55" y="219.5" width="10.1" height="29.5" fill="#F23F68" stroke-width="1.2"/>
<circle cx="535.3" cy="238.69" r="1.8" fill="#111" stroke="none"/>
<circle cx="537.7" cy="238.46" r="1.8" fill="#111" stroke="none"/>
<circle cx="540.1" cy="238.66" r="1.8" fill="#111" stroke="none"/>
<circle cx="542.5" cy="238.85" r="1.8" fill="#111" stroke="none"/>
<circle cx="556.5" cy="243.14" r="1.8" fill="#111" stroke="none"/>
<circle cx="558.9" cy="244.09" r="1.8" fill="#111" stroke="none"/>
<circle cx="561.3" cy="243.6" r="1.8" fill="#111" stroke="none"/>
<circle cx="563.7" cy="243.63" r="1.8" fill="#111" stroke="none"/>
<circle cx="577.8" cy="238.04" r="1.8" fill="#111" stroke="none"/>
<circle cx="580.2" cy="237.99" r="1.8" fill="#111" stroke="none"/>
<circle cx="582.6" cy="237.51" r="1.8" fill="#111" stroke="none"/>
<circle cx="585" cy="238.84" r="1.8" fill="#111" stroke="none"/>
<circle cx="598.8" cy="245.12" r="1.8" fill="#111" stroke="none"/>
<circle cx="601.2" cy="246.33" r="1.8" fill="#111" stroke="none"/>
<circle cx="603.6" cy="245.42" r="1.8" fill="#111" stroke="none"/>
<circle cx="606" cy="246.15" r="1.8" fill="#111" stroke="none"/>
<circle cx="620" cy="218.81" r="1.8" fill="#111" stroke="none"/>
<circle cx="622.4" cy="219.34" r="1.8" fill="#111" stroke="none"/>
<circle cx="624.8" cy="218.52" r="1.8" fill="#111" stroke="none"/>
<circle cx="627.2" cy="218.45" r="1.8" fill="#111" stroke="none"/>
<line x1="538.9" y1="249" x2="538.9" y2="251" stroke-width="1"/>
<text x="539.5" y="262.7" font-size="10.6" text-anchor="middle">M0</text>
<line x1="560.1" y1="249" x2="560.1" y2="251" stroke-width="1"/>
<text x="560" y="262.7" font-size="10.6" text-anchor="middle">M1</text>
<line x1="581.4" y1="249" x2="581.4" y2="251" stroke-width="1"/>
<text x="580.7" y="262.7" font-size="10.6" text-anchor="middle">M2</text>
<line x1="602.4" y1="249" x2="602.4" y2="251" stroke-width="1"/>
<text x="601.3" y="262.7" font-size="10.6" text-anchor="middle">M3</text>
<line x1="623.6" y1="249" x2="623.6" y2="251" stroke-width="1"/>
<text x="621.9" y="262.7" font-size="10.6" text-anchor="middle">M4</text>
<path d="M526.3,274.5V311.3H655.5" stroke-width="1.1"/>
<line x1="523.3" y1="275" x2="526.3" y2="275" stroke-width="1"/>
<text x="521.5" y="278.6" font-size="10.6" text-anchor="end">0.6</text>
<line x1="523.3" y1="287.1" x2="526.3" y2="287.1" stroke-width="1"/>
<text x="521.5" y="290.7" font-size="10.6" text-anchor="end">0.4</text>
<line x1="523.3" y1="299.2" x2="526.3" y2="299.2" stroke-width="1"/>
<text x="521.5" y="302.8" font-size="10.6" text-anchor="end">0.2</text>
<line x1="523.3" y1="311.3" x2="526.3" y2="311.3" stroke-width="1"/>
<text x="521.5" y="314.9" font-size="10.6" text-anchor="end">0.0</text>
<rect x="533.85" y="303.3" width="10.1" height="8" fill="#F23F68" stroke-width="1.2"/>
<rect x="555.05" y="306.3" width="10.1" height="5" fill="#F23F68" stroke-width="1.2"/>
<rect x="576.35" y="298.3" width="10.1" height="13" fill="#F23F68" stroke-width="1.2"/>
<rect x="597.35" y="309.8" width="10.1" height="1.5" fill="#F23F68" stroke-width="1.2"/>
<rect x="618.55" y="279.5" width="10.1" height="31.8" fill="#F23F68" stroke-width="1.2"/>
<circle cx="535.3" cy="302.94" r="1.8" fill="#111" stroke="none"/>
<circle cx="538.9" cy="302.75" r="1.8" fill="#111" stroke="none"/>
<circle cx="542.5" cy="303.39" r="1.8" fill="#111" stroke="none"/>
<circle cx="556.5" cy="305.06" r="1.8" fill="#111" stroke="none"/>
<circle cx="560.1" cy="305.67" r="1.8" fill="#111" stroke="none"/>
<circle cx="563.7" cy="305.78" r="1.8" fill="#111" stroke="none"/>
<circle cx="577.8" cy="296.96" r="1.8" fill="#111" stroke="none"/>
<circle cx="581.4" cy="298.12" r="1.8" fill="#111" stroke="none"/>
<circle cx="585" cy="297.55" r="1.8" fill="#111" stroke="none"/>
<circle cx="598.8" cy="310.75" r="1.8" fill="#111" stroke="none"/>
<circle cx="602.4" cy="309.39" r="1.8" fill="#111" stroke="none"/>
<circle cx="606" cy="308.26" r="1.8" fill="#111" stroke="none"/>
<circle cx="620" cy="280.6" r="1.8" fill="#111" stroke="none"/>
<circle cx="623.6" cy="278.66" r="1.8" fill="#111" stroke="none"/>
<circle cx="627.2" cy="279.02" r="1.8" fill="#111" stroke="none"/>
<line x1="538.9" y1="311.3" x2="538.9" y2="313.3" stroke-width="1"/>
<text x="539.5" y="323" font-size="10.6" text-anchor="middle">M0</text>
<line x1="560.1" y1="311.3" x2="560.1" y2="313.3" stroke-width="1"/>
<text x="560" y="323" font-size="10.6" text-anchor="middle">M1</text>
<line x1="581.4" y1="311.3" x2="581.4" y2="313.3" stroke-width="1"/>
<text x="580.7" y="323" font-size="10.6" text-anchor="middle">M2</text>
<line x1="602.4" y1="311.3" x2="602.4" y2="313.3" stroke-width="1"/>
<text x="601.3" y="323" font-size="10.6" text-anchor="middle">M3</text>
<line x1="623.6" y1="311.3" x2="623.6" y2="313.3" stroke-width="1"/>
<text x="621.9" y="323" font-size="10.6" text-anchor="middle">M4</text>
<line x1="644.8" y1="311.3" x2="644.8" y2="313.3" stroke-width="1"/>
<text x="642.5" y="323" font-size="10.6" text-anchor="middle">M5</text>
<circle cx="623.2" cy="270" r="1.55" fill="#111" stroke="none"/>
<circle cx="581" cy="292" r="1.55" fill="#111" stroke="none"/>
<circle cx="542.5" cy="301" r="1.55" fill="#111" stroke="none"/>
<circle cx="537.5" cy="309.5" r="1.55" fill="#111" stroke="none"/>
<circle cx="563" cy="304" r="1.55" fill="#111" stroke="none"/>
<circle cx="558.7" cy="309" r="1.55" fill="#111" stroke="none"/>
<circle cx="599.5" cy="307.3" r="1.55" fill="#111" stroke="none"/>
<circle cx="606" cy="310" r="1.55" fill="#111" stroke="none"/>
<circle cx="644.3" cy="310.2" r="1.55" fill="#111" stroke="none"/>
<circle cx="586" cy="296.5" r="1.55" fill="#111" stroke="none"/>
<line x1="539.3" y1="201.5" x2="539.3" y2="224" stroke-width="1.15" stroke-dasharray="2.1 1.8"/>
<line x1="560.3" y1="201.5" x2="560.3" y2="232.7" stroke-width="1.15" stroke-dasharray="2.1 1.8"/>
<line x1="581.3" y1="201.5" x2="581.3" y2="232" stroke-width="1.15" stroke-dasharray="2.1 1.8"/>
<line x1="602.1" y1="201.5" x2="602.1" y2="233.2" stroke-width="1.15" stroke-dasharray="2.1 1.8"/>
<line x1="623.3" y1="201.5" x2="623.3" y2="208.3" stroke-width="1.15" stroke-dasharray="2.1 1.8"/>
<line x1="539.3" y1="266" x2="539.3" y2="283" stroke-width="1.15" stroke-dasharray="2.1 1.8"/>
<line x1="560.3" y1="266" x2="560.3" y2="289" stroke-width="1.15" stroke-dasharray="2.1 1.8"/>
<line x1="581.3" y1="266" x2="581.3" y2="290.5" stroke-width="1.15" stroke-dasharray="2.1 1.8"/>
<line x1="602.1" y1="266" x2="602.1" y2="290.5" stroke-width="1.15" stroke-dasharray="2.1 1.8"/>
<text x="0" y="0" font-size="10.5" text-anchor="middle" transform="translate(498.7,233.2) rotate(-90)">Labeled fraction</text>
<text x="551.2" y="339.3" font-size="10.5">Isotopologues</text>
<path d="M650,171.2 Q671.5,200 650,228.8" stroke-width="1.3"/>
<path d="M649.3,236.2 Q672.3,264.3 649.3,292.5" stroke-width="1.3"/>
<text x="666" y="191.3" font-size="12.5"><tspan font-style="italic">S</tspan><tspan dy="3.2" font-size="7">ISO</tspan></text>
<text x="665.5" y="207.5" font-size="10.5">0.83</text>
<text x="666" y="253" font-size="12.5"><tspan font-style="italic">S</tspan><tspan dy="3.2" font-size="7">ISO</tspan></text>
<text x="665.5" y="269.3" font-size="10.5">0.87</text>
</g>
<g id="panel-d">
<text x="0" y="362.5" font-size="14">d</text>
<text x="75" y="390.5" font-size="12">Glutamate</text>
<text x="3" y="423" font-size="12">[U-<tspan dy="-3.6" font-size="7.6" stroke-width="0.1">13</tspan><tspan dy="3.6">C]-glucose</tspan></text>
<text x="62.5" y="453" font-size="12">α-ketoglutarate</text>
<text x="18.2" y="475" font-size="12">Citrate</text>
<text x="68" y="509.5" font-size="12"><tspan font-style="italic">cis</tspan>−aconitate</text>
<line x1="106" y1="426.1" x2="106" y2="406.4" stroke-width="1.25"/>
<polygon points="106,401.2 109,408.2 106,406.7 103,408.2" fill="#1d1412" stroke="none"/>
<polygon points="106,431.3 103,424.3 106,425.8 109,424.3" fill="#1d1412" stroke="none"/>
<line x1="39.4" y1="428.8" x2="39.4" y2="442" stroke-width="1.2" stroke-dasharray="2.5 2.4"/>
<line x1="39.4" y1="444.4" x2="39.4" y2="454.8" stroke-width="1.25"/>
<polygon points="39.4,460 36.4,453 39.4,454.5 42.4,453" fill="#1d1412" stroke="none"/>
<line x1="106" y1="495.8" x2="106" y2="471" stroke-width="1.25"/>
<polygon points="106,465.8 109,472.8 106,471.3 103,472.8" fill="#1d1412" stroke="none"/>
<path d="M39.1,481.5 Q42.5,498.8 58.2,504.3" stroke-width="1.15"/>
<polygon points="63.2,505.8 55.63,506.62 57.94,504.19 57.38,500.88" fill="#1d1412" stroke="none"/>
<line x1="169.7" y1="388.1" x2="180.3" y2="394" stroke-width="1.1"/>
<line x1="180.3" y1="394" x2="191.5" y2="388.1" stroke-width="1.1"/>
<line x1="191.5" y1="388.1" x2="202.7" y2="394" stroke-width="1.1"/>
<line x1="202.7" y1="394" x2="213.3" y2="388.1" stroke-width="1.1"/>
<line x1="162.4" y1="392.2" x2="169.7" y2="388.1" stroke-width="1.1"/>
<line x1="213.3" y1="388.1" x2="220.6" y2="392.2" stroke-width="1.1"/>
<line x1="170.8" y1="388.1" x2="170.8" y2="379.6" stroke-width="1"/>
<line x1="168.6" y1="388.1" x2="168.6" y2="379.6" stroke-width="1"/>
<line x1="214.4" y1="388.1" x2="214.4" y2="379.6" stroke-width="1"/>
<line x1="212.2" y1="388.1" x2="212.2" y2="379.6" stroke-width="1"/>
<line x1="180.3" y1="394" x2="180.3" y2="402" stroke-width="1.1"/>
<circle cx="169.7" cy="388.1" r="2.9" fill="#F23F68" stroke="none"/>
<circle cx="180.3" cy="394" r="2.9" fill="#F23F68" stroke="none"/>
<circle cx="191.5" cy="388.1" r="2.9" fill="#F23F68" stroke="none"/>
<circle cx="202.7" cy="394" r="2.9" fill="#F23F68" stroke="none"/>
<circle cx="213.3" cy="388.1" r="2.9" fill="#F23F68" stroke="none"/>
<text x="150.4" y="396.1" font-size="7.8">HO</text>
<text x="221.6" y="396.1" font-size="7.8">OH</text>
<text x="169.7" y="378" font-size="7.8" text-anchor="middle">O</text>
<text x="213.3" y="378" font-size="7.8" text-anchor="middle">O</text>
<text x="178" y="408.5" font-size="7.8">NH<tspan dy="1.6" font-size="5.2">2</tspan></text>
<line x1="169.7" y1="445.2" x2="180.4" y2="451" stroke-width="1.1"/>
<line x1="180.4" y1="451" x2="191.7" y2="445.2" stroke-width="1.1"/>
<line x1="191.7" y1="445.2" x2="203" y2="451" stroke-width="1.1"/>
<line x1="203" y1="451" x2="213.4" y2="445.2" stroke-width="1.1"/>
<line x1="162.4" y1="449.3" x2="169.7" y2="445.2" stroke-width="1.1"/>
<line x1="213.4" y1="445.2" x2="220.7" y2="449.3" stroke-width="1.1"/>
<line x1="170.8" y1="445.2" x2="170.8" y2="436.5" stroke-width="1"/>
<line x1="168.6" y1="445.2" x2="168.6" y2="436.5" stroke-width="1"/>
<line x1="214.5" y1="445.2" x2="214.5" y2="436.5" stroke-width="1"/>
<line x1="212.3" y1="445.2" x2="212.3" y2="436.5" stroke-width="1"/>
<line x1="179.3" y1="451" x2="179.3" y2="458.7" stroke-width="1"/>
<line x1="181.5" y1="451" x2="181.5" y2="458.7" stroke-width="1"/>
<circle cx="169.7" cy="445.2" r="2.9" fill="#F23F68" stroke="none"/>
<circle cx="180.4" cy="451" r="2.9" fill="#F23F68" stroke="none"/>
<circle cx="191.7" cy="445.2" r="2.9" fill="#F23F68" stroke="none"/>
<circle cx="203" cy="451" r="2.9" fill="#F23F68" stroke="none"/>
<circle cx="213.4" cy="445.2" r="2.9" fill="#F23F68" stroke="none"/>
<text x="150.4" y="452.9" font-size="7.8">HO</text>
<text x="221.6" y="452.9" font-size="7.8">OH</text>
<text x="169.7" y="434.8" font-size="7.8" text-anchor="middle">O</text>
<text x="213.4" y="434.8" font-size="7.8" text-anchor="middle">O</text>
<text x="180.4" y="465.8" font-size="7.8" text-anchor="middle">O</text>
<line x1="168.9" y1="513.7" x2="180.1" y2="520.1" stroke-width="1.1"/>
<line x1="180.1" y1="520.1" x2="191.4" y2="513.7" stroke-width="1.1"/>
<line x1="191.4" y1="513.7" x2="202.6" y2="520.1" stroke-width="1.1"/>
<line x1="202.6" y1="520.1" x2="213.4" y2="513.7" stroke-width="1.1"/>
<line x1="181.2" y1="517.2" x2="190.2" y2="512" stroke-width="1"/>
<line x1="161.6" y1="517.8" x2="168.9" y2="513.7" stroke-width="1.1"/>
<line x1="213.4" y1="513.7" x2="220.7" y2="517.8" stroke-width="1.1"/>
<line x1="170" y1="513.7" x2="170" y2="505.2" stroke-width="1"/>
<line x1="167.8" y1="513.7" x2="167.8" y2="505.2" stroke-width="1"/>
<line x1="214.5" y1="513.7" x2="214.5" y2="505.2" stroke-width="1"/>
<line x1="212.3" y1="513.7" x2="212.3" y2="505.2" stroke-width="1"/>
<line x1="191.4" y1="513.7" x2="191.4" y2="501.5" stroke-width="1.1"/>
<line x1="191.91" y1="500.64" x2="184.71" y2="496.34" stroke-width="1"/>
<line x1="190.89" y1="502.36" x2="183.69" y2="498.06" stroke-width="1"/>
<line x1="191.4" y1="501.5" x2="198.6" y2="497.2" stroke-width="1.1"/>
<circle cx="168.9" cy="513.7" r="2.9" fill="#F23F68" stroke="none"/>
<circle cx="180.1" cy="520.1" r="2.9" fill="#F23F68" stroke="none"/>
<circle cx="191.4" cy="513.7" r="2.9" fill="#F23F68" stroke="none"/>
<circle cx="202.6" cy="520.1" r="2.9" fill="#F23F68" stroke="none"/>
<circle cx="213.4" cy="513.7" r="2.9" fill="#F23F68" stroke="none"/>
<circle cx="191.4" cy="501.5" r="2.9" fill="#F23F68" stroke="none"/>
<text x="150" y="522.3" font-size="7.8">HO</text>
<text x="221.9" y="522.3" font-size="7.8">OH</text>
<text x="168.9" y="503.4" font-size="7.8" text-anchor="middle">O</text>
<text x="213.4" y="503.4" font-size="7.8" text-anchor="middle">O</text>
<text x="180.1" y="497.1" font-size="7.8" text-anchor="middle">O</text>
<text x="199.7" y="496.8" font-size="7.8">OH</text>
<path d="M274.5,366.3V403.3H405.8" stroke-width="1.1"/>
<line x1="271.5" y1="366.8" x2="274.5" y2="366.8" stroke-width="1"/>
<text x="269.7" y="370.4" font-size="10.6" text-anchor="end">0.6</text>
<line x1="271.5" y1="378.97" x2="274.5" y2="378.97" stroke-width="1"/>
<text x="269.7" y="382.57" font-size="10.6" text-anchor="end">0.4</text>
<line x1="271.5" y1="391.13" x2="274.5" y2="391.13" stroke-width="1"/>
<text x="269.7" y="394.73" font-size="10.6" text-anchor="end">0.2</text>
<line x1="271.5" y1="403.3" x2="274.5" y2="403.3" stroke-width="1"/>
<text x="269.7" y="406.9" font-size="10.6" text-anchor="end">0.0</text>
<rect x="283.05" y="397.5" width="10.1" height="5.8" fill="#F23F68" stroke-width="1.2"/>
<rect x="304.05" y="402.4" width="10.1" height="0.9" fill="#F23F68" stroke-width="1.2"/>
<rect x="325.15" y="394.3" width="10.1" height="9" fill="#F23F68" stroke-width="1.2"/>
<rect x="346.15" y="395.5" width="10.1" height="7.8" fill="#F23F68" stroke-width="1.2"/>
<rect x="367.35" y="387.5" width="10.1" height="15.8" fill="#F23F68" stroke-width="1.2"/>
<rect x="388.15" y="382" width="10.1" height="21.3" fill="#F23F68" stroke-width="1.2"/>
<circle cx="284.5" cy="396.71" r="1.8" fill="#111" stroke="none"/>
<circle cx="286.9" cy="397.24" r="1.8" fill="#111" stroke="none"/>
<circle cx="289.3" cy="396.88" r="1.8" fill="#111" stroke="none"/>
<circle cx="291.7" cy="396.96" r="1.8" fill="#111" stroke="none"/>
<circle cx="305.5" cy="402.5" r="1.8" fill="#111" stroke="none"/>
<circle cx="307.9" cy="402.37" r="1.8" fill="#111" stroke="none"/>
<circle cx="310.3" cy="402.37" r="1.8" fill="#111" stroke="none"/>
<circle cx="312.7" cy="402.73" r="1.8" fill="#111" stroke="none"/>
<circle cx="326.6" cy="393.77" r="1.8" fill="#111" stroke="none"/>
<circle cx="329" cy="394.28" r="1.8" fill="#111" stroke="none"/>
<circle cx="331.4" cy="394.54" r="1.8" fill="#111" stroke="none"/>
<circle cx="333.8" cy="394.38" r="1.8" fill="#111" stroke="none"/>
<circle cx="347.6" cy="395.89" r="1.8" fill="#111" stroke="none"/>
<circle cx="350" cy="395.21" r="1.8" fill="#111" stroke="none"/>
<circle cx="352.4" cy="395.35" r="1.8" fill="#111" stroke="none"/>
<circle cx="354.8" cy="395.69" r="1.8" fill="#111" stroke="none"/>
<circle cx="368.8" cy="387.23" r="1.8" fill="#111" stroke="none"/>
<circle cx="371.2" cy="387.85" r="1.8" fill="#111" stroke="none"/>
<circle cx="373.6" cy="387.06" r="1.8" fill="#111" stroke="none"/>
<circle cx="376" cy="387.51" r="1.8" fill="#111" stroke="none"/>
<circle cx="389.6" cy="381.64" r="1.8" fill="#111" stroke="none"/>
<circle cx="392" cy="381.55" r="1.8" fill="#111" stroke="none"/>
<circle cx="394.4" cy="381.92" r="1.8" fill="#111" stroke="none"/>
<circle cx="396.8" cy="382.34" r="1.8" fill="#111" stroke="none"/>
<line x1="288.1" y1="403.3" x2="288.1" y2="405.3" stroke-width="1"/>
<text x="288.4" y="416.8" font-size="10.6" text-anchor="middle">M0</text>
<line x1="309.1" y1="403.3" x2="309.1" y2="405.3" stroke-width="1"/>
<text x="309.4" y="416.8" font-size="10.6" text-anchor="middle">M1</text>
<line x1="330.2" y1="403.3" x2="330.2" y2="405.3" stroke-width="1"/>
<text x="330.5" y="416.8" font-size="10.6" text-anchor="middle">M2</text>
<line x1="351.2" y1="403.3" x2="351.2" y2="405.3" stroke-width="1"/>
<text x="351.5" y="416.8" font-size="10.6" text-anchor="middle">M3</text>
<line x1="372.4" y1="403.3" x2="372.4" y2="405.3" stroke-width="1"/>
<text x="372.7" y="416.8" font-size="10.6" text-anchor="middle">M4</text>
<line x1="393.2" y1="403.3" x2="393.2" y2="405.3" stroke-width="1"/>
<text x="393.5" y="416.8" font-size="10.6" text-anchor="middle">M5</text>
<path d="M274.5,425.3V462.5H405.8" stroke-width="1.1"/>
<line x1="271.5" y1="425.8" x2="274.5" y2="425.8" stroke-width="1"/>
<text x="269.7" y="429.4" font-size="10.6" text-anchor="end">0.6</text>
<line x1="271.5" y1="438.03" x2="274.5" y2="438.03" stroke-width="1"/>
<text x="269.7" y="441.63" font-size="10.6" text-anchor="end">0.4</text>
<line x1="271.5" y1="450.27" x2="274.5" y2="450.27" stroke-width="1"/>
<text x="269.7" y="453.87" font-size="10.6" text-anchor="end">0.2</text>
<line x1="271.5" y1="462.5" x2="274.5" y2="462.5" stroke-width="1"/>
<text x="269.7" y="466.1" font-size="10.6" text-anchor="end">0.0</text>
<rect x="283.05" y="456.8" width="10.1" height="5.7" fill="#F23F68" stroke-width="1.2"/>
<rect x="304.05" y="461.6" width="10.1" height="0.9" fill="#F23F68" stroke-width="1.2"/>
<rect x="325.15" y="453.3" width="10.1" height="9.2" fill="#F23F68" stroke-width="1.2"/>
<rect x="346.15" y="453.8" width="10.1" height="8.7" fill="#F23F68" stroke-width="1.2"/>
<rect x="367.35" y="446.3" width="10.1" height="16.2" fill="#F23F68" stroke-width="1.2"/>
<rect x="388.15" y="441.3" width="10.1" height="21.2" fill="#F23F68" stroke-width="1.2"/>
<circle cx="284.5" cy="456.07" r="1.8" fill="#111" stroke="none"/>
<circle cx="286.9" cy="456.13" r="1.8" fill="#111" stroke="none"/>
<circle cx="289.3" cy="456.63" r="1.8" fill="#111" stroke="none"/>
<circle cx="291.7" cy="456.16" r="1.8" fill="#111" stroke="none"/>
<circle cx="305.5" cy="461.14" r="1.8" fill="#111" stroke="none"/>
<circle cx="307.9" cy="460.95" r="1.8" fill="#111" stroke="none"/>
<circle cx="310.3" cy="461.85" r="1.8" fill="#111" stroke="none"/>
<circle cx="312.7" cy="460.88" r="1.8" fill="#111" stroke="none"/>
<circle cx="326.6" cy="453.58" r="1.8" fill="#111" stroke="none"/>
<circle cx="329" cy="453.38" r="1.8" fill="#111" stroke="none"/>
<circle cx="331.4" cy="452.81" r="1.8" fill="#111" stroke="none"/>
<circle cx="333.8" cy="453.63" r="1.8" fill="#111" stroke="none"/>
<circle cx="347.6" cy="453.64" r="1.8" fill="#111" stroke="none"/>
<circle cx="350" cy="453.05" r="1.8" fill="#111" stroke="none"/>
<circle cx="352.4" cy="453.58" r="1.8" fill="#111" stroke="none"/>
<circle cx="354.8" cy="453.14" r="1.8" fill="#111" stroke="none"/>
<circle cx="368.8" cy="445.8" r="1.8" fill="#111" stroke="none"/>
<circle cx="371.2" cy="446.55" r="1.8" fill="#111" stroke="none"/>
<circle cx="373.6" cy="446.22" r="1.8" fill="#111" stroke="none"/>
<circle cx="376" cy="445.78" r="1.8" fill="#111" stroke="none"/>
<circle cx="389.6" cy="441.02" r="1.8" fill="#111" stroke="none"/>
<circle cx="392" cy="440.95" r="1.8" fill="#111" stroke="none"/>
<circle cx="394.4" cy="441.24" r="1.8" fill="#111" stroke="none"/>
<circle cx="396.8" cy="441.11" r="1.8" fill="#111" stroke="none"/>
<line x1="288.1" y1="462.5" x2="288.1" y2="464.5" stroke-width="1"/>
<text x="288.4" y="475" font-size="10.6" text-anchor="middle">M0</text>
<line x1="309.1" y1="462.5" x2="309.1" y2="464.5" stroke-width="1"/>
<text x="309.4" y="475" font-size="10.6" text-anchor="middle">M1</text>
<line x1="330.2" y1="462.5" x2="330.2" y2="464.5" stroke-width="1"/>
<text x="330.5" y="475" font-size="10.6" text-anchor="middle">M2</text>
<line x1="351.2" y1="462.5" x2="351.2" y2="464.5" stroke-width="1"/>
<text x="351.5" y="475" font-size="10.6" text-anchor="middle">M3</text>
<line x1="372.4" y1="462.5" x2="372.4" y2="464.5" stroke-width="1"/>
<text x="372.7" y="475" font-size="10.6" text-anchor="middle">M4</text>
<line x1="393.2" y1="462.5" x2="393.2" y2="464.5" stroke-width="1"/>
<text x="393.5" y="475" font-size="10.6" text-anchor="middle">M5</text>
<path d="M274.5,484V520.8H425" stroke-width="1.1"/>
<line x1="271.5" y1="484.5" x2="274.5" y2="484.5" stroke-width="1"/>
<text x="269.7" y="488.1" font-size="10.6" text-anchor="end">0.6</text>
<line x1="271.5" y1="496.6" x2="274.5" y2="496.6" stroke-width="1"/>
<text x="269.7" y="500.2" font-size="10.6" text-anchor="end">0.4</text>
<line x1="271.5" y1="508.7" x2="274.5" y2="508.7" stroke-width="1"/>
<text x="269.7" y="512.3" font-size="10.6" text-anchor="end">0.2</text>
<line x1="271.5" y1="520.8" x2="274.5" y2="520.8" stroke-width="1"/>
<text x="269.7" y="524.4" font-size="10.6" text-anchor="end">0.0</text>
<rect x="283.05" y="519" width="10.1" height="1.8" fill="#F23F68" stroke-width="1.2"/>
<rect x="304.05" y="520" width="10.1" height="0.8" fill="#F23F68" stroke-width="1.2"/>
<rect x="325.15" y="512.8" width="10.1" height="8" fill="#F23F68" stroke-width="1.2"/>
<rect x="346.15" y="515.3" width="10.1" height="5.5" fill="#F23F68" stroke-width="1.2"/>
<rect x="367.35" y="509.5" width="10.1" height="11.3" fill="#F23F68" stroke-width="1.2"/>
<rect x="388.15" y="500.5" width="10.1" height="20.3" fill="#F23F68" stroke-width="1.2"/>
<rect x="407.75" y="507" width="10.1" height="13.8" fill="#F23F68" stroke-width="1.2"/>
<circle cx="284.5" cy="519.34" r="1.8" fill="#111" stroke="none"/>
<circle cx="286.9" cy="519.14" r="1.8" fill="#111" stroke="none"/>
<circle cx="289.3" cy="518.64" r="1.8" fill="#111" stroke="none"/>
<circle cx="291.7" cy="519.07" r="1.8" fill="#111" stroke="none"/>
<circle cx="305.5" cy="519.75" r="1.8" fill="#111" stroke="none"/>
<circle cx="307.9" cy="519.92" r="1.8" fill="#111" stroke="none"/>
<circle cx="310.3" cy="519.69" r="1.8" fill="#111" stroke="none"/>
<circle cx="312.7" cy="520.37" r="1.8" fill="#111" stroke="none"/>
<circle cx="326.6" cy="512.3" r="1.8" fill="#111" stroke="none"/>
<circle cx="329" cy="512.53" r="1.8" fill="#111" stroke="none"/>
<circle cx="331.4" cy="512.19" r="1.8" fill="#111" stroke="none"/>
<circle cx="333.8" cy="512.92" r="1.8" fill="#111" stroke="none"/>
<circle cx="347.6" cy="514.88" r="1.8" fill="#111" stroke="none"/>
<circle cx="350" cy="514.53" r="1.8" fill="#111" stroke="none"/>
<circle cx="352.4" cy="515.26" r="1.8" fill="#111" stroke="none"/>
<circle cx="354.8" cy="515.1" r="1.8" fill="#111" stroke="none"/>
<circle cx="368.8" cy="508.8" r="1.8" fill="#111" stroke="none"/>
<circle cx="371.2" cy="508.74" r="1.8" fill="#111" stroke="none"/>
<circle cx="373.6" cy="508.85" r="1.8" fill="#111" stroke="none"/>
<circle cx="376" cy="509.9" r="1.8" fill="#111" stroke="none"/>
<circle cx="389.6" cy="500.79" r="1.8" fill="#111" stroke="none"/>
<circle cx="392" cy="499.94" r="1.8" fill="#111" stroke="none"/>
<circle cx="394.4" cy="500.74" r="1.8" fill="#111" stroke="none"/>
<circle cx="396.8" cy="500.12" r="1.8" fill="#111" stroke="none"/>
<circle cx="409.2" cy="507.29" r="1.8" fill="#111" stroke="none"/>
<circle cx="411.6" cy="506.97" r="1.8" fill="#111" stroke="none"/>
<circle cx="414" cy="506.23" r="1.8" fill="#111" stroke="none"/>
<circle cx="416.4" cy="506.22" r="1.8" fill="#111" stroke="none"/>
<line x1="288.1" y1="520.8" x2="288.1" y2="522.8" stroke-width="1"/>
<text x="288.4" y="532" font-size="10.6" text-anchor="middle">M0</text>
<line x1="309.1" y1="520.8" x2="309.1" y2="522.8" stroke-width="1"/>
<text x="309.4" y="532" font-size="10.6" text-anchor="middle">M1</text>
<line x1="330.2" y1="520.8" x2="330.2" y2="522.8" stroke-width="1"/>
<text x="330.5" y="532" font-size="10.6" text-anchor="middle">M2</text>
<line x1="351.2" y1="520.8" x2="351.2" y2="522.8" stroke-width="1"/>
<text x="351.5" y="532" font-size="10.6" text-anchor="middle">M3</text>
<line x1="372.4" y1="520.8" x2="372.4" y2="522.8" stroke-width="1"/>
<text x="372.7" y="532" font-size="10.6" text-anchor="middle">M4</text>
<line x1="393.2" y1="520.8" x2="393.2" y2="522.8" stroke-width="1"/>
<text x="393.5" y="532" font-size="10.6" text-anchor="middle">M5</text>
<line x1="412.8" y1="520.8" x2="412.8" y2="522.8" stroke-width="1"/>
<text x="413.1" y="532" font-size="10.6" text-anchor="middle">M6</text>
<line x1="287.4" y1="422" x2="287.4" y2="444.5" stroke-width="1.15" stroke-dasharray="2.1 1.8"/>
<line x1="308.4" y1="422" x2="308.4" y2="444.5" stroke-width="1.15" stroke-dasharray="2.1 1.8"/>
<line x1="329.6" y1="422" x2="329.6" y2="439.5" stroke-width="1.15" stroke-dasharray="2.1 1.8"/>
<line x1="350.8" y1="422" x2="350.8" y2="439.5" stroke-width="1.15" stroke-dasharray="2.1 1.8"/>
<line x1="372" y1="422" x2="372" y2="433.7" stroke-width="1.15" stroke-dasharray="2.1 1.8"/>
<line x1="393.2" y1="422" x2="393.2" y2="429.5" stroke-width="1.15" stroke-dasharray="2.1 1.8"/>
<line x1="287.4" y1="480.7" x2="287.4" y2="503.2" stroke-width="1.15" stroke-dasharray="2.1 1.8"/>
<line x1="308.4" y1="480.7" x2="308.4" y2="503.2" stroke-width="1.15" stroke-dasharray="2.1 1.8"/>
<line x1="329.6" y1="480.7" x2="329.6" y2="497.7" stroke-width="1.15" stroke-dasharray="2.1 1.8"/>
<line x1="350.8" y1="480.7" x2="350.8" y2="497.7" stroke-width="1.15" stroke-dasharray="2.1 1.8"/>
<line x1="372" y1="480.7" x2="372" y2="492.7" stroke-width="1.15" stroke-dasharray="2.1 1.8"/>
<line x1="393.2" y1="480.7" x2="393.2" y2="487.7" stroke-width="1.15" stroke-dasharray="2.1 1.8"/>
<text x="0" y="0" font-size="10.5" text-anchor="middle" transform="translate(251.2,438) rotate(-90)">Labeled fraction</text>
<text x="317.5" y="545.7" font-size="10.5">Isotopologues</text>
<path d="M424.3,393 Q445.7,419.6 424.3,446.2" stroke-width="1.3"/>
<path d="M424.3,455 Q445.7,481.6 424.3,508.2" stroke-width="1.3"/>
<text x="441.2" y="409.3" font-size="12.5"><tspan font-style="italic">S</tspan><tspan dy="3.2" font-size="7">ISO</tspan></text>
<text x="441.7" y="427" font-size="10.5">0.81</text>
<text x="441.2" y="467.2" font-size="12.5"><tspan font-style="italic">S</tspan><tspan dy="3.2" font-size="7">ISO</tspan></text>
<text x="441.7" y="483.7" font-size="10.5">0.96</text>
</g>
<g id="panel-e">
<text x="481" y="361.8" font-size="14">e</text>
<text x="520.2" y="360.7" font-size="10.5">Isotopologue similarity score</text>
<rect x="538.4" y="371.4" width="14.2" height="6" fill="#2880FE" stroke-width="1.2"/>
<rect x="602.4" y="371.4" width="14" height="6" fill="#D9D9D9" stroke-width="1.2"/>
<text x="555.7" y="378.2" font-size="10.5">≥0.7</text>
<text x="624" y="378.2" font-size="10.5">&lt;0.7</text>
<text x="555.2" y="395.7" font-size="10.5">[U-<tspan dy="-3.6" font-size="6" stroke-width="0.1">13</tspan><tspan dy="3.6">C]-glutamine</tspan></text>
<text x="556.5" y="465" font-size="10.5">[U-<tspan dy="-3.6" font-size="6" stroke-width="0.1">13</tspan><tspan dy="3.6">C]-glucose</tspan></text>
<rect x="530.3" y="403.1" width="126.9" height="17.6" fill="#D9D9D9" stroke-width="1"/>
<rect x="530.3" y="403.1" width="76.27" height="17.6" fill="#2880FE" stroke-width="1"/>
<text x="609.57" y="415.7" font-size="10.5">60.7%</text>
<rect x="530.3" y="427.6" width="126.9" height="17.4" fill="#D9D9D9" stroke-width="1"/>
<rect x="530.3" y="427.6" width="22.97" height="17.4" fill="#2880FE" stroke-width="1"/>
<text x="556.27" y="440" font-size="10.5">18.6%</text>
<rect x="530.3" y="471.9" width="126.9" height="17.3" fill="#D9D9D9" stroke-width="1"/>
<rect x="530.3" y="471.9" width="57.99" height="17.3" fill="#2880FE" stroke-width="1"/>
<text x="591.29" y="483.7" font-size="10.5">45.7%</text>
<rect x="530.3" y="495.8" width="126.9" height="17.9" fill="#D9D9D9" stroke-width="1"/>
<rect x="530.3" y="495.8" width="18.02" height="17.9" fill="#2880FE" stroke-width="1"/>
<text x="551.32" y="508.7" font-size="10.5">14.6%</text>
<line x1="530.3" y1="397.5" x2="530.3" y2="450.3" stroke-width="1.2"/>
<path d="M530.3,465.8V519.5H657.7" stroke-width="1.2"/>
<line x1="527.6" y1="411.6" x2="530.3" y2="411.6" stroke-width="1"/>
<line x1="527.6" y1="436" x2="530.3" y2="436" stroke-width="1"/>
<line x1="527.6" y1="480.4" x2="530.3" y2="480.4" stroke-width="1"/>
<line x1="527.6" y1="504.6" x2="530.3" y2="504.6" stroke-width="1"/>
<text x="523.8" y="415" font-size="10.5" text-anchor="end">RPs</text>
<text x="523.8" y="438.3" font-size="10.5" text-anchor="end">Non-RPs</text>
<text x="523.8" y="483.3" font-size="10.5" text-anchor="end">RPs</text>
<text x="523.8" y="507.3" font-size="10.5" text-anchor="end">Non-RPs</text>
<line x1="530.3" y1="519.5" x2="530.3" y2="522.6" stroke-width="1"/>
<text x="530.3" y="532.6" font-size="10.5" text-anchor="middle">0</text>
<line x1="562" y1="519.5" x2="562" y2="522.6" stroke-width="1"/>
<text x="562" y="532.6" font-size="10.5" text-anchor="middle">25</text>
<line x1="593.6" y1="519.5" x2="593.6" y2="522.6" stroke-width="1"/>
<text x="593.6" y="532.6" font-size="10.5" text-anchor="middle">50</text>
<line x1="625.5" y1="519.5" x2="625.5" y2="522.6" stroke-width="1"/>
<text x="625.5" y="532.6" font-size="10.5" text-anchor="middle">75</text>
<line x1="657.2" y1="519.5" x2="657.2" y2="522.6" stroke-width="1"/>
<text x="658.8" y="532.6" font-size="10.5" text-anchor="middle">100</text>
<text x="557.2" y="545" font-size="10.5">Percentage (%)</text>
</g>
</svg></body></html>
